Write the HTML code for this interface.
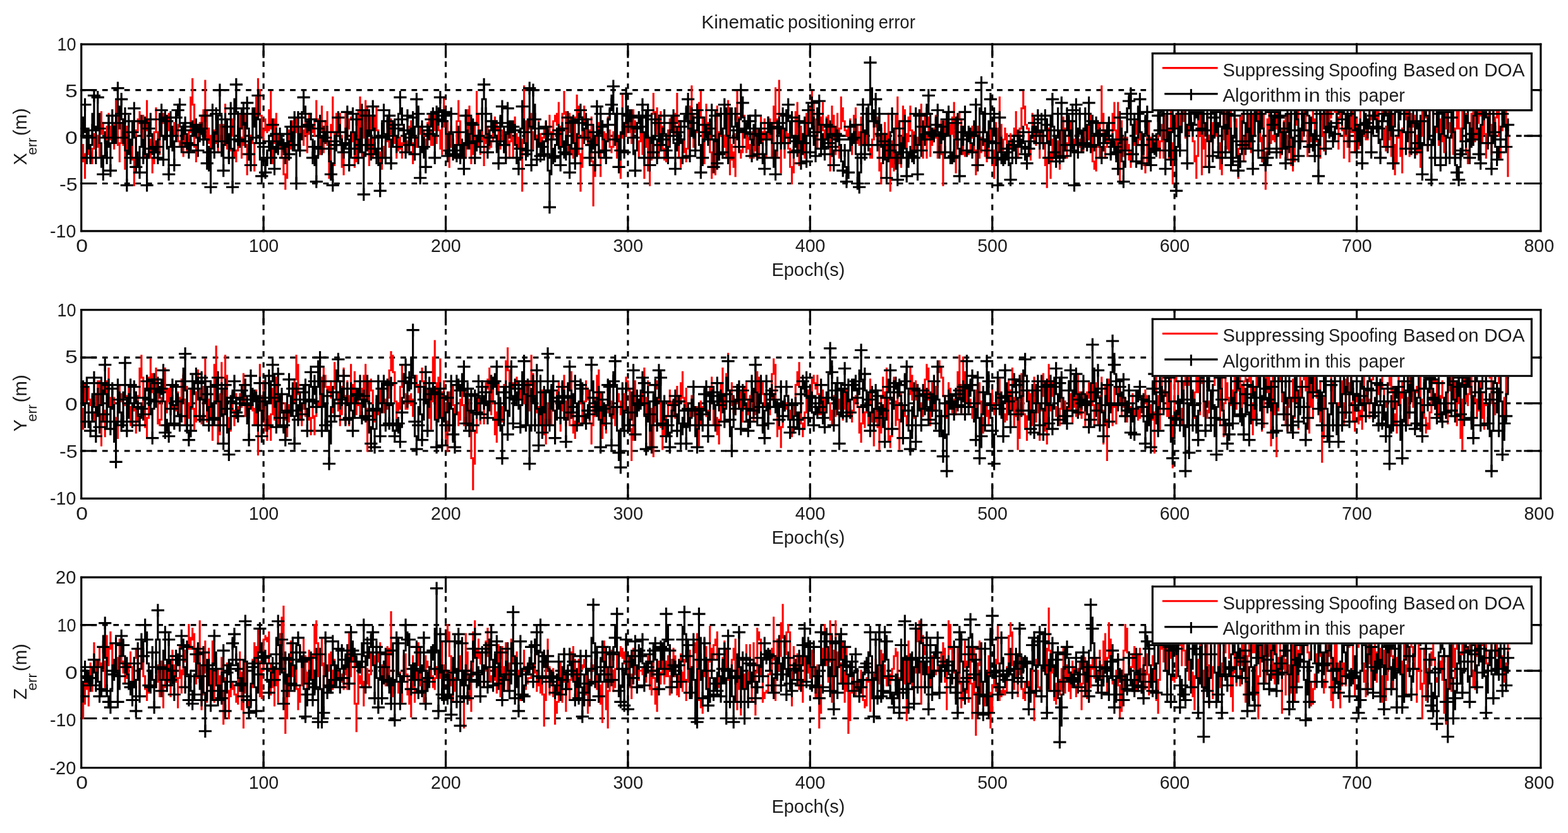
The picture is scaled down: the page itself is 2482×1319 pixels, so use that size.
<!DOCTYPE html>
<html lang="en">
<head>
<meta charset="utf-8">
<title>Kinematic positioning error</title>
<style>
html,body{margin:0;padding:0;background:#fff;}
body{width:2482px;height:1319px;overflow:hidden;}
svg{display:block;}
text{font-family:"Liberation Sans", Arial, Helvetica, sans-serif;font-size:29.2px;fill:#1c1c1c;}
.v{fill:none;stroke:#000;stroke-width:3.15;}
.h{fill:none;stroke:#000;stroke-width:3.15;}
.vg{fill:none;stroke:#000;stroke-width:3.15;stroke-dasharray:8.72 8.72;}
.hg{fill:none;stroke:#000;stroke-width:3.15;stroke-dasharray:8.742 8.742;}
.red{fill:none;stroke:#f00;stroke-width:3.15;}
.rh{fill:none;stroke:#f00;stroke-width:3.15;}
.lg{fill:#fff;stroke:none;}
</style>
</head>
<body>
<svg xmlns="http://www.w3.org/2000/svg" width="2482" height="1319" viewBox="0 0 2482 1319">
<rect x="0" y="0" width="2482" height="1319" fill="#fff"/>
<text x="1110.3" y="45.3" textLength="131.1" lengthAdjust="spacingAndGlyphs">Kinematic</text>
<text x="1247" y="45.3" textLength="137.4" lengthAdjust="spacingAndGlyphs">positioning</text>
<text x="1390.8" y="45.3" textLength="58" lengthAdjust="spacingAndGlyphs">error</text>
<g id="plot1">
<clipPath id="clip0"><rect x="127.3" y="68.6" width="2312.97" height="298.7"/></clipPath>
<path class="vg" d="M417.14 367.58V68.6M705.54 367.58V68.6M993.94 367.58V68.6M1282.34 367.58V68.6M1570.74 367.58V68.6M1859.14 367.58V68.6M2147.54 367.58V68.6"/>
<path class="hg" d="M126.93 290.45H2440.27M126.93 215.05H2440.27M126.93 142.55H2440.27"/>
<path class="v" d="M417.14 68.6V91.8M417.14 367.3V344.1M705.54 68.6V91.8M705.54 367.3V344.1M993.94 68.6V91.8M993.94 367.3V344.1M1282.34 68.6V91.8M1282.34 367.3V344.1M1570.74 68.6V91.8M1570.74 367.3V344.1M1859.14 68.6V91.8M1859.14 367.3V344.1M2147.54 68.6V91.8M2147.54 367.3V344.1"/>
<path class="h" d="M127.3 290.45H153.26M2440.27 290.45H2412.29M127.3 215.05H153.26M2440.27 215.05H2412.29M127.3 142.55H153.26M2440.27 142.55H2412.29"/>
<g clip-path="url(#clip0)">
<path class="red" d="M131.63 228.1V257.1M134.51 242.6V283.2M137.39 202V245.5M140.28 219.4V245.5M143.16 242.6V257.1M146.05 233.9V260M148.93 210.7V236.8M151.81 210.7V216.5M154.7 213.6V233.9M157.58 210.7V248.4M160.47 175.9V213.6M163.35 193.3V213.6M166.23 210.7V219.4M169.12 199.1V222.3M172 178.8V202M174.89 199.1V222.3M177.77 216.5V228.1M180.65 196.2V236.8M183.54 158.5V199.1M186.42 181.7V231M189.31 225.2V257.1M192.19 193.3V228.1M195.07 187.5V231M197.96 228.1V268.7M200.84 199.1V236.8M203.73 207.8V228.1M206.61 222.3V239.7M209.49 207.8V254.2M212.38 251.3V294.8M215.26 204.9V257.1M218.15 187.5V207.8M221.03 175.9V196.2M223.91 193.3V210.7M226.8 181.7V219.4M229.68 204.9V251.3M232.57 158.5V207.8M235.45 187.5V222.3M238.33 219.4V251.3M241.22 248.4V274.5M244.1 207.8V260M246.99 170.1V210.7M249.87 207.8V245.5M252.75 210.7V245.5M255.64 178.8V213.6M258.52 178.8V196.2M261.41 193.3V222.3M264.29 204.9V233.9M267.17 178.8V207.8M270.06 196.2V213.6M272.94 210.7V213.6M275.83 193.3V213.6M278.71 178.8V199.1M281.59 196.2V225.2M284.48 222.3V233.9M287.36 216.5V233.9M290.25 222.3V248.4M293.13 196.2V225.2M296.01 216.5V239.7M298.9 207.8V239.7M301.78 152.7V210.7M304.67 123.7V167.2M307.55 164.3V233.9M310.43 228.1V257.1M313.32 199.1V231M316.2 193.3V207.8M319.09 181.7V204.9M321.97 173V222.3M324.85 126.6V178.8M327.74 175.9V225.2M330.62 202V228.1M333.51 213.6V251.3M336.39 178.8V216.5M339.27 204.9V233.9M342.16 207.8V228.1M345.04 219.4V242.6M347.93 196.2V222.3M350.81 216.5V239.7M353.69 196.2V233.9M356.58 164.3V199.1M359.46 187.5V236.8M362.35 233.9V257.1M365.23 202V239.7M368.11 187.5V216.5M371 213.6V248.4M373.88 236.8V257.1M376.77 199.1V239.7M379.65 181.7V219.4M382.53 216.5V251.3M385.42 193.3V231M388.3 178.8V231M391.19 228.1V277.4M394.07 216.5V248.4M396.95 213.6V251.3M399.84 178.8V228.1M402.72 225.2V271.6M405.61 152.7V228.1M408.49 123.7V155.6M411.37 141.1V184.6M414.26 181.7V216.5M417.14 204.9V222.3M420.03 187.5V207.8M422.91 199.1V210.7M425.79 173V207.8M428.68 144V204.9M431.56 202V260M434.45 187.5V228.1M437.33 178.8V213.6M440.21 210.7V242.6M443.1 216.5V236.8M445.98 233.9V251.3M448.87 248.4V277.4M451.75 274.5V300.6M454.63 233.9V283.2M457.52 204.9V236.8M460.4 213.6V236.8M463.29 190.4V216.5M466.17 204.9V219.4M469.05 187.5V210.7M471.94 178.8V202M474.82 199.1V219.4M477.71 178.8V207.8M480.59 204.9V231M483.47 178.8V213.6M486.36 210.7V242.6M489.24 178.8V213.6M492.13 190.4V202M495.01 199.1V210.7M497.89 187.5V216.5M500.78 158.5V190.4M503.66 187.5V231M506.55 204.9V245.5M509.43 167.2V207.8M512.31 204.9V242.6M515.2 190.4V225.2M518.08 175.9V231M520.97 228.1V283.2M523.85 196.2V262.9M526.73 152.7V210.7M529.62 207.8V262.9M532.5 178.8V222.3M535.39 196.2V213.6M538.27 178.8V216.5M541.15 213.6V265.8M544.04 228.1V277.4M546.92 178.8V231M549.81 199.1V219.4M552.69 187.5V204.9M555.57 184.6V190.4M558.46 181.7V225.2M561.34 222.3V265.8M564.23 219.4V257.1M567.11 175.9V222.3M569.99 152.7V202M572.88 199.1V248.4M575.76 173V219.4M578.65 158.5V175.9M581.53 170.1V222.3M584.41 219.4V262.9M587.3 184.6V225.2M590.18 216.5V251.3M593.07 181.7V222.3M595.95 170.1V207.8M598.83 204.9V242.6M601.72 239.7V257.1M604.6 248.4V268.7M607.49 231V251.3M610.37 222.3V251.3M613.25 193.3V225.2M616.14 210.7V233.9M619.02 187.5V213.6M621.91 193.3V202M624.79 199.1V228.1M627.67 225.2V251.3M630.56 219.4V239.7M633.44 216.5V236.8M636.33 225.2V251.3M639.21 199.1V228.1M642.09 216.5V239.7M644.98 222.3V239.7M647.86 199.1V225.2M650.75 190.4V228.1M653.63 225.2V260M656.51 231V254.2M659.4 216.5V233.9M662.28 210.7V219.4M665.17 199.1V213.6M668.05 196.2V207.8M670.93 204.9V225.2M673.82 219.4V236.8M676.7 193.3V222.3M679.59 181.7V207.8M682.47 204.9V231M685.35 204.9V231M688.24 181.7V207.8M691.12 204.9V228.1M694.01 184.6V207.8M696.89 204.9V236.8M699.77 199.1V245.5M702.66 152.7V202M705.54 193.3V236.8M708.43 190.4V231M711.31 228.1V265.8M714.19 199.1V233.9M717.08 219.4V248.4M719.96 233.9V251.3M722.85 190.4V236.8M725.73 158.5V193.3M728.61 190.4V233.9M731.5 231V245.5M734.38 242.6V251.3M737.27 213.6V251.3M740.15 173V216.5M743.03 167.2V216.5M745.92 213.6V260M748.8 225.2V245.5M751.69 193.3V245.5M754.57 144V196.2M757.45 178.8V231M760.34 210.7V245.5M763.22 178.8V222.3M766.11 219.4V262.9M768.99 190.4V228.1M771.87 199.1V225.2M774.76 222.3V236.8M777.64 222.3V233.9M780.53 202V225.2M783.41 184.6V204.9M786.29 190.4V204.9M789.18 202V225.2M792.06 219.4V236.8M794.95 204.9V222.3M797.83 216.5V242.6M800.71 228.1V254.2M803.6 204.9V231M806.48 222.3V251.3M809.37 196.2V225.2M812.25 216.5V251.3M815.13 184.6V219.4M818.02 210.7V236.8M820.9 216.5V236.8M823.79 202V254.2M826.67 219.4V303.5M829.55 135.3V222.3M832.44 190.4V245.5M835.32 202V231M838.21 184.6V204.9M841.09 178.8V210.7M843.97 207.8V236.8M846.86 190.4V216.5M849.74 213.6V236.8M852.63 190.4V216.5M855.51 210.7V231M858.39 216.5V225.2M861.28 204.9V219.4M864.16 193.3V213.6M867.05 204.9V228.1M869.93 181.7V210.7M872.81 207.8V236.8M875.7 190.4V219.4M878.58 181.7V193.3M881.47 178.8V199.1M884.35 161.4V202M887.23 199.1V239.7M890.12 178.8V228.1M893 144V181.7M895.89 175.9V225.2M898.77 207.8V239.7M901.65 178.8V210.7M904.54 207.8V245.5M907.42 233.9V251.3M910.31 184.6V236.8M913.19 149.8V187.5M916.07 167.2V245.5M918.96 242.6V303.5M921.84 196.2V265.8M924.73 167.2V199.1M927.61 187.5V222.3M930.49 219.4V231M933.38 204.9V231M936.26 184.6V257.1M939.15 254.2V326.7M942.03 228.1V280.3M944.91 210.7V231M947.8 193.3V239.7M950.68 236.8V280.3M953.57 202V242.6M956.45 207.8V225.2M959.33 210.7V236.8M962.22 184.6V213.6M965.1 204.9V233.9M967.99 231V242.6M970.87 207.8V233.9M973.75 196.2V225.2M976.64 222.3V251.3M979.52 213.6V251.3M982.41 216.5V283.2M985.29 149.8V219.4M988.17 193.3V236.8M991.06 187.5V216.5M993.94 181.7V190.4M996.83 187.5V210.7M999.71 199.1V228.1M1002.59 173V202M1005.48 190.4V210.7M1008.36 207.8V233.9M1011.25 222.3V251.3M1014.13 193.3V225.2M1017.01 199.1V245.5M1019.9 231V283.2M1022.78 181.7V233.9M1025.67 213.6V271.6M1028.55 251.3V294.8M1031.43 178.8V254.2M1034.32 146.9V181.7M1037.2 175.9V207.8M1040.09 170.1V213.6M1042.97 210.7V251.3M1045.85 175.9V216.5M1048.74 199.1V236.8M1051.62 233.9V254.2M1054.51 236.8V257.1M1057.39 204.9V239.7M1060.27 187.5V207.8M1063.16 184.6V199.1M1066.04 196.2V210.7M1068.93 178.8V213.6M1071.81 146.9V193.3M1074.69 190.4V251.3M1077.58 248.4V265.8M1080.46 228.1V251.3M1083.35 222.3V242.6M1086.23 233.9V257.1M1089.11 204.9V236.8M1092 167.2V207.8M1094.88 135.3V181.7M1097.77 178.8V233.9M1100.65 207.8V239.7M1103.53 178.8V210.7M1106.42 161.4V181.7M1109.3 144V187.5M1112.19 184.6V245.5M1115.07 210.7V260M1117.95 164.3V213.6M1120.84 193.3V225.2M1123.72 199.1V242.6M1126.61 239.7V283.2M1129.49 222.3V254.2M1132.37 222.3V277.4M1135.26 167.2V225.2M1138.14 207.8V251.3M1141.03 178.8V216.5M1143.91 207.8V239.7M1146.79 213.6V233.9M1149.68 204.9V251.3M1152.56 158.5V219.4M1155.45 216.5V277.4M1158.33 228.1V254.2M1161.21 239.7V265.8M1164.1 210.7V280.3M1166.98 144V213.6M1169.87 184.6V239.7M1172.75 236.8V251.3M1175.63 207.8V242.6M1178.52 181.7V213.6M1181.4 210.7V242.6M1184.29 216.5V236.8M1187.17 228.1V251.3M1190.05 207.8V231M1192.94 228.1V251.3M1195.82 213.6V239.7M1198.71 202V228.1M1201.59 216.5V251.3M1204.47 184.6V219.4M1207.36 207.8V231M1210.24 187.5V222.3M1213.13 216.5V251.3M1216.01 184.6V219.4M1218.89 187.5V222.3M1221.78 219.4V251.3M1224.66 167.2V225.2M1227.55 138.2V196.2M1230.43 187.5V248.4M1233.31 126.6V202M1236.2 199.1V274.5M1239.08 178.8V228.1M1241.97 213.6V251.3M1244.85 184.6V219.4M1247.73 210.7V236.8M1250.62 233.9V265.8M1253.5 262.9V291.9M1256.39 222.3V274.5M1259.27 175.9V225.2M1262.15 161.4V213.6M1265.04 210.7V262.9M1267.92 199.1V233.9M1270.81 210.7V239.7M1273.69 213.6V251.3M1276.57 178.8V216.5M1279.46 181.7V190.4M1282.34 170.1V196.2M1285.23 144V173M1288.11 161.4V190.4M1290.99 187.5V219.4M1293.88 207.8V236.8M1296.76 178.8V210.7M1299.65 184.6V207.8M1302.53 161.4V207.8M1305.41 204.9V248.4M1308.3 184.6V219.4M1311.18 181.7V228.1M1314.07 219.4V271.6M1316.95 167.2V222.3M1319.83 181.7V222.3M1322.72 210.7V245.5M1325.6 178.8V216.5M1328.49 202V251.3M1331.37 152.7V204.9M1334.25 170.1V193.3M1337.14 190.4V207.8M1340.02 204.9V216.5M1342.91 202V216.5M1345.79 187.5V219.4M1348.67 216.5V245.5M1351.56 181.7V219.4M1354.44 170.1V199.1M1357.33 196.2V228.1M1360.21 207.8V231M1363.09 184.6V210.7M1365.98 196.2V228.1M1368.86 225.2V245.5M1371.75 210.7V231M1374.63 216.5V236.8M1377.51 233.9V251.3M1380.4 219.4V251.3M1383.28 193.3V222.3M1386.17 193.3V202M1389.05 184.6V219.4M1391.93 216.5V271.6M1394.82 257.1V291.9M1397.7 210.7V260M1400.59 193.3V225.2M1403.47 213.6V251.3M1406.35 178.8V242.6M1409.24 239.7V303.5M1412.12 222.3V265.8M1415.01 239.7V271.6M1417.89 181.7V242.6M1420.77 152.7V204.9M1423.66 202V260M1426.54 216.5V265.8M1429.43 167.2V219.4M1432.31 173V213.6M1435.19 210.7V245.5M1438.08 184.6V225.2M1440.96 167.2V207.8M1443.85 204.9V245.5M1446.73 207.8V228.1M1449.61 222.3V239.7M1452.5 216.5V231M1455.38 190.4V219.4M1458.27 164.3V210.7M1461.15 207.8V251.3M1464.03 178.8V216.5M1466.92 213.6V251.3M1469.8 184.6V219.4M1472.69 216.5V248.4M1475.57 210.7V231M1478.45 202V225.2M1481.34 181.7V219.4M1484.22 216.5V251.3M1487.11 210.7V242.6M1489.99 190.4V245.5M1492.87 242.6V294.8M1495.76 190.4V245.5M1498.64 184.6V193.3M1501.53 178.8V199.1M1504.41 196.2V216.5M1507.29 184.6V213.6M1510.18 161.4V219.4M1513.06 216.5V274.5M1515.95 181.7V231M1518.83 178.8V190.4M1521.71 187.5V219.4M1524.6 216.5V245.5M1527.48 239.7V248.4M1530.37 233.9V242.6M1533.25 236.8V245.5M1536.13 216.5V239.7M1539.02 199.1V219.4M1541.9 196.2V239.7M1544.79 236.8V277.4M1547.67 199.1V239.7M1550.55 225.2V251.3M1553.44 216.5V242.6M1556.32 202V222.3M1559.21 219.4V248.4M1562.09 245.5V257.1M1564.97 222.3V251.3M1567.86 204.9V225.2M1570.74 222.3V262.9M1573.63 236.8V283.2M1576.51 193.3V239.7M1579.39 202V251.3M1582.28 152.7V204.9M1585.16 196.2V239.7M1588.05 219.4V239.7M1590.93 202V222.3M1593.81 210.7V236.8M1596.7 231V251.3M1599.58 210.7V233.9M1602.47 231V251.3M1605.35 202V239.7M1608.23 175.9V216.5M1611.12 213.6V251.3M1614 202V231M1616.89 170.1V204.9M1619.77 144V173M1622.65 167.2V199.1M1625.54 196.2V204.9M1628.42 202V231M1631.31 216.5V254.2M1634.19 178.8V219.4M1637.07 199.1V228.1M1639.96 204.9V231M1642.84 178.8V216.5M1645.73 213.6V251.3M1648.61 196.2V225.2M1651.49 210.7V228.1M1654.38 225.2V262.9M1657.26 248.4V297.7M1660.15 202V251.3M1663.03 242.6V283.2M1665.91 219.4V254.2M1668.8 219.4V231M1671.68 228.1V239.7M1674.57 222.3V248.4M1677.45 245.5V268.7M1680.33 204.9V248.4M1683.22 184.6V207.8M1686.1 202V236.8M1688.99 225.2V251.3M1691.87 196.2V228.1M1694.75 190.4V204.9M1697.64 202V231M1700.52 219.4V245.5M1703.41 193.3V222.3M1706.29 216.5V242.6M1709.17 219.4V233.9M1712.06 228.1V239.7M1714.94 222.3V239.7M1717.83 204.9V225.2M1720.71 196.2V210.7M1723.59 199.1V222.3M1726.48 178.8V216.5M1729.36 213.6V257.1M1732.25 254.2V268.7M1735.13 231V271.6M1738.01 193.3V233.9M1740.9 193.3V251.3M1743.78 135.3V196.2M1746.67 178.8V239.7M1749.55 231V251.3M1752.43 204.9V233.9M1755.32 193.3V225.2M1758.2 222.3V251.3M1761.09 178.8V225.2M1763.97 161.4V207.8M1766.85 204.9V251.3M1769.74 161.4V225.2M1772.62 222.3V286.1M1775.51 190.4V239.7M1778.39 216.5V248.4M1781.27 233.9V251.3M1784.16 216.5V236.8M1787.04 228.1V254.2M1789.93 239.7V265.8M1792.81 216.5V242.6M1795.69 210.7V231M1798.58 190.4V213.6M1801.46 210.7V231M1804.35 207.8V222.3M1807.23 219.4V239.7M1810.11 236.8V262.9M1813 257.1V274.5M1815.88 216.5V260M1818.77 190.4V219.4M1821.65 216.5V242.6M1824.53 210.7V228.1M1827.42 219.4V228.1M1830.3 219.4V228.1M1833.19 213.6V233.9M1836.07 222.3V251.3M1838.95 196.2V225.2M1841.84 216.5V251.3M1844.72 181.7V219.4M1847.61 184.6V222.3M1850.49 204.9V251.3M1853.37 158.5V228.1M1856.26 225.2V291.9M1859.14 181.7V239.7M1862.03 178.8V204.9M1864.91 155.6V181.7M1867.79 178.8V204.9M1870.68 173V193.3M1873.56 164.3V193.3M1876.45 190.4V219.4M1879.33 210.7V222.3M1882.21 193.3V213.6M1885.1 184.6V202M1887.98 199.1V225.2M1890.87 222.3V257.1M1893.75 245.5V283.2M1896.63 181.7V248.4M1899.52 152.7V216.5M1902.4 213.6V277.4M1905.29 190.4V236.8M1908.17 219.4V262.9M1911.05 178.8V222.3M1913.94 213.6V251.3M1916.82 196.2V225.2M1919.71 193.3V228.1M1922.59 161.4V196.2M1925.47 187.5V216.5M1928.36 196.2V228.1M1931.24 225.2V268.7M1934.13 219.4V277.4M1937.01 164.3V222.3M1939.89 175.9V210.7M1942.78 207.8V236.8M1945.66 202V239.7M1948.55 152.7V204.9M1951.43 141.1V155.6M1954.31 152.7V190.4M1957.2 187.5V248.4M1960.08 233.9V283.2M1962.97 184.6V236.8M1965.85 178.8V219.4M1968.73 216.5V254.2M1971.62 199.1V228.1M1974.5 207.8V236.8M1977.39 178.8V213.6M1980.27 210.7V242.6M1983.15 178.8V213.6M1986.04 178.8V216.5M1988.92 144V181.7M1991.81 175.9V210.7M1994.69 190.4V225.2M1997.57 216.5V257.1M2000.46 178.8V242.6M2003.34 239.7V300.6M2006.23 187.5V248.4M2009.11 178.8V204.9M2011.99 202V228.1M2014.88 213.6V222.3M2017.76 202V225.2M2020.65 170.1V204.9M2023.53 161.4V207.8M2026.41 204.9V251.3M2029.3 202V231M2032.18 190.4V204.9M2035.07 181.7V219.4M2037.95 213.6V251.3M2040.83 178.8V216.5M2043.72 213.6V262.9M2046.6 254.2V271.6M2049.49 196.2V257.1M2052.37 155.6V199.1M2055.25 167.2V207.8M2058.14 204.9V231M2061.02 196.2V225.2M2063.91 170.1V199.1M2066.79 161.4V207.8M2069.67 204.9V248.4M2072.56 193.3V222.3M2075.44 190.4V225.2M2078.33 158.5V193.3M2081.21 187.5V219.4M2084.09 207.8V225.2M2086.98 222.3V245.5M2089.86 213.6V251.3M2092.75 178.8V216.5M2095.63 207.8V239.7M2098.51 175.9V219.4M2101.4 152.7V178.8M2104.28 173V193.3M2107.17 170.1V187.5M2110.05 161.4V173M2112.93 170.1V178.8M2115.82 161.4V202M2118.7 184.6V236.8M2121.59 132.4V187.5M2124.47 146.9V207.8M2127.35 204.9V251.3M2130.24 178.8V216.5M2133.12 193.3V233.9M2136.01 207.8V257.1M2138.89 158.5V210.7M2141.77 167.2V210.7M2144.66 207.8V242.6M2147.54 187.5V216.5M2150.43 204.9V236.8M2153.31 175.9V210.7M2156.19 207.8V239.7M2159.08 190.4V216.5M2161.96 204.9V222.3M2164.85 199.1V222.3M2167.73 175.9V202M2170.61 181.7V190.4M2173.5 167.2V193.3M2176.38 141.1V170.1M2179.27 167.2V196.2M2182.15 170.1V196.2M2185.03 149.8V173M2187.92 164.3V204.9M2190.8 202V233.9M2193.69 199.1V239.7M2196.57 161.4V202M2199.45 178.8V222.3M2202.34 213.6V248.4M2205.22 178.8V231M2208.11 228.1V277.4M2210.99 216.5V260M2213.87 193.3V219.4M2216.76 204.9V248.4M2219.64 202V274.5M2222.53 129.5V204.9M2225.41 158.5V190.4M2228.29 146.9V199.1M2231.18 196.2V248.4M2234.06 178.8V216.5M2236.95 190.4V202M2239.83 181.7V216.5M2242.71 213.6V245.5M2245.6 213.6V242.6M2248.48 213.6V265.8M2251.37 161.4V216.5M2254.25 152.7V178.8M2257.13 129.5V187.5M2260.02 184.6V239.7M2262.9 170.1V210.7M2265.79 161.4V175.9M2268.67 164.3V187.5M2271.55 141.1V167.2M2274.44 164.3V210.7M2277.32 207.8V231M2280.21 187.5V210.7M2283.09 196.2V225.2M2285.97 202V242.6M2288.86 161.4V204.9M2291.74 173V199.1M2294.63 193.3V210.7M2297.51 178.8V210.7M2300.39 207.8V245.5M2303.28 202V248.4M2306.16 158.5V204.9M2309.05 170.1V204.9M2311.93 202V225.2M2314.81 164.3V210.7M2317.7 135.3V181.7M2320.58 178.8V242.6M2323.47 239.7V260M2326.35 228.1V251.3M2329.23 178.8V231M2332.12 135.3V181.7M2335 178.8V225.2M2337.89 193.3V219.4M2340.77 158.5V196.2M2343.65 138.2V184.6M2346.54 181.7V228.1M2349.42 170.1V213.6M2352.31 210.7V251.3M2355.19 178.8V231M2358.07 146.9V199.1M2360.96 196.2V245.5M2363.84 164.3V207.8M2366.73 184.6V216.5M2369.61 152.7V187.5M2372.49 167.2V216.5M2375.38 204.9V251.3M2378.26 161.4V207.8M2381.15 155.6V181.7M2384.03 132.4V207.8M2386.91 204.9V280.3"/>
<path class="v" d="M131.63 184.6V204.9M134.51 164.3V210.7M137.39 207.8V251.3M140.28 216.5V236.8M143.16 228.1V251.3M146.05 178.8V231M148.93 149.8V202M151.81 199.1V251.3M154.7 152.7V204.9M157.58 178.8V228.1M160.47 225.2V265.8M163.35 245.5V277.4M166.23 216.5V248.4M169.12 222.3V251.3M172 193.3V233.9M174.89 225.2V271.6M177.77 181.7V228.1M180.65 199.1V219.4M183.54 178.8V219.4M186.42 138.2V181.7M189.31 167.2V196.2M192.19 155.6V190.4M195.07 187.5V219.4M197.96 178.8V239.7M200.84 236.8V294.8M203.73 190.4V245.5M206.61 219.4V251.3M209.49 190.4V231M212.38 170.1V219.4M215.26 216.5V265.8M218.15 248.4V262.9M221.03 231V274.5M223.91 190.4V233.9M226.8 219.4V251.3M229.68 193.3V245.5M232.57 242.6V294.8M235.45 196.2V251.3M238.33 187.5V213.6M241.22 210.7V239.7M244.1 236.8V242.6M246.99 231V242.6M249.87 219.4V251.3M252.75 181.7V222.3M255.64 173V216.5M258.52 213.6V254.2M261.41 184.6V222.3M264.29 187.5V236.8M267.17 231V277.4M270.06 184.6V233.9M272.94 199.1V239.7M275.83 222.3V262.9M278.71 178.8V225.2M281.59 170.1V181.7M284.48 164.3V202M287.36 199.1V233.9M290.25 199.1V222.3M293.13 193.3V213.6M296.01 210.7V236.8M298.9 233.9V242.6M301.78 213.6V236.8M304.67 199.1V216.5M307.55 202V207.8M310.43 196.2V219.4M313.32 216.5V239.7M316.2 204.9V225.2M319.09 202V213.6M321.97 202V222.3M324.85 181.7V222.3M327.74 219.4V260M330.62 239.7V271.6M333.51 233.9V297.7M336.39 173V236.8M339.27 207.8V242.6M342.16 178.8V213.6M345.04 181.7V225.2M347.93 141.1V184.6M350.81 181.7V248.4M353.69 228.1V271.6M356.58 187.5V231M359.46 193.3V228.1M362.35 210.7V251.3M365.23 170.1V236.8M368.11 233.9V297.7M371 155.6V239.7M373.88 132.4V178.8M376.77 175.9V225.2M379.65 202V225.2M382.53 175.9V204.9M385.42 170.1V199.1M388.3 193.3V225.2M391.19 161.4V204.9M394.07 202V254.2M396.95 219.4V262.9M399.84 178.8V222.3M402.72 178.8V202M405.61 184.6V219.4M408.49 149.8V190.4M411.37 187.5V254.2M414.26 251.3V280.3M417.14 231V257.1M420.03 251.3V274.5M422.91 236.8V262.9M425.79 222.3V239.7M428.68 222.3V251.3M431.56 196.2V233.9M434.45 231V268.7M437.33 210.7V242.6M440.21 222.3V236.8M443.1 210.7V225.2M445.98 219.4V231M448.87 228.1V242.6M451.75 231V251.3M454.63 210.7V233.9M457.52 222.3V245.5M460.4 199.1V225.2M463.29 207.8V231M466.17 184.6V239.7M469.05 236.8V291.9M471.94 184.6V239.7M474.82 210.7V239.7M477.71 175.9V222.3M480.59 152.7V178.8M483.47 167.2V193.3M486.36 190.4V202M489.24 193.3V202M492.13 187.5V222.3M495.01 219.4V251.3M497.89 231V262.9M500.78 245.5V289M503.66 196.2V248.4M506.55 190.4V216.5M509.43 213.6V236.8M512.31 207.8V225.2M515.2 213.6V219.4M518.08 207.8V225.2M520.97 222.3V257.1M523.85 254.2V286.1M526.73 257.1V294.8M529.62 222.3V260M532.5 207.8V231M535.39 184.6V210.7M538.27 196.2V222.3M541.15 219.4V236.8M544.04 233.9V242.6M546.92 202V236.8M549.81 175.9V222.3M552.69 219.4V262.9M555.57 207.8V251.3M558.46 178.8V210.7M561.34 207.8V236.8M564.23 187.5V222.3M567.11 219.4V251.3M569.99 202V242.6M572.88 173V242.6M575.76 239.7V309.3M578.65 181.7V248.4M581.53 204.9V231M584.41 181.7V216.5M587.3 204.9V245.5M590.18 167.2V207.8M593.07 202V245.5M595.95 233.9V251.3M598.83 216.5V262.9M601.72 257.1V303.5M604.6 193.3V260M607.49 173V213.6M610.37 210.7V251.3M613.25 187.5V222.3M616.14 181.7V222.3M619.02 219.4V260M621.91 199.1V233.9M624.79 196.2V216.5M627.67 213.6V233.9M630.56 178.8V219.4M633.44 152.7V181.7M636.33 170.1V199.1M639.21 196.2V225.2M642.09 210.7V242.6M644.98 181.7V213.6M647.86 204.9V231M650.75 202V225.2M653.63 184.6V216.5M656.51 199.1V245.5M659.4 155.6V202M662.28 167.2V233.9M665.17 231V283.2M668.05 199.1V242.6M670.93 216.5V251.3M673.82 233.9V265.8M676.7 204.9V236.8M679.59 199.1V213.6M682.47 184.6V202M685.35 178.8V216.5M688.24 213.6V251.3M691.12 175.9V216.5M694.01 170.1V190.4M696.89 152.7V175.9M699.77 173V193.3M702.66 178.8V190.4M705.54 175.9V213.6M708.43 210.7V248.4M711.31 207.8V245.5M714.19 178.8V213.6M717.08 210.7V245.5M719.96 236.8V245.5M722.85 228.1V248.4M725.73 207.8V231M728.61 228.1V251.3M731.5 228.1V251.3M734.38 225.2V268.7M737.27 181.7V228.1M740.15 204.9V228.1M743.03 210.7V228.1M745.92 193.3V213.6M748.8 196.2V225.2M751.69 222.3V251.3M754.57 219.4V239.7M757.45 213.6V225.2M760.34 204.9V233.9M763.22 155.6V207.8M766.11 132.4V158.5M768.99 155.6V213.6M771.87 210.7V242.6M774.76 204.9V231M777.64 190.4V207.8M780.53 196.2V204.9M783.41 202V216.5M786.29 213.6V242.6M789.18 225.2V260M792.06 181.7V228.1M794.95 167.2V202M797.83 199.1V242.6M800.71 210.7V251.3M803.6 170.1V213.6M806.48 190.4V210.7M809.37 199.1V207.8M812.25 199.1V204.9M815.13 202V231M818.02 228.1V260M820.9 251.3V268.7M823.79 202V254.2M826.67 167.2V204.9M829.55 187.5V228.1M832.44 225.2V245.5M835.32 187.5V242.6M838.21 138.2V202M841.09 199.1V262.9M843.97 141.1V204.9M846.86 164.3V222.3M849.74 219.4V254.2M852.63 202V231M855.51 225.2V248.4M858.39 231V242.6M861.28 222.3V245.5M864.16 199.1V225.2M867.05 204.9V271.6M869.93 268.7V329.6M872.81 219.4V277.4M875.7 233.9V251.3M878.58 228.1V251.3M881.47 207.8V231M884.35 204.9V236.8M887.23 231V262.9M890.12 202V233.9M893 222.3V245.5M895.89 213.6V245.5M898.77 184.6V231M901.65 228.1V274.5M904.54 193.3V236.8M907.42 190.4V228.1M910.31 225.2V260M913.19 210.7V248.4M916.07 181.7V213.6M918.96 173V187.5M921.84 184.6V207.8M924.73 202V219.4M927.61 187.5V204.9M930.49 193.3V225.2M933.38 222.3V251.3M936.26 219.4V242.6M939.15 207.8V236.8M942.03 213.6V262.9M944.91 167.2V216.5M947.8 204.9V242.6M950.68 178.8V213.6M953.57 190.4V222.3M956.45 219.4V245.5M959.33 222.3V251.3M962.22 187.5V225.2M965.1 173V190.4M967.99 149.8V175.9M970.87 135.3V181.7M973.75 178.8V222.3M976.64 178.8V225.2M979.52 222.3V265.8M982.41 207.8V254.2M985.29 178.8V213.6M988.17 193.3V242.6M991.06 146.9V196.2M993.94 173V202M996.83 181.7V193.3M999.71 181.7V202M1002.59 199.1V245.5M1005.48 236.8V271.6M1008.36 193.3V239.7M1011.25 184.6V196.2M1014.13 181.7V202M1017.01 164.3V210.7M1019.9 207.8V251.3M1022.78 178.8V219.4M1025.67 173V219.4M1028.55 216.5V262.9M1031.43 187.5V228.1M1034.32 213.6V242.6M1037.2 187.5V222.3M1040.09 219.4V251.3M1042.97 193.3V225.2M1045.85 210.7V231M1048.74 202V228.1M1051.62 181.7V213.6M1054.51 210.7V245.5M1057.39 231V251.3M1060.27 204.9V233.9M1063.16 187.5V207.8M1066.04 181.7V228.1M1068.93 225.2V268.7M1071.81 207.8V239.7M1074.69 210.7V222.3M1077.58 199.1V228.1M1080.46 219.4V251.3M1083.35 184.6V222.3M1086.23 167.2V187.5M1089.11 155.6V204.9M1092 202V248.4M1094.88 178.8V216.5M1097.77 187.5V219.4M1100.65 204.9V239.7M1103.53 173V207.8M1106.42 178.8V231M1109.3 228.1V274.5M1112.19 222.3V262.9M1115.07 196.2V225.2M1117.95 202V216.5M1120.84 210.7V222.3M1123.72 187.5V213.6M1126.61 173V222.3M1129.49 219.4V265.8M1132.37 181.7V225.2M1135.26 219.4V260M1138.14 210.7V254.2M1141.03 178.8V213.6M1143.91 202V242.6M1146.79 164.3V204.9M1149.68 173V216.5M1152.56 213.6V251.3M1155.45 178.8V216.5M1158.33 178.8V202M1161.21 199.1V219.4M1164.1 178.8V202M1166.98 193.3V222.3M1169.87 187.5V233.9M1172.75 141.1V190.4M1175.63 152.7V187.5M1178.52 184.6V210.7M1181.4 196.2V207.8M1184.29 190.4V199.1M1187.17 190.4V222.3M1190.05 219.4V248.4M1192.94 196.2V231M1195.82 181.7V216.5M1198.71 213.6V245.5M1201.59 207.8V231M1204.47 202V228.1M1207.36 225.2V260M1210.24 242.6V268.7M1213.13 207.8V245.5M1216.01 193.3V210.7M1218.89 199.1V204.9M1221.78 202V228.1M1224.66 225.2V265.8M1227.55 236.8V277.4M1230.43 196.2V239.7M1233.31 193.3V213.6M1236.2 202V228.1M1239.08 178.8V204.9M1241.97 202V228.1M1244.85 173V207.8M1247.73 164.3V193.3M1250.62 190.4V219.4M1253.5 184.6V216.5M1256.39 213.6V242.6M1259.27 222.3V233.9M1262.15 213.6V239.7M1265.04 190.4V228.1M1267.92 225.2V260M1270.81 210.7V245.5M1273.69 193.3V228.1M1276.57 213.6V257.1M1279.46 173V216.5M1282.34 202V242.6M1285.23 161.4V204.9M1288.11 184.6V231M1290.99 213.6V248.4M1293.88 170.1V216.5M1296.76 158.5V199.1M1299.65 196.2V236.8M1302.53 219.4V233.9M1305.41 219.4V245.5M1308.3 196.2V222.3M1311.18 210.7V228.1M1314.07 199.1V219.4M1316.95 216.5V248.4M1319.83 236.8V262.9M1322.72 210.7V239.7M1325.6 213.6V219.4M1328.49 216.5V231M1331.37 228.1V257.1M1334.25 254.2V271.6M1337.14 236.8V265.8M1340.02 262.9V289M1342.91 236.8V283.2M1345.79 199.1V239.7M1348.67 210.7V222.3M1351.56 207.8V222.3M1354.44 196.2V245.5M1357.33 242.6V294.8M1360.21 271.6V297.7M1363.09 207.8V274.5M1365.98 164.3V210.7M1368.86 204.9V245.5M1371.75 178.8V213.6M1374.63 164.3V231M1377.51 97.6V167.2M1380.4 138.2V187.5M1383.28 173V193.3M1386.17 155.6V196.2M1389.05 193.3V231M1391.93 178.8V207.8M1394.82 196.2V233.9M1397.7 231V251.3M1400.59 222.3V254.2M1403.47 251.3V283.2M1406.35 228.1V257.1M1409.24 207.8V239.7M1412.12 178.8V210.7M1415.01 204.9V242.6M1417.89 239.7V268.7M1420.77 242.6V286.1M1423.66 202V245.5M1426.54 225.2V251.3M1429.43 216.5V248.4M1432.31 190.4V236.8M1435.19 233.9V280.3M1438.08 245.5V265.8M1440.96 239.7V248.4M1443.85 242.6V251.3M1446.73 213.6V251.3M1449.61 178.8V231M1452.5 228.1V277.4M1455.38 181.7V231M1458.27 210.7V239.7M1461.15 199.1V222.3M1464.03 199.1V222.3M1466.92 164.3V202M1469.8 149.8V181.7M1472.69 178.8V213.6M1475.57 210.7V216.5M1478.45 204.9V216.5M1481.34 184.6V207.8M1484.22 173V210.7M1487.11 207.8V242.6M1489.99 204.9V228.1M1492.87 199.1V222.3M1495.76 213.6V242.6M1498.64 181.7V216.5M1501.53 175.9V216.5M1504.41 213.6V251.3M1507.29 248.4V251.3M1510.18 219.4V251.3M1513.06 190.4V222.3M1515.95 187.5V236.8M1518.83 233.9V280.3M1521.71 207.8V245.5M1524.6 199.1V222.3M1527.48 175.9V210.7M1530.37 207.8V239.7M1533.25 207.8V225.2M1536.13 210.7V228.1M1539.02 225.2V242.6M1541.9 190.4V231M1544.79 164.3V216.5M1547.67 213.6V262.9M1550.55 170.1V236.8M1553.44 129.5V178.8M1556.32 175.9V222.3M1559.21 178.8V210.7M1562.09 207.8V239.7M1564.97 190.4V233.9M1567.86 155.6V204.9M1570.74 202V251.3M1573.63 178.8V216.5M1576.51 202V262.9M1579.39 239.7V294.8M1582.28 184.6V242.6M1585.16 216.5V254.2M1588.05 251.3V254.2M1590.93 245.5V254.2M1593.81 236.8V248.4M1596.7 233.9V262.9M1599.58 257.1V286.1M1602.47 225.2V260M1605.35 222.3V239.7M1608.23 231V251.3M1611.12 213.6V233.9M1614 219.4V231M1616.89 219.4V233.9M1619.77 207.8V228.1M1622.65 225.2V254.2M1625.54 245.5V260M1628.42 228.1V248.4M1631.31 216.5V231M1634.19 202V219.4M1637.07 193.3V207.8M1639.96 199.1V216.5M1642.84 181.7V207.8M1645.73 204.9V228.1M1648.61 187.5V210.7M1651.49 204.9V228.1M1654.38 181.7V207.8M1657.26 190.4V225.2M1660.15 222.3V251.3M1663.03 181.7V231M1665.91 155.6V202M1668.8 199.1V251.3M1671.68 216.5V257.1M1674.57 178.8V219.4M1677.45 204.9V251.3M1680.33 161.4V207.8M1683.22 204.9V248.4M1686.1 204.9V239.7M1688.99 178.8V207.8M1691.87 184.6V216.5M1694.75 204.9V239.7M1697.64 173V236.8M1700.52 228.1V294.8M1703.41 164.3V231M1706.29 202V242.6M1709.17 178.8V213.6M1712.06 204.9V231M1714.94 202V231M1717.83 178.8V207.8M1720.71 196.2V231M1723.59 161.4V199.1M1726.48 196.2V233.9M1729.36 190.4V213.6M1732.25 210.7V231M1735.13 193.3V213.6M1738.01 204.9V216.5M1740.9 210.7V233.9M1743.78 231V251.3M1746.67 219.4V239.7M1749.55 210.7V222.3M1752.43 199.1V213.6M1755.32 193.3V222.3M1758.2 219.4V245.5M1761.09 219.4V233.9M1763.97 225.2V239.7M1766.85 236.8V257.1M1769.74 225.2V268.7M1772.62 184.6V228.1M1775.51 202V257.1M1778.39 254.2V289M1781.27 207.8V265.8M1784.16 170.1V210.7M1787.04 152.7V173M1789.93 146.9V199.1M1792.81 196.2V245.5M1795.69 187.5V225.2M1798.58 216.5V257.1M1801.46 167.2V219.4M1804.35 155.6V210.7M1807.23 207.8V260M1810.11 210.7V245.5M1813 184.6V213.6M1815.88 175.9V216.5M1818.77 213.6V257.1M1821.65 239.7V262.9M1824.53 219.4V242.6M1827.42 228.1V239.7M1830.3 210.7V239.7M1833.19 181.7V213.6M1836.07 175.9V207.8M1838.95 146.9V178.8M1841.84 161.4V222.3M1844.72 219.4V268.7M1847.61 178.8V225.2M1850.49 207.8V248.4M1853.37 207.8V254.2M1856.26 161.4V210.7M1859.14 181.7V254.2M1862.03 231V303.5M1864.91 161.4V233.9M1867.79 199.1V239.7M1870.68 173V210.7M1873.56 164.3V175.9M1876.45 167.2V216.5M1879.33 196.2V260M1882.21 132.4V199.1M1885.1 164.3V204.9M1887.98 193.3V207.8M1890.87 178.8V196.2M1893.75 175.9V181.7M1896.63 164.3V181.7M1899.52 149.8V178.8M1902.4 175.9V204.9M1905.29 178.8V196.2M1908.17 193.3V207.8M1911.05 178.8V225.2M1913.94 222.3V265.8M1916.82 178.8V225.2M1919.71 213.6V248.4M1922.59 181.7V219.4M1925.47 175.9V210.7M1928.36 193.3V242.6M1931.24 146.9V202M1934.13 199.1V251.3M1937.01 152.7V204.9M1939.89 196.2V242.6M1942.78 161.4V213.6M1945.66 144V204.9M1948.55 202V262.9M1951.43 216.5V257.1M1954.31 181.7V219.4M1957.2 202V248.4M1960.08 245.5V271.6M1962.97 242.6V265.8M1965.85 190.4V245.5M1968.73 149.8V196.2M1971.62 193.3V236.8M1974.5 178.8V210.7M1977.39 202V225.2M1980.27 178.8V225.2M1983.15 213.6V268.7M1986.04 152.7V216.5M1988.92 141.1V193.3M1991.81 190.4V239.7M1994.69 167.2V210.7M1997.57 155.6V204.9M2000.46 202V257.1M2003.34 254.2V262.9M2006.23 242.6V257.1M2009.11 204.9V245.5M2011.99 175.9V207.8M2014.88 187.5V199.1M2017.76 181.7V213.6M2020.65 210.7V242.6M2023.53 184.6V216.5M2026.41 181.7V210.7M2029.3 207.8V236.8M2032.18 202V233.9M2035.07 207.8V260M2037.95 155.6V210.7M2040.83 193.3V233.9M2043.72 178.8V219.4M2046.6 216.5V254.2M2049.49 167.2V231M2052.37 129.5V190.4M2055.25 187.5V248.4M2058.14 202V236.8M2061.02 178.8V204.9M2063.91 178.8V207.8M2066.79 144V181.7M2069.67 132.4V184.6M2072.56 181.7V233.9M2075.44 193.3V216.5M2078.33 210.7V239.7M2081.21 204.9V248.4M2084.09 161.4V222.3M2086.98 219.4V280.3M2089.86 155.6V231M2092.75 129.5V158.5M2095.63 149.8V204.9M2098.51 202V236.8M2101.4 178.8V210.7M2104.28 193.3V210.7M2107.17 199.1V213.6M2110.05 210.7V225.2M2112.93 202V219.4M2115.82 178.8V204.9M2118.7 164.3V181.7M2121.59 161.4V178.8M2124.47 173V190.4M2127.35 155.6V181.7M2130.24 178.8V204.9M2133.12 178.8V204.9M2136.01 181.7V225.2M2138.89 138.2V184.6M2141.77 149.8V164.3M2144.66 161.4V204.9M2147.54 202V242.6M2150.43 202V225.2M2153.31 196.2V231M2156.19 210.7V260M2159.08 164.3V213.6M2161.96 178.8V204.9M2164.85 187.5V210.7M2167.73 164.3V204.9M2170.61 202V242.6M2173.5 178.8V213.6M2176.38 173V190.4M2179.27 187.5V204.9M2182.15 202V228.1M2185.03 219.4V251.3M2187.92 184.6V222.3M2190.8 155.6V187.5M2193.69 132.4V184.6M2196.57 181.7V233.9M2199.45 175.9V207.8M2202.34 170.1V216.5M2205.22 199.1V260M2208.11 141.1V202M2210.99 144V178.8M2213.87 175.9V207.8M2216.76 155.6V190.4M2219.64 138.2V161.4M2222.53 158.5V210.7M2225.41 207.8V236.8M2228.29 184.6V225.2M2231.18 161.4V202M2234.06 190.4V236.8M2236.95 144V196.2M2239.83 193.3V242.6M2242.71 161.4V204.9M2245.6 193.3V228.1M2248.48 190.4V236.8M2251.37 225.2V277.4M2254.25 152.7V228.1M2257.13 132.4V184.6M2260.02 181.7V231M2262.9 152.7V222.3M2265.79 219.4V286.1M2268.67 167.2V228.1M2271.55 199.1V251.3M2274.44 146.9V202M2277.32 164.3V222.3M2280.21 210.7V262.9M2283.09 161.4V213.6M2285.97 170.1V216.5M2288.86 213.6V251.3M2291.74 184.6V219.4M2294.63 216.5V251.3M2297.51 175.9V219.4M2300.39 167.2V210.7M2303.28 207.8V262.9M2306.16 260V280.3M2309.05 262.9V286.1M2311.93 239.7V265.8M2314.81 202V242.6M2317.7 164.3V204.9M2320.58 181.7V225.2M2323.47 138.2V196.2M2326.35 193.3V251.3M2329.23 210.7V233.9M2332.12 181.7V222.3M2335 141.1V184.6M2337.89 152.7V204.9M2340.77 202V254.2M2343.65 196.2V260M2346.54 132.4V199.1M2349.42 155.6V181.7M2352.31 144V187.5M2355.19 184.6V228.1M2358.07 161.4V216.5M2360.96 213.6V268.7M2363.84 178.8V225.2M2366.73 193.3V233.9M2369.61 231V254.2M2372.49 231V248.4M2375.38 199.1V233.9M2378.26 173V202M2381.15 164.3V202M2384.03 199.1V233.9M2386.91 196.2V216.5"/>
<path class="v" d="M131.63 193.3v20.3M134.51 155.6v20.3M137.39 239.7v20.3M140.28 207.8v20.3M143.16 239.7v20.3M146.05 196.2v20.3M148.93 141.1v20.3M151.81 239.7v20.3M154.7 144v20.3M157.58 193.3v20.3M160.47 239.7v20.3M163.35 265.8v20.3M166.23 207.8v20.3M169.12 239.7v20.3M172 184.6v20.3M174.89 260v20.3M177.77 173v20.3M180.65 207.8v20.3M183.54 207.8v20.3M186.42 129.5v20.3M189.31 184.6v20.3M192.19 146.9v20.3M195.07 207.8v20.3M197.96 170.1v20.3M200.84 283.2v20.3M203.73 181.7v20.3M206.61 239.7v20.3M209.49 199.1v20.3M212.38 161.4v20.3M215.26 254.2v20.3M218.15 239.7v20.3M221.03 262.9v20.3M223.91 181.7v20.3M226.8 239.7v20.3M229.68 184.6v20.3M232.57 283.2v20.3M235.45 193.3v20.3M238.33 178.8v20.3M241.22 225.2v20.3M244.1 231v20.3M246.99 222.3v20.3M249.87 239.7v20.3M252.75 178.8v20.3M255.64 164.3v20.3M258.52 242.6v20.3M261.41 175.9v20.3M264.29 181.7v20.3M267.17 265.8v20.3M270.06 175.9v20.3M272.94 204.9v20.3M275.83 251.3v20.3M278.71 175.9v20.3M281.59 164.3v20.3M284.48 155.6v20.3M287.36 222.3v20.3M290.25 196.2v20.3M293.13 184.6v20.3M296.01 216.5v20.3M298.9 231v20.3M301.78 219.4v20.3M304.67 190.4v20.3M307.55 196.2v20.3M310.43 187.5v20.3M313.32 228.1v20.3M316.2 199.1v20.3M319.09 193.3v20.3M321.97 210.7v20.3M324.85 173v20.3M327.74 248.4v20.3M330.62 231v20.3M333.51 286.1v20.3M336.39 164.3v20.3M339.27 231v20.3M342.16 170.1v20.3M345.04 213.6v20.3M347.93 132.4v20.3M350.81 213.6v20.3M353.69 260v20.3M356.58 178.8v20.3M359.46 190.4v20.3M362.35 239.7v20.3M365.23 161.4v20.3M368.11 286.1v20.3M371 170.1v20.3M373.88 123.7v20.3M376.77 210.7v20.3M379.65 213.6v20.3M382.53 170.1v20.3M385.42 161.4v20.3M388.3 213.6v20.3M391.19 152.7v20.3M394.07 233.9v20.3M396.95 251.3v20.3M399.84 170.1v20.3M402.72 170.1v20.3M405.61 207.8v20.3M408.49 141.1v20.3M411.37 216.5v20.3M414.26 268.7v20.3M417.14 222.3v20.3M420.03 262.9v20.3M422.91 239.7v20.3M425.79 213.6v20.3M428.68 239.7v20.3M431.56 187.5v20.3M434.45 257.1v20.3M437.33 202v20.3M440.21 225.2v20.3M443.1 202v20.3M445.98 216.5v20.3M448.87 219.4v20.3M451.75 239.7v20.3M454.63 202v20.3M457.52 233.9v20.3M460.4 190.4v20.3M463.29 219.4v20.3M466.17 175.9v20.3M469.05 280.3v20.3M471.94 175.9v20.3M474.82 228.1v20.3M477.71 190.4v20.3M480.59 144v20.3M483.47 170.1v20.3M486.36 190.4v20.3M489.24 187.5v20.3M492.13 178.8v20.3M495.01 239.7v20.3M497.89 222.3v20.3M500.78 277.4v20.3M503.66 193.3v20.3M506.55 181.7v20.3M509.43 225.2v20.3M512.31 199.1v20.3M515.2 207.8v20.3M518.08 199.1v20.3M520.97 225.2v20.3M523.85 265.8v20.3M526.73 283.2v20.3M529.62 213.6v20.3M532.5 219.4v20.3M535.39 175.9v20.3M538.27 199.1v20.3M541.15 219.4v20.3M544.04 231v20.3M546.92 216.5v20.3M549.81 167.2v20.3M552.69 251.3v20.3M555.57 225.2v20.3M558.46 170.1v20.3M561.34 225.2v20.3M564.23 178.8v20.3M567.11 239.7v20.3M569.99 219.4v20.3M572.88 164.3v20.3M575.76 297.7v20.3M578.65 173v20.3M581.53 219.4v20.3M584.41 173v20.3M587.3 233.9v20.3M590.18 158.5v20.3M593.07 225.2v20.3M595.95 239.7v20.3M598.83 207.8v20.3M601.72 291.9v20.3M604.6 204.9v20.3M607.49 164.3v20.3M610.37 239.7v20.3M613.25 181.7v20.3M616.14 173v20.3M619.02 248.4v20.3M621.91 193.3v20.3M624.79 187.5v20.3M627.67 222.3v20.3M630.56 193.3v20.3M633.44 144v20.3M636.33 178.8v20.3M639.21 196.2v20.3M642.09 231v20.3M644.98 173v20.3M647.86 219.4v20.3M650.75 207.8v20.3M653.63 175.9v20.3M656.51 233.9v20.3M659.4 146.9v20.3M662.28 170.1v20.3M665.17 271.6v20.3M668.05 190.4v20.3M670.93 222.3v20.3M673.82 254.2v20.3M676.7 196.2v20.3M679.59 202v20.3M682.47 178.8v20.3M685.35 170.1v20.3M688.24 239.7v20.3M691.12 167.2v20.3M694.01 178.8v20.3M696.89 144v20.3M699.77 181.7v20.3M702.66 173v20.3M705.54 167.2v20.3M708.43 236.8v20.3M711.31 228.1v20.3M714.19 170.1v20.3M717.08 233.9v20.3M719.96 228.1v20.3M722.85 236.8v20.3M725.73 199.1v20.3M728.61 239.7v20.3M731.5 219.4v20.3M734.38 257.1v20.3M737.27 173v20.3M740.15 216.5v20.3M743.03 216.5v20.3M745.92 184.6v20.3M748.8 187.5v20.3M751.69 239.7v20.3M754.57 213.6v20.3M757.45 204.9v20.3M760.34 222.3v20.3M763.22 170.1v20.3M766.11 123.7v20.3M768.99 170.1v20.3M771.87 231v20.3M774.76 207.8v20.3M777.64 181.7v20.3M780.53 190.4v20.3M783.41 196.2v20.3M786.29 213.6v20.3M789.18 248.4v20.3M792.06 184.6v20.3M794.95 158.5v20.3M797.83 219.4v20.3M800.71 239.7v20.3M803.6 161.4v20.3M806.48 199.1v20.3M809.37 190.4v20.3M812.25 190.4v20.3M815.13 196.2v20.3M818.02 239.7v20.3M820.9 257.1v20.3M823.79 225.2v20.3M826.67 158.5v20.3M829.55 199.1v20.3M832.44 233.9v20.3M835.32 228.1v20.3M838.21 129.5v20.3M841.09 251.3v20.3M843.97 132.4v20.3M846.86 178.8v20.3M849.74 242.6v20.3M852.63 193.3v20.3M855.51 236.8v20.3M858.39 222.3v20.3M861.28 233.9v20.3M864.16 190.4v20.3M867.05 202v20.3M869.93 318v20.3M872.81 210.7v20.3M875.7 239.7v20.3M878.58 236.8v20.3M881.47 202v20.3M884.35 196.2v20.3M887.23 251.3v20.3M890.12 193.3v20.3M893 231v20.3M895.89 233.9v20.3M898.77 175.9v20.3M901.65 262.9v20.3M904.54 184.6v20.3M907.42 181.7v20.3M910.31 248.4v20.3M913.19 225.2v20.3M916.07 178.8v20.3M918.96 164.3v20.3M921.84 184.6v20.3M924.73 207.8v20.3M927.61 178.8v20.3M930.49 187.5v20.3M933.38 239.7v20.3M936.26 219.4v20.3M939.15 199.1v20.3M942.03 251.3v20.3M944.91 158.5v20.3M947.8 231v20.3M950.68 170.1v20.3M953.57 190.4v20.3M956.45 228.1v20.3M959.33 239.7v20.3M962.22 187.5v20.3M965.1 170.1v20.3M967.99 155.6v20.3M970.87 126.6v20.3M973.75 210.7v20.3M976.64 170.1v20.3M979.52 254.2v20.3M982.41 228.1v20.3M985.29 170.1v20.3M988.17 231v20.3M991.06 138.2v20.3M993.94 190.4v20.3M996.83 173v20.3M999.71 173v20.3M1002.59 207.8v20.3M1005.48 260v20.3M1008.36 193.3v20.3M1011.25 175.9v20.3M1014.13 190.4v20.3M1017.01 155.6v20.3M1019.9 239.7v20.3M1022.78 173v20.3M1025.67 164.3v20.3M1028.55 251.3v20.3M1031.43 178.8v20.3M1034.32 231v20.3M1037.2 178.8v20.3M1040.09 239.7v20.3M1042.97 184.6v20.3M1045.85 219.4v20.3M1048.74 210.7v20.3M1051.62 173v20.3M1054.51 228.1v20.3M1057.39 239.7v20.3M1060.27 204.9v20.3M1063.16 184.6v20.3M1066.04 173v20.3M1068.93 257.1v20.3M1071.81 199.1v20.3M1074.69 210.7v20.3M1077.58 190.4v20.3M1080.46 239.7v20.3M1083.35 181.7v20.3M1086.23 170.1v20.3M1089.11 146.9v20.3M1092 236.8v20.3M1094.88 170.1v20.3M1097.77 184.6v20.3M1100.65 228.1v20.3M1103.53 164.3v20.3M1106.42 175.9v20.3M1109.3 262.9v20.3M1112.19 239.7v20.3M1115.07 187.5v20.3M1117.95 199.1v20.3M1120.84 210.7v20.3M1123.72 193.3v20.3M1126.61 164.3v20.3M1129.49 254.2v20.3M1132.37 173v20.3M1135.26 248.4v20.3M1138.14 233.9v20.3M1141.03 170.1v20.3M1143.91 231v20.3M1146.79 155.6v20.3M1149.68 170.1v20.3M1152.56 239.7v20.3M1155.45 170.1v20.3M1158.33 170.1v20.3M1161.21 207.8v20.3M1164.1 170.1v20.3M1166.98 196.2v20.3M1169.87 222.3v20.3M1172.75 132.4v20.3M1175.63 152.7v20.3M1178.52 199.1v20.3M1181.4 193.3v20.3M1184.29 181.7v20.3M1187.17 181.7v20.3M1190.05 236.8v20.3M1192.94 202v20.3M1195.82 173v20.3M1198.71 233.9v20.3M1201.59 202v20.3M1204.47 193.3v20.3M1207.36 239.7v20.3M1210.24 257.1v20.3M1213.13 210.7v20.3M1216.01 184.6v20.3M1218.89 193.3v20.3M1221.78 193.3v20.3M1224.66 239.7v20.3M1227.55 265.8v20.3M1230.43 190.4v20.3M1233.31 184.6v20.3M1236.2 216.5v20.3M1239.08 170.1v20.3M1241.97 216.5v20.3M1244.85 173v20.3M1247.73 155.6v20.3M1250.62 207.8v20.3M1253.5 175.9v20.3M1256.39 231v20.3M1259.27 213.6v20.3M1262.15 228.1v20.3M1265.04 181.7v20.3M1267.92 248.4v20.3M1270.81 216.5v20.3M1273.69 184.6v20.3M1276.57 245.5v20.3M1279.46 164.3v20.3M1282.34 231v20.3M1285.23 152.7v20.3M1288.11 199.1v20.3M1290.99 236.8v20.3M1293.88 170.1v20.3M1296.76 149.8v20.3M1299.65 225.2v20.3M1302.53 210.7v20.3M1305.41 233.9v20.3M1308.3 187.5v20.3M1311.18 216.5v20.3M1314.07 190.4v20.3M1316.95 222.3v20.3M1319.83 251.3v20.3M1322.72 202v20.3M1325.6 204.9v20.3M1328.49 210.7v20.3M1331.37 228.1v20.3M1334.25 260v20.3M1337.14 228.1v20.3M1340.02 277.4v20.3M1342.91 262.9v20.3M1345.79 190.4v20.3M1348.67 210.7v20.3M1351.56 207.8v20.3M1354.44 187.5v20.3M1357.33 280.3v20.3M1360.21 286.1v20.3M1363.09 239.7v20.3M1365.98 155.6v20.3M1368.86 233.9v20.3M1371.75 170.1v20.3M1374.63 219.4v20.3M1377.51 88.9v20.3M1380.4 170.1v20.3M1383.28 181.7v20.3M1386.17 146.9v20.3M1389.05 219.4v20.3M1391.93 170.1v20.3M1394.82 202v20.3M1397.7 239.7v20.3M1400.59 213.6v20.3M1403.47 271.6v20.3M1406.35 219.4v20.3M1409.24 228.1v20.3M1412.12 170.1v20.3M1415.01 219.4v20.3M1417.89 239.7v20.3M1420.77 274.5v20.3M1423.66 193.3v20.3M1426.54 239.7v20.3M1429.43 231v20.3M1432.31 181.7v20.3M1435.19 268.7v20.3M1438.08 239.7v20.3M1440.96 231v20.3M1443.85 236.8v20.3M1446.73 239.7v20.3M1449.61 170.1v20.3M1452.5 265.8v20.3M1455.38 173v20.3M1458.27 228.1v20.3M1461.15 190.4v20.3M1464.03 210.7v20.3M1466.92 170.1v20.3M1469.8 141.1v20.3M1472.69 199.1v20.3M1475.57 202v20.3M1478.45 204.9v20.3M1481.34 187.5v20.3M1484.22 164.3v20.3M1487.11 231v20.3M1489.99 202v20.3M1492.87 190.4v20.3M1495.76 231v20.3M1498.64 178.8v20.3M1501.53 167.2v20.3M1504.41 239.7v20.3M1507.29 239.7v20.3M1510.18 236.8v20.3M1513.06 184.6v20.3M1515.95 178.8v20.3M1518.83 268.7v20.3M1521.71 199.1v20.3M1524.6 210.7v20.3M1527.48 167.2v20.3M1530.37 228.1v20.3M1533.25 199.1v20.3M1536.13 202v20.3M1539.02 231v20.3M1541.9 204.9v20.3M1544.79 155.6v20.3M1547.67 251.3v20.3M1550.55 199.1v20.3M1553.44 120.8v20.3M1556.32 210.7v20.3M1559.21 170.1v20.3M1562.09 228.1v20.3M1564.97 213.6v20.3M1567.86 146.9v20.3M1570.74 239.7v20.3M1573.63 170.1v20.3M1576.51 216.5v20.3M1579.39 283.2v20.3M1582.28 175.9v20.3M1585.16 239.7v20.3M1588.05 242.6v20.3M1590.93 239.7v20.3M1593.81 231v20.3M1596.7 225.2v20.3M1599.58 274.5v20.3M1602.47 219.4v20.3M1605.35 213.6v20.3M1608.23 239.7v20.3M1611.12 204.9v20.3M1614 213.6v20.3M1616.89 222.3v20.3M1619.77 199.1v20.3M1622.65 233.9v20.3M1625.54 248.4v20.3M1628.42 225.2v20.3M1631.31 213.6v20.3M1634.19 199.1v20.3M1637.07 184.6v20.3M1639.96 204.9v20.3M1642.84 173v20.3M1645.73 216.5v20.3M1648.61 178.8v20.3M1651.49 216.5v20.3M1654.38 173v20.3M1657.26 187.5v20.3M1660.15 239.7v20.3M1663.03 196.2v20.3M1665.91 146.9v20.3M1668.8 231v20.3M1671.68 245.5v20.3M1674.57 170.1v20.3M1677.45 239.7v20.3M1680.33 152.7v20.3M1683.22 236.8v20.3M1686.1 219.4v20.3M1688.99 170.1v20.3M1691.87 181.7v20.3M1694.75 228.1v20.3M1697.64 164.3v20.3M1700.52 283.2v20.3M1703.41 155.6v20.3M1706.29 231v20.3M1709.17 170.1v20.3M1712.06 219.4v20.3M1714.94 216.5v20.3M1717.83 170.1v20.3M1720.71 219.4v20.3M1723.59 152.7v20.3M1726.48 222.3v20.3M1729.36 181.7v20.3M1732.25 219.4v20.3M1735.13 184.6v20.3M1738.01 204.9v20.3M1740.9 202v20.3M1743.78 239.7v20.3M1746.67 216.5v20.3M1749.55 204.9v20.3M1752.43 196.2v20.3M1755.32 184.6v20.3M1758.2 233.9v20.3M1761.09 210.7v20.3M1763.97 222.3v20.3M1766.85 231v20.3M1769.74 257.1v20.3M1772.62 175.9v20.3M1775.51 210.7v20.3M1778.39 277.4v20.3M1781.27 228.1v20.3M1784.16 170.1v20.3M1787.04 149.8v20.3M1789.93 138.2v20.3M1792.81 233.9v20.3M1795.69 178.8v20.3M1798.58 245.5v20.3M1801.46 170.1v20.3M1804.35 146.9v20.3M1807.23 248.4v20.3M1810.11 219.4v20.3M1813 181.7v20.3M1815.88 167.2v20.3M1818.77 239.7v20.3M1821.65 251.3v20.3M1824.53 210.7v20.3M1827.42 225.2v20.3M1830.3 228.1v20.3M1833.19 173v20.3M1836.07 196.2v20.3M1838.95 138.2v20.3M1841.84 164.3v20.3M1844.72 257.1v20.3M1847.61 170.1v20.3M1850.49 228.1v20.3M1853.37 242.6v20.3M1856.26 152.7v20.3M1859.14 193.3v20.3M1862.03 291.9v20.3M1864.91 152.7v20.3M1867.79 228.1v20.3M1870.68 170.1v20.3M1873.56 155.6v20.3M1876.45 158.5v20.3M1879.33 248.4v20.3M1882.21 123.7v20.3M1885.1 187.5v20.3M1887.98 196.2v20.3M1890.87 170.1v20.3M1893.75 167.2v20.3M1896.63 170.1v20.3M1899.52 141.1v20.3M1902.4 193.3v20.3M1905.29 170.1v20.3M1908.17 196.2v20.3M1911.05 170.1v20.3M1913.94 254.2v20.3M1916.82 170.1v20.3M1919.71 236.8v20.3M1922.59 175.9v20.3M1925.47 167.2v20.3M1928.36 231v20.3M1931.24 138.2v20.3M1934.13 239.7v20.3M1937.01 144v20.3M1939.89 231v20.3M1942.78 170.1v20.3M1945.66 135.3v20.3M1948.55 251.3v20.3M1951.43 239.7v20.3M1954.31 173v20.3M1957.2 213.6v20.3M1960.08 260v20.3M1962.97 245.5v20.3M1965.85 219.4v20.3M1968.73 141.1v20.3M1971.62 225.2v20.3M1974.5 170.1v20.3M1977.39 213.6v20.3M1980.27 170.1v20.3M1983.15 257.1v20.3M1986.04 152.7v20.3M1988.92 132.4v20.3M1991.81 228.1v20.3M1994.69 170.1v20.3M1997.57 146.9v20.3M2000.46 239.7v20.3M2003.34 251.3v20.3M2006.23 239.7v20.3M2009.11 225.2v20.3M2011.99 167.2v20.3M2014.88 187.5v20.3M2017.76 173v20.3M2020.65 231v20.3M2023.53 175.9v20.3M2026.41 173v20.3M2029.3 225.2v20.3M2032.18 193.3v20.3M2035.07 248.4v20.3M2037.95 146.9v20.3M2040.83 222.3v20.3M2043.72 170.1v20.3M2046.6 242.6v20.3M2049.49 196.2v20.3M2052.37 120.8v20.3M2055.25 236.8v20.3M2058.14 213.6v20.3M2061.02 170.1v20.3M2063.91 196.2v20.3M2066.79 144v20.3M2069.67 123.7v20.3M2072.56 222.3v20.3M2075.44 184.6v20.3M2078.33 219.4v20.3M2081.21 236.8v20.3M2084.09 152.7v20.3M2086.98 268.7v20.3M2089.86 170.1v20.3M2092.75 120.8v20.3M2095.63 158.5v20.3M2098.51 225.2v20.3M2101.4 170.1v20.3M2104.28 199.1v20.3M2107.17 190.4v20.3M2110.05 213.6v20.3M2112.93 202v20.3M2115.82 184.6v20.3M2118.7 155.6v20.3M2121.59 152.7v20.3M2124.47 178.8v20.3M2127.35 146.9v20.3M2130.24 193.3v20.3M2133.12 170.1v20.3M2136.01 213.6v20.3M2138.89 129.5v20.3M2141.77 149.8v20.3M2144.66 155.6v20.3M2147.54 231v20.3M2150.43 196.2v20.3M2153.31 187.5v20.3M2156.19 248.4v20.3M2159.08 155.6v20.3M2161.96 184.6v20.3M2164.85 199.1v20.3M2167.73 155.6v20.3M2170.61 231v20.3M2173.5 173v20.3M2176.38 164.3v20.3M2179.27 190.4v20.3M2182.15 193.3v20.3M2185.03 239.7v20.3M2187.92 181.7v20.3M2190.8 170.1v20.3M2193.69 123.7v20.3M2196.57 222.3v20.3M2199.45 170.1v20.3M2202.34 161.4v20.3M2205.22 248.4v20.3M2208.11 132.4v20.3M2210.99 135.3v20.3M2213.87 196.2v20.3M2216.76 161.4v20.3M2219.64 129.5v20.3M2222.53 170.1v20.3M2225.41 225.2v20.3M2228.29 199.1v20.3M2231.18 152.7v20.3M2234.06 225.2v20.3M2236.95 135.3v20.3M2239.83 231v20.3M2242.71 152.7v20.3M2245.6 216.5v20.3M2248.48 181.7v20.3M2251.37 265.8v20.3M2254.25 164.3v20.3M2257.13 123.7v20.3M2260.02 219.4v20.3M2262.9 144v20.3M2265.79 274.5v20.3M2268.67 158.5v20.3M2271.55 239.7v20.3M2274.44 138.2v20.3M2277.32 170.1v20.3M2280.21 251.3v20.3M2283.09 152.7v20.3M2285.97 167.2v20.3M2288.86 239.7v20.3M2291.74 175.9v20.3M2294.63 239.7v20.3M2297.51 175.9v20.3M2300.39 158.5v20.3M2303.28 239.7v20.3M2306.16 262.9v20.3M2309.05 274.5v20.3M2311.93 233.9v20.3M2314.81 228.1v20.3M2317.7 155.6v20.3M2320.58 213.6v20.3M2323.47 129.5v20.3M2326.35 239.7v20.3M2329.23 202v20.3M2332.12 210.7v20.3M2335 132.4v20.3M2337.89 152.7v20.3M2340.77 233.9v20.3M2343.65 248.4v20.3M2346.54 123.7v20.3M2349.42 170.1v20.3M2352.31 135.3v20.3M2355.19 216.5v20.3M2358.07 152.7v20.3M2360.96 257.1v20.3M2363.84 170.1v20.3M2366.73 199.1v20.3M2369.61 242.6v20.3M2372.49 231v20.3M2375.38 210.7v20.3M2378.26 170.1v20.3M2381.15 155.6v20.3M2384.03 222.3v20.3M2386.91 187.5v20.3"/>
<path class="h" d="M121.53 203.45h20.19M124.42 165.75h20.19M127.3 249.85h20.19M130.18 217.95h20.19M133.07 249.85h20.19M135.95 206.35h20.19M138.84 151.25h20.19M141.72 249.85h20.19M144.6 154.15h20.19M147.49 203.45h20.19M150.37 249.85h20.19M153.26 275.95h20.19M156.14 217.95h20.19M159.02 249.85h20.19M161.91 194.75h20.19M164.79 270.15h20.19M167.68 183.15h20.19M170.56 217.95h20.19M173.44 217.95h20.19M176.33 139.65h20.19M179.21 194.75h20.19M182.1 157.05h20.19M184.98 217.95h20.19M187.86 180.25h20.19M190.75 293.35h20.19M193.63 191.85h20.19M196.52 249.85h20.19M199.4 209.25h20.19M202.28 171.55h20.19M205.17 264.35h20.19M208.05 249.85h20.19M210.94 273.05h20.19M213.82 191.85h20.19M216.7 249.85h20.19M219.59 194.75h20.19M222.47 293.35h20.19M225.36 203.45h20.19M228.24 188.95h20.19M231.12 235.35h20.19M234.01 241.15h20.19M236.89 232.45h20.19M239.78 249.85h20.19M242.66 188.95h20.19M245.54 174.45h20.19M248.43 252.75h20.19M251.31 186.05h20.19M254.2 191.85h20.19M257.08 275.95h20.19M259.96 186.05h20.19M262.85 215.05h20.19M265.73 261.45h20.19M268.62 186.05h20.19M271.5 174.45h20.19M274.38 165.75h20.19M277.27 232.45h20.19M280.15 206.35h20.19M283.04 194.75h20.19M285.92 226.65h20.19M288.8 241.15h20.19M291.69 229.55h20.19M294.57 200.55h20.19M297.46 206.35h20.19M300.34 197.65h20.19M303.22 238.25h20.19M306.11 209.25h20.19M308.99 203.45h20.19M311.88 220.85h20.19M314.76 183.15h20.19M317.64 258.55h20.19M320.53 241.15h20.19M323.41 296.25h20.19M326.3 174.45h20.19M329.18 241.15h20.19M332.06 180.25h20.19M334.95 223.75h20.19M337.83 142.55h20.19M340.72 223.75h20.19M343.6 270.15h20.19M346.48 188.95h20.19M349.37 200.55h20.19M352.25 249.85h20.19M355.14 171.55h20.19M358.02 296.25h20.19M360.9 180.25h20.19M363.79 133.85h20.19M366.67 220.85h20.19M369.56 223.75h20.19M372.44 180.25h20.19M375.32 171.55h20.19M378.21 223.75h20.19M381.09 162.85h20.19M383.98 244.05h20.19M386.86 261.45h20.19M389.74 180.25h20.19M392.63 180.25h20.19M395.51 217.95h20.19M398.4 151.25h20.19M401.28 226.65h20.19M404.16 278.85h20.19M407.05 232.45h20.19M409.93 273.05h20.19M412.82 249.85h20.19M415.7 223.75h20.19M418.58 249.85h20.19M421.47 197.65h20.19M424.35 267.25h20.19M427.24 212.15h20.19M430.12 235.35h20.19M433 212.15h20.19M435.89 226.65h20.19M438.77 229.55h20.19M441.66 249.85h20.19M444.54 212.15h20.19M447.42 244.05h20.19M450.31 200.55h20.19M453.19 229.55h20.19M456.08 186.05h20.19M458.96 290.45h20.19M461.84 186.05h20.19M464.73 238.25h20.19M467.61 200.55h20.19M470.5 154.15h20.19M473.38 180.25h20.19M476.26 200.55h20.19M479.15 197.65h20.19M482.03 188.95h20.19M484.92 249.85h20.19M487.8 232.45h20.19M490.68 287.55h20.19M493.57 203.45h20.19M496.45 191.85h20.19M499.34 235.35h20.19M502.22 209.25h20.19M505.1 217.95h20.19M507.99 209.25h20.19M510.87 235.35h20.19M513.76 275.95h20.19M516.64 293.35h20.19M519.52 223.75h20.19M522.41 229.55h20.19M525.29 186.05h20.19M528.18 209.25h20.19M531.06 229.55h20.19M533.94 241.15h20.19M536.83 226.65h20.19M539.71 177.35h20.19M542.6 261.45h20.19M545.48 235.35h20.19M548.36 180.25h20.19M551.25 235.35h20.19M554.13 188.95h20.19M557.02 249.85h20.19M559.9 229.55h20.19M562.78 174.45h20.19M565.67 307.85h20.19M568.55 183.15h20.19M571.44 229.55h20.19M574.32 183.15h20.19M577.2 244.05h20.19M580.09 168.65h20.19M582.97 235.35h20.19M585.86 249.85h20.19M588.74 217.95h20.19M591.62 302.05h20.19M594.51 215.05h20.19M597.39 174.45h20.19M600.28 249.85h20.19M603.16 191.85h20.19M606.04 183.15h20.19M608.93 258.55h20.19M611.81 203.45h20.19M614.7 197.65h20.19M617.58 232.45h20.19M620.46 203.45h20.19M623.35 154.15h20.19M626.23 188.95h20.19M629.12 206.35h20.19M632 241.15h20.19M634.88 183.15h20.19M637.77 229.55h20.19M640.65 217.95h20.19M643.54 186.05h20.19M646.42 244.05h20.19M649.3 157.05h20.19M652.19 180.25h20.19M655.07 281.75h20.19M657.96 200.55h20.19M660.84 232.45h20.19M663.72 264.35h20.19M666.61 206.35h20.19M669.49 212.15h20.19M672.38 188.95h20.19M675.26 180.25h20.19M678.14 249.85h20.19M681.03 177.35h20.19M683.91 188.95h20.19M686.8 154.15h20.19M689.68 191.85h20.19M692.56 183.15h20.19M695.45 177.35h20.19M698.33 246.95h20.19M701.22 238.25h20.19M704.1 180.25h20.19M706.98 244.05h20.19M709.87 238.25h20.19M712.75 246.95h20.19M715.64 209.25h20.19M718.52 249.85h20.19M721.4 229.55h20.19M724.29 267.25h20.19M727.17 183.15h20.19M730.06 226.65h20.19M732.94 226.65h20.19M735.82 194.75h20.19M738.71 197.65h20.19M741.59 249.85h20.19M744.48 223.75h20.19M747.36 215.05h20.19M750.24 232.45h20.19M753.13 180.25h20.19M756.01 133.85h20.19M758.9 180.25h20.19M761.78 241.15h20.19M764.66 217.95h20.19M767.55 191.85h20.19M770.43 200.55h20.19M773.32 206.35h20.19M776.2 223.75h20.19M779.08 258.55h20.19M781.97 194.75h20.19M784.85 168.65h20.19M787.74 229.55h20.19M790.62 249.85h20.19M793.5 171.55h20.19M796.39 209.25h20.19M799.27 200.55h20.19M802.16 200.55h20.19M805.04 206.35h20.19M807.92 249.85h20.19M810.81 267.25h20.19M813.69 235.35h20.19M816.58 168.65h20.19M819.46 209.25h20.19M822.34 244.05h20.19M825.23 238.25h20.19M828.11 139.65h20.19M831 261.45h20.19M833.88 142.55h20.19M836.76 188.95h20.19M839.65 252.75h20.19M842.53 203.45h20.19M845.42 246.95h20.19M848.3 232.45h20.19M851.18 244.05h20.19M854.07 200.55h20.19M856.95 212.15h20.19M859.84 328.15h20.19M862.72 220.85h20.19M865.6 249.85h20.19M868.49 246.95h20.19M871.37 212.15h20.19M874.26 206.35h20.19M877.14 261.45h20.19M880.02 203.45h20.19M882.91 241.15h20.19M885.79 244.05h20.19M888.68 186.05h20.19M891.56 273.05h20.19M894.44 194.75h20.19M897.33 191.85h20.19M900.21 258.55h20.19M903.1 235.35h20.19M905.98 188.95h20.19M908.86 174.45h20.19M911.75 194.75h20.19M914.63 217.95h20.19M917.52 188.95h20.19M920.4 197.65h20.19M923.28 249.85h20.19M926.17 229.55h20.19M929.05 209.25h20.19M931.94 261.45h20.19M934.82 168.65h20.19M937.7 241.15h20.19M940.59 180.25h20.19M943.47 200.55h20.19M946.36 238.25h20.19M949.24 249.85h20.19M952.12 197.65h20.19M955.01 180.25h20.19M957.89 165.75h20.19M960.78 136.75h20.19M963.66 220.85h20.19M966.54 180.25h20.19M969.43 264.35h20.19M972.31 238.25h20.19M975.2 180.25h20.19M978.08 241.15h20.19M980.96 148.35h20.19M983.85 200.55h20.19M986.73 183.15h20.19M989.62 183.15h20.19M992.5 217.95h20.19M995.38 270.15h20.19M998.27 203.45h20.19M1001.15 186.05h20.19M1004.04 200.55h20.19M1006.92 165.75h20.19M1009.8 249.85h20.19M1012.69 183.15h20.19M1015.57 174.45h20.19M1018.46 261.45h20.19M1021.34 188.95h20.19M1024.22 241.15h20.19M1027.11 188.95h20.19M1029.99 249.85h20.19M1032.88 194.75h20.19M1035.76 229.55h20.19M1038.64 220.85h20.19M1041.53 183.15h20.19M1044.41 238.25h20.19M1047.3 249.85h20.19M1050.18 215.05h20.19M1053.06 194.75h20.19M1055.95 183.15h20.19M1058.83 267.25h20.19M1061.72 209.25h20.19M1064.6 220.85h20.19M1067.48 200.55h20.19M1070.37 249.85h20.19M1073.25 191.85h20.19M1076.14 180.25h20.19M1079.02 157.05h20.19M1081.9 246.95h20.19M1084.79 180.25h20.19M1087.67 194.75h20.19M1090.56 238.25h20.19M1093.44 174.45h20.19M1096.32 186.05h20.19M1099.21 273.05h20.19M1102.09 249.85h20.19M1104.98 197.65h20.19M1107.86 209.25h20.19M1110.74 220.85h20.19M1113.63 203.45h20.19M1116.51 174.45h20.19M1119.4 264.35h20.19M1122.28 183.15h20.19M1125.16 258.55h20.19M1128.05 244.05h20.19M1130.93 180.25h20.19M1133.82 241.15h20.19M1136.7 165.75h20.19M1139.58 180.25h20.19M1142.47 249.85h20.19M1145.35 180.25h20.19M1148.24 180.25h20.19M1151.12 217.95h20.19M1154 180.25h20.19M1156.89 206.35h20.19M1159.77 232.45h20.19M1162.66 142.55h20.19M1165.54 162.85h20.19M1168.42 209.25h20.19M1171.31 203.45h20.19M1174.19 191.85h20.19M1177.08 191.85h20.19M1179.96 246.95h20.19M1182.84 212.15h20.19M1185.73 183.15h20.19M1188.61 244.05h20.19M1191.5 212.15h20.19M1194.38 203.45h20.19M1197.26 249.85h20.19M1200.15 267.25h20.19M1203.03 220.85h20.19M1205.92 194.75h20.19M1208.8 203.45h20.19M1211.68 203.45h20.19M1214.57 249.85h20.19M1217.45 275.95h20.19M1220.34 200.55h20.19M1223.22 194.75h20.19M1226.1 226.65h20.19M1228.99 180.25h20.19M1231.87 226.65h20.19M1234.76 183.15h20.19M1237.64 165.75h20.19M1240.52 217.95h20.19M1243.41 186.05h20.19M1246.29 241.15h20.19M1249.18 223.75h20.19M1252.06 238.25h20.19M1254.94 191.85h20.19M1257.83 258.55h20.19M1260.71 226.65h20.19M1263.6 194.75h20.19M1266.48 255.65h20.19M1269.36 174.45h20.19M1272.25 241.15h20.19M1275.13 162.85h20.19M1278.02 209.25h20.19M1280.9 246.95h20.19M1283.78 180.25h20.19M1286.67 159.95h20.19M1289.55 235.35h20.19M1292.44 220.85h20.19M1295.32 244.05h20.19M1298.2 197.65h20.19M1301.09 226.65h20.19M1303.97 200.55h20.19M1306.86 232.45h20.19M1309.74 261.45h20.19M1312.62 212.15h20.19M1315.51 215.05h20.19M1318.39 220.85h20.19M1321.28 238.25h20.19M1324.16 270.15h20.19M1327.04 238.25h20.19M1329.93 287.55h20.19M1332.81 273.05h20.19M1335.7 200.55h20.19M1338.58 220.85h20.19M1341.46 217.95h20.19M1344.35 197.65h20.19M1347.23 290.45h20.19M1350.12 296.25h20.19M1353 249.85h20.19M1355.88 165.75h20.19M1358.77 244.05h20.19M1361.65 180.25h20.19M1364.54 229.55h20.19M1367.42 99.05h20.19M1370.3 180.25h20.19M1373.19 191.85h20.19M1376.07 157.05h20.19M1378.96 229.55h20.19M1381.84 180.25h20.19M1384.72 212.15h20.19M1387.61 249.85h20.19M1390.49 223.75h20.19M1393.38 281.75h20.19M1396.26 229.55h20.19M1399.14 238.25h20.19M1402.03 180.25h20.19M1404.91 229.55h20.19M1407.8 249.85h20.19M1410.68 284.65h20.19M1413.56 203.45h20.19M1416.45 249.85h20.19M1419.33 241.15h20.19M1422.22 191.85h20.19M1425.1 278.85h20.19M1427.98 249.85h20.19M1430.87 241.15h20.19M1433.75 246.95h20.19M1436.64 249.85h20.19M1439.52 180.25h20.19M1442.4 275.95h20.19M1445.29 183.15h20.19M1448.17 238.25h20.19M1451.06 200.55h20.19M1453.94 220.85h20.19M1456.82 180.25h20.19M1459.71 151.25h20.19M1462.59 209.25h20.19M1465.48 212.15h20.19M1468.36 215.05h20.19M1471.24 197.65h20.19M1474.13 174.45h20.19M1477.01 241.15h20.19M1479.9 212.15h20.19M1482.78 200.55h20.19M1485.66 241.15h20.19M1488.55 188.95h20.19M1491.43 177.35h20.19M1494.32 249.85h20.19M1497.2 249.85h20.19M1500.08 246.95h20.19M1502.97 194.75h20.19M1505.85 188.95h20.19M1508.74 278.85h20.19M1511.62 209.25h20.19M1514.5 220.85h20.19M1517.39 177.35h20.19M1520.27 238.25h20.19M1523.16 209.25h20.19M1526.04 212.15h20.19M1528.92 241.15h20.19M1531.81 215.05h20.19M1534.69 165.75h20.19M1537.58 261.45h20.19M1540.46 209.25h20.19M1543.34 130.95h20.19M1546.23 220.85h20.19M1549.11 180.25h20.19M1552 238.25h20.19M1554.88 223.75h20.19M1557.76 157.05h20.19M1560.65 249.85h20.19M1563.53 180.25h20.19M1566.42 226.65h20.19M1569.3 293.35h20.19M1572.18 186.05h20.19M1575.07 249.85h20.19M1577.95 252.75h20.19M1580.84 249.85h20.19M1583.72 241.15h20.19M1586.6 235.35h20.19M1589.49 284.65h20.19M1592.37 229.55h20.19M1595.26 223.75h20.19M1598.14 249.85h20.19M1601.02 215.05h20.19M1603.91 223.75h20.19M1606.79 232.45h20.19M1609.68 209.25h20.19M1612.56 244.05h20.19M1615.44 258.55h20.19M1618.33 235.35h20.19M1621.21 223.75h20.19M1624.1 209.25h20.19M1626.98 194.75h20.19M1629.86 215.05h20.19M1632.75 183.15h20.19M1635.63 226.65h20.19M1638.52 188.95h20.19M1641.4 226.65h20.19M1644.28 183.15h20.19M1647.17 197.65h20.19M1650.05 249.85h20.19M1652.94 206.35h20.19M1655.82 157.05h20.19M1658.7 241.15h20.19M1661.59 255.65h20.19M1664.47 180.25h20.19M1667.36 249.85h20.19M1670.24 162.85h20.19M1673.12 246.95h20.19M1676.01 229.55h20.19M1678.89 180.25h20.19M1681.78 191.85h20.19M1684.66 238.25h20.19M1687.54 174.45h20.19M1690.43 293.35h20.19M1693.31 165.75h20.19M1696.2 241.15h20.19M1699.08 180.25h20.19M1701.96 229.55h20.19M1704.85 226.65h20.19M1707.73 180.25h20.19M1710.62 229.55h20.19M1713.5 162.85h20.19M1716.38 232.45h20.19M1719.27 191.85h20.19M1722.15 229.55h20.19M1725.04 194.75h20.19M1727.92 215.05h20.19M1730.8 212.15h20.19M1733.69 249.85h20.19M1736.57 226.65h20.19M1739.46 215.05h20.19M1742.34 206.35h20.19M1745.22 194.75h20.19M1748.11 244.05h20.19M1750.99 220.85h20.19M1753.88 232.45h20.19M1756.76 241.15h20.19M1759.64 267.25h20.19M1762.53 186.05h20.19M1765.41 220.85h20.19M1768.3 287.55h20.19M1771.18 238.25h20.19M1774.06 180.25h20.19M1776.95 159.95h20.19M1779.83 148.35h20.19M1782.72 244.05h20.19M1785.6 188.95h20.19M1788.48 255.65h20.19M1791.37 180.25h20.19M1794.25 157.05h20.19M1797.14 258.55h20.19M1800.02 229.55h20.19M1802.9 191.85h20.19M1805.79 177.35h20.19M1808.67 249.85h20.19M1811.56 261.45h20.19M1814.44 220.85h20.19M1817.32 235.35h20.19M1820.21 238.25h20.19M1823.09 183.15h20.19M1825.98 206.35h20.19M1828.86 148.35h20.19M1831.74 174.45h20.19M1834.63 267.25h20.19M1837.51 180.25h20.19M1840.4 238.25h20.19M1843.28 252.75h20.19M1846.16 162.85h20.19M1849.05 203.45h20.19M1851.93 302.05h20.19M1854.82 162.85h20.19M1857.7 238.25h20.19M1860.58 180.25h20.19M1863.47 165.75h20.19M1866.35 168.65h20.19M1869.24 258.55h20.19M1872.12 133.85h20.19M1875 197.65h20.19M1877.89 206.35h20.19M1880.77 180.25h20.19M1883.66 177.35h20.19M1886.54 180.25h20.19M1889.42 151.25h20.19M1892.31 203.45h20.19M1895.19 180.25h20.19M1898.08 206.35h20.19M1900.96 180.25h20.19M1903.84 264.35h20.19M1906.73 180.25h20.19M1909.61 246.95h20.19M1912.5 186.05h20.19M1915.38 177.35h20.19M1918.26 241.15h20.19M1921.15 148.35h20.19M1924.03 249.85h20.19M1926.92 154.15h20.19M1929.8 241.15h20.19M1932.68 180.25h20.19M1935.57 145.45h20.19M1938.45 261.45h20.19M1941.34 249.85h20.19M1944.22 183.15h20.19M1947.1 223.75h20.19M1949.99 270.15h20.19M1952.87 255.65h20.19M1955.76 229.55h20.19M1958.64 151.25h20.19M1961.52 235.35h20.19M1964.41 180.25h20.19M1967.29 223.75h20.19M1970.18 180.25h20.19M1973.06 267.25h20.19M1975.94 162.85h20.19M1978.83 142.55h20.19M1981.71 238.25h20.19M1984.6 180.25h20.19M1987.48 157.05h20.19M1990.36 249.85h20.19M1993.25 261.45h20.19M1996.13 249.85h20.19M1999.02 235.35h20.19M2001.9 177.35h20.19M2004.78 197.65h20.19M2007.67 183.15h20.19M2010.55 241.15h20.19M2013.44 186.05h20.19M2016.32 183.15h20.19M2019.2 235.35h20.19M2022.09 203.45h20.19M2024.97 258.55h20.19M2027.86 157.05h20.19M2030.74 232.45h20.19M2033.62 180.25h20.19M2036.51 252.75h20.19M2039.39 206.35h20.19M2042.28 130.95h20.19M2045.16 246.95h20.19M2048.04 223.75h20.19M2050.93 180.25h20.19M2053.81 206.35h20.19M2056.7 154.15h20.19M2059.58 133.85h20.19M2062.46 232.45h20.19M2065.35 194.75h20.19M2068.23 229.55h20.19M2071.12 246.95h20.19M2074 162.85h20.19M2076.88 278.85h20.19M2079.77 180.25h20.19M2082.65 130.95h20.19M2085.54 168.65h20.19M2088.42 235.35h20.19M2091.3 180.25h20.19M2094.19 209.25h20.19M2097.07 200.55h20.19M2099.96 223.75h20.19M2102.84 212.15h20.19M2105.72 194.75h20.19M2108.61 165.75h20.19M2111.49 162.85h20.19M2114.38 188.95h20.19M2117.26 157.05h20.19M2120.14 203.45h20.19M2123.03 180.25h20.19M2125.91 223.75h20.19M2128.8 139.65h20.19M2131.68 159.95h20.19M2134.56 165.75h20.19M2137.45 241.15h20.19M2140.33 206.35h20.19M2143.22 197.65h20.19M2146.1 258.55h20.19M2148.98 165.75h20.19M2151.87 194.75h20.19M2154.75 209.25h20.19M2157.64 165.75h20.19M2160.52 241.15h20.19M2163.4 183.15h20.19M2166.29 174.45h20.19M2169.17 200.55h20.19M2172.06 203.45h20.19M2174.94 249.85h20.19M2177.82 191.85h20.19M2180.71 180.25h20.19M2183.59 133.85h20.19M2186.48 232.45h20.19M2189.36 180.25h20.19M2192.24 171.55h20.19M2195.13 258.55h20.19M2198.01 142.55h20.19M2200.9 145.45h20.19M2203.78 206.35h20.19M2206.66 171.55h20.19M2209.55 139.65h20.19M2212.43 180.25h20.19M2215.32 235.35h20.19M2218.2 209.25h20.19M2221.08 162.85h20.19M2223.97 235.35h20.19M2226.85 145.45h20.19M2229.74 241.15h20.19M2232.62 162.85h20.19M2235.5 226.65h20.19M2238.39 191.85h20.19M2241.27 275.95h20.19M2244.16 174.45h20.19M2247.04 133.85h20.19M2249.92 229.55h20.19M2252.81 154.15h20.19M2255.69 284.65h20.19M2258.58 168.65h20.19M2261.46 249.85h20.19M2264.34 148.35h20.19M2267.23 180.25h20.19M2270.11 261.45h20.19M2273 162.85h20.19M2275.88 177.35h20.19M2278.76 249.85h20.19M2281.65 186.05h20.19M2284.53 249.85h20.19M2287.42 186.05h20.19M2290.3 168.65h20.19M2293.18 249.85h20.19M2296.07 273.05h20.19M2298.95 284.65h20.19M2301.84 244.05h20.19M2304.72 238.25h20.19M2307.6 165.75h20.19M2310.49 223.75h20.19M2313.37 139.65h20.19M2316.26 249.85h20.19M2319.14 212.15h20.19M2322.02 220.85h20.19M2324.91 142.55h20.19M2327.79 162.85h20.19M2330.68 244.05h20.19M2333.56 258.55h20.19M2336.44 133.85h20.19M2339.33 180.25h20.19M2342.21 145.45h20.19M2345.1 226.65h20.19M2347.98 162.85h20.19M2350.86 267.25h20.19M2353.75 180.25h20.19M2356.63 209.25h20.19M2359.52 252.75h20.19M2362.4 241.15h20.19M2365.28 220.85h20.19M2368.17 180.25h20.19M2371.05 165.75h20.19M2373.94 232.45h20.19M2376.82 197.65h20.19"/>
</g>
<path class="h" d="M127.3 70.05H2440.27M127.3 365.85H2440.27"/>
<path class="v" d="M128.74 68.6V367.3M2438.83 68.6V367.3"/>
<text x="79" y="375.85" textLength="41.4" lengthAdjust="spacingAndGlyphs">-10</text>
<text x="94" y="301.9" textLength="28.6" lengthAdjust="spacingAndGlyphs">-5</text>
<text x="103" y="227.95" textLength="19.8" lengthAdjust="spacingAndGlyphs">0</text>
<text x="103" y="154" textLength="19.8" lengthAdjust="spacingAndGlyphs">5</text>
<text x="90.5" y="80.05" textLength="30.1" lengthAdjust="spacingAndGlyphs">10</text>
<text x="120.24" y="399.25" textLength="18.8" lengthAdjust="spacingAndGlyphs">0</text>
<text x="393.64" y="399.25" textLength="47.6" lengthAdjust="spacingAndGlyphs">100</text>
<text x="682.04" y="399.25" textLength="47.6" lengthAdjust="spacingAndGlyphs">200</text>
<text x="970.44" y="399.25" textLength="47.6" lengthAdjust="spacingAndGlyphs">300</text>
<text x="1258.84" y="399.25" textLength="47.6" lengthAdjust="spacingAndGlyphs">400</text>
<text x="1547.24" y="399.25" textLength="47.6" lengthAdjust="spacingAndGlyphs">500</text>
<text x="1835.64" y="399.25" textLength="47.6" lengthAdjust="spacingAndGlyphs">600</text>
<text x="2124.04" y="399.25" textLength="47.6" lengthAdjust="spacingAndGlyphs">700</text>
<text x="2412.44" y="399.25" textLength="47.6" lengthAdjust="spacingAndGlyphs">800</text>
<text x="1221.4" y="437.05" textLength="116" lengthAdjust="spacingAndGlyphs">Epoch(s)</text>
<text transform="translate(42.4 216.45) rotate(-90)" text-anchor="middle">X<tspan font-size="22.5" dx="-3.5" dy="15.5">err</tspan><tspan dx="3" dy="-15.5">(m)</tspan></text>
<rect class="lg" x="1822.9" y="83.2" width="602.9" height="92.9"/>
<path class="h" d="M1822.9 84.65H2425.8M1822.9 174.65H2425.8"/>
<path class="v" d="M1824.34 83.2V176.1M2424.36 83.2V176.1"/>
<path class="rh" d="M1839.9 107.65H1927.6"/>
<path class="h" d="M1843.3 148.55H1927.6"/>
<path class="v" d="M1885.4 140.95v17.8"/>
<text x="1935.4" y="120.55" textLength="161.6" lengthAdjust="spacingAndGlyphs">Suppressing</text>
<text x="2103" y="120.55" textLength="108.7" lengthAdjust="spacingAndGlyphs">Spoofing</text>
<text x="2220.9" y="120.55" textLength="82.9" lengthAdjust="spacingAndGlyphs">Based</text>
<text x="2307.9" y="120.55" textLength="32.7" lengthAdjust="spacingAndGlyphs">on</text>
<text x="2349.2" y="120.55" textLength="64.2" lengthAdjust="spacingAndGlyphs">DOA</text>
<text x="1935.4" y="160.95" textLength="124.2" lengthAdjust="spacingAndGlyphs">Algorithm</text>
<text x="2064.3" y="160.95" textLength="25.6" lengthAdjust="spacingAndGlyphs">in</text>
<text x="2097.9" y="160.95" textLength="40.3" lengthAdjust="spacingAndGlyphs">this</text>
<text x="2150.6" y="160.95" textLength="73.3" lengthAdjust="spacingAndGlyphs">paper</text>
</g>
<g id="plot2">
<clipPath id="clip1"><rect x="127.3" y="489.2" width="2312.97" height="301.6"/></clipPath>
<path class="vg" d="M417.14 791.4V489.2M705.54 791.4V489.2M993.94 791.4V489.2M1282.34 791.4V489.2M1570.74 791.4V489.2M1859.14 791.4V489.2M2147.54 791.4V489.2"/>
<path class="hg" d="M126.93 713.95H2440.27M126.93 638.55H2440.27M126.93 566.05H2440.27"/>
<path class="v" d="M417.14 489.2V515.3M417.14 790.8V767.6M705.54 489.2V515.3M705.54 790.8V767.6M993.94 489.2V515.3M993.94 790.8V767.6M1282.34 489.2V515.3M1282.34 790.8V767.6M1570.74 489.2V515.3M1570.74 790.8V767.6M1859.14 489.2V515.3M1859.14 790.8V767.6M2147.54 489.2V515.3M2147.54 790.8V767.6"/>
<path class="h" d="M127.3 713.95H153.26M2440.27 713.95H2412.29M127.3 638.55H153.26M2440.27 638.55H2412.29M127.3 566.05H153.26M2440.27 566.05H2412.29"/>
<g clip-path="url(#clip1)">
<path class="red" d="M131.63 645.8V680.6M134.51 608.1V648.7M137.39 602.3V616.8M140.28 613.9V634.2M143.16 631.3V642.9M146.05 637.1V654.5M148.93 651.6V666.1M151.81 622.6V657.4M154.7 602.3V625.5M157.58 602.3V657.4M160.47 654.5V706.7M163.35 605.2V657.4M166.23 648.7V692.2M169.12 602.3V657.4M172 582V631.3M174.89 628.4V674.8M177.77 608.1V642.9M180.65 628.4V663.2M183.54 660.3V686.4M186.42 651.6V695.1M189.31 608.1V654.5M192.19 622.6V637.1M195.07 634.2V640M197.96 637.1V642.9M200.84 625.5V642.9M203.73 611V645.8M206.61 642.9V674.8M209.49 642.9V674.8M212.38 613.9V651.6M215.26 648.7V686.4M218.15 625.5V669M221.03 582V628.4M223.91 561.7V599.4M226.8 596.5V648.7M229.68 645.8V677.7M232.57 660.3V695.1M235.45 596.5V663.2M238.33 567.5V599.4M241.22 590.7V622.6M244.1 602.3V625.5M246.99 582V625.5M249.87 622.6V671.9M252.75 663.2V674.8M255.64 628.4V666.1M258.52 593.6V631.3M261.41 582V619.7M264.29 616.8V654.5M267.17 613.9V637.1M270.06 613.9V628.4M272.94 625.5V648.7M275.83 645.8V660.3M278.71 631.3V651.6M281.59 619.7V640M284.48 628.4V654.5M287.36 599.4V631.3M290.25 590.7V634.2M293.13 631.3V671.9M296.01 611V642.9M298.9 637.1V663.2M301.78 613.9V642.9M304.67 611V648.7M307.55 645.8V680.6M310.43 619.7V669M313.32 584.9V622.6M316.2 616.8V663.2M319.09 660.3V671.9M321.97 611V663.2M324.85 567.5V619.7M327.74 616.8V669M330.62 631.3V654.5M333.51 628.4V666.1M336.39 648.7V698M339.27 576.2V651.6M342.16 547.2V628.4M345.04 625.5V703.8M347.93 622.6V689.3M350.81 573.3V625.5M353.69 616.8V671.9M356.58 561.7V619.7M359.46 593.6V663.2M362.35 660.3V700.9M365.23 642.9V683.5M368.11 622.6V651.6M371 648.7V674.8M373.88 622.6V651.6M376.77 642.9V666.1M379.65 622.6V645.8M382.53 616.8V645.8M385.42 590.7V628.4M388.3 625.5V660.3M391.19 642.9V654.5M394.07 642.9V663.2M396.95 622.6V645.8M399.84 622.6V651.6M402.72 645.8V674.8M405.61 616.8V671.9M408.49 648.7V721.2M411.37 576.2V651.6M414.26 625.5V674.8M417.14 602.3V640M420.03 634.2V683.5M422.91 677.7V698M425.79 657.4V680.6M428.68 654.5V698M431.56 613.9V657.4M434.45 631.3V666.1M437.33 596.5V637.1M440.21 634.2V674.8M443.1 642.9V669M445.98 625.5V651.6M448.87 648.7V674.8M451.75 637.1V666.1M454.63 663.2V692.2M457.52 640V669M460.4 634.2V642.9M463.29 634.2V637.1M466.17 599.4V637.1M469.05 561.7V602.3M471.94 576.2V625.5M474.82 622.6V666.1M477.71 645.8V674.8M480.59 619.7V648.7M483.47 637.1V660.3M486.36 651.6V666.1M489.24 640V666.1M492.13 660.3V689.3M495.01 631.3V663.2M497.89 657.4V689.3M500.78 628.4V660.3M503.66 637.1V645.8M506.55 622.6V642.9M509.43 596.5V625.5M512.31 582V599.4M515.2 593.6V613.9M518.08 611V619.7M520.97 611V619.7M523.85 602.3V631.3M526.73 613.9V654.5M529.62 573.3V616.8M532.5 593.6V622.6M535.39 619.7V651.6M538.27 648.7V674.8M541.15 611V657.4M544.04 582V628.4M546.92 625.5V671.9M549.81 602.3V640M552.69 625.5V674.8M555.57 576.2V628.4M558.46 608.1V640M561.34 587.8V625.5M564.23 622.6V657.4M567.11 622.6V642.9M569.99 637.1V660.3M572.88 613.9V640M575.76 593.6V616.8M578.65 576.2V648.7M581.53 645.8V715.4M584.41 602.3V660.3M587.3 599.4V619.7M590.18 616.8V654.5M593.07 648.7V669M595.95 631.3V651.6M598.83 634.2V657.4M601.72 613.9V637.1M604.6 619.7V642.9M607.49 640V654.5M610.37 631.3V645.8M613.25 628.4V648.7M616.14 584.9V631.3M619.02 555.9V587.8M621.91 561.7V590.7M624.79 587.8V637.1M627.67 634.2V663.2M630.56 637.1V651.6M633.44 611V648.7M636.33 576.2V613.9M639.21 590.7V625.5M642.09 622.6V648.7M644.98 637.1V648.7M647.86 625.5V640M650.75 622.6V642.9M653.63 631.3V660.3M656.51 599.4V634.2M659.4 593.6V611M662.28 608.1V622.6M665.17 602.3V622.6M668.05 582V605.2M670.93 602.3V622.6M673.82 602.3V619.7M676.7 616.8V637.1M679.59 634.2V663.2M682.47 634.2V680.6M685.35 564.6V637.1M688.24 538.5V608.1M691.12 605.2V674.8M694.01 596.5V651.6M696.89 567.5V622.6M699.77 619.7V674.8M702.66 602.3V640M705.54 637.1V695.1M708.43 666.1V715.4M711.31 619.7V669M714.19 616.8V625.5M717.08 611V642.9M719.96 640V671.9M722.85 628.4V654.5M725.73 651.6V674.8M728.61 631.3V666.1M731.5 608.1V642.9M734.38 640V674.8M737.27 619.7V648.7M740.15 645.8V674.8M743.03 631.3V654.5M745.92 651.6V727M748.8 724.1V776.3M751.69 683.5V735.7M754.57 648.7V686.4M757.45 625.5V651.6M760.34 637.1V671.9M763.22 605.2V640M766.11 637.1V671.9M768.99 605.2V640M771.87 599.4V616.8M774.76 582V622.6M777.64 619.7V657.4M780.53 602.3V640M783.41 637.1V689.3M786.29 651.6V700.9M789.18 602.3V654.5M792.06 637.1V674.8M794.95 642.9V669M797.83 608.1V645.8M800.71 570.4V611M803.6 550.1V587.8M806.48 584.9V619.7M809.37 611V619.7M812.25 605.2V613.9M815.13 608.1V619.7M818.02 596.5V611M820.9 602.3V622.6M823.79 616.8V634.2M826.67 602.3V622.6M829.55 619.7V640M832.44 602.3V622.6M835.32 616.8V642.9M838.21 605.2V651.6M841.09 561.7V608.1M843.97 590.7V622.6M846.86 602.3V631.3M849.74 628.4V654.5M852.63 642.9V660.3M855.51 642.9V671.9M858.39 616.8V648.7M861.28 645.8V689.3M864.16 669V703.8M867.05 637.1V671.9M869.93 645.8V663.2M872.81 642.9V671.9M875.7 616.8V651.6M878.58 648.7V683.5M881.47 619.7V660.3M884.35 605.2V645.8M887.23 642.9V683.5M890.12 605.2V651.6M893 593.6V637.1M895.89 634.2V674.8M898.77 619.7V648.7M901.65 631.3V674.8M904.54 587.8V634.2M907.42 631.3V686.4M910.31 666.1V695.1M913.19 640V669M916.07 637.1V674.8M918.96 602.3V640M921.84 637.1V674.8M924.73 634.2V671.9M927.61 602.3V637.1M930.49 613.9V634.2M933.38 631.3V671.9M936.26 669V703.8M939.15 640V674.8M942.03 631.3V660.3M944.91 593.6V634.2M947.8 584.9V622.6M950.68 619.7V674.8M953.57 671.9V695.1M956.45 651.6V674.8M959.33 651.6V686.4M962.22 611V654.5M965.1 605.2V637.1M967.99 634.2V663.2M970.87 648.7V663.2M973.75 642.9V674.8M976.64 613.9V645.8M979.52 622.6V637.1M982.41 634.2V657.4M985.29 654.5V674.8M988.17 622.6V663.2M991.06 596.5V625.5M993.94 602.3V619.7M996.83 616.8V680.6M999.71 677.7V729.9M1002.59 634.2V698M1005.48 602.3V637.1M1008.36 631.3V660.3M1011.25 631.3V648.7M1014.13 631.3V637.1M1017.01 608.1V637.1M1019.9 582V631.3M1022.78 628.4V674.8M1025.67 602.3V657.4M1028.55 654.5V706.7M1031.43 645.8V686.4M1034.32 666.1V724.1M1037.2 608.1V669M1040.09 602.3V616.8M1042.97 613.9V637.1M1045.85 634.2V677.7M1048.74 674.8V712.5M1051.62 660.3V689.3M1054.51 657.4V663.2M1057.39 637.1V660.3M1060.27 616.8V640M1063.16 634.2V654.5M1066.04 651.6V660.3M1068.93 637.1V663.2M1071.81 611V640M1074.69 628.4V648.7M1077.58 605.2V637.1M1080.46 587.8V631.3M1083.35 628.4V669M1086.23 613.9V645.8M1089.11 642.9V674.8M1092 648.7V674.8M1094.88 625.5V651.6M1097.77 642.9V660.3M1100.65 645.8V657.4M1103.53 642.9V677.7M1106.42 669V706.7M1109.3 634.2V671.9M1112.19 642.9V651.6M1115.07 640V648.7M1117.95 640V660.3M1120.84 648.7V674.8M1123.72 611V651.6M1126.61 596.5V637.1M1129.49 634.2V674.8M1132.37 645.8V663.2M1135.26 660.3V689.3M1138.14 663.2V703.8M1141.03 605.2V666.1M1143.91 582V625.5M1146.79 622.6V666.1M1149.68 590.7V645.8M1152.56 558.8V619.7M1155.45 616.8V674.8M1158.33 605.2V642.9M1161.21 628.4V654.5M1164.1 637.1V657.4M1166.98 616.8V640M1169.87 631.3V645.8M1172.75 619.7V645.8M1175.63 642.9V669M1178.52 611V645.8M1181.4 605.2V634.2M1184.29 631.3V657.4M1187.17 625.5V645.8M1190.05 619.7V645.8M1192.94 642.9V666.1M1195.82 616.8V657.4M1198.71 587.8V619.7M1201.59 596.5V622.6M1204.47 619.7V637.1M1207.36 605.2V625.5M1210.24 622.6V642.9M1213.13 625.5V645.8M1216.01 642.9V663.2M1218.89 631.3V657.4M1221.78 590.7V634.2M1224.66 567.5V593.6M1227.55 576.2V640M1230.43 637.1V692.2M1233.31 645.8V680.6M1236.2 674.8V709.6M1239.08 637.1V677.7M1241.97 631.3V642.9M1244.85 637.1V648.7M1247.73 625.5V651.6M1250.62 648.7V683.5M1253.5 677.7V692.2M1256.39 640V680.6M1259.27 608.1V642.9M1262.15 587.8V611M1265.04 573.3V613.9M1267.92 611V671.9M1270.81 669V692.2M1273.69 651.6V677.7M1276.57 631.3V654.5M1279.46 616.8V634.2M1282.34 622.6V645.8M1285.23 599.4V625.5M1288.11 593.6V608.1M1290.99 605.2V616.8M1293.88 593.6V625.5M1296.76 622.6V657.4M1299.65 637.1V657.4M1302.53 616.8V640M1305.41 631.3V651.6M1308.3 637.1V654.5M1311.18 622.6V640M1314.07 637.1V666.1M1316.95 648.7V674.8M1319.83 625.5V651.6M1322.72 637.1V660.3M1325.6 616.8V640M1328.49 631.3V648.7M1331.37 645.8V657.4M1334.25 645.8V666.1M1337.14 622.6V648.7M1340.02 613.9V640M1342.91 637.1V660.3M1345.79 634.2V654.5M1348.67 648.7V669M1351.56 628.4V651.6M1354.44 625.5V637.1M1357.33 616.8V645.8M1360.21 642.9V686.4M1363.09 669V700.9M1365.98 640V671.9M1368.86 651.6V677.7M1371.75 628.4V654.5M1374.63 637.1V674.8M1377.51 599.4V640M1380.4 613.9V669M1383.28 666.1V706.7M1386.17 628.4V669M1389.05 634.2V677.7M1391.93 674.8V712.5M1394.82 625.5V686.4M1397.7 596.5V631.3M1400.59 619.7V660.3M1403.47 582V634.2M1406.35 631.3V698M1409.24 689.3V709.6M1412.12 634.2V692.2M1415.01 596.5V637.1M1417.89 634.2V674.8M1420.77 616.8V666.1M1423.66 663.2V712.5M1426.54 622.6V669M1429.43 640V660.3M1432.31 645.8V660.3M1435.19 657.4V671.9M1438.08 622.6V669M1440.96 582V625.5M1443.85 593.6V634.2M1446.73 631.3V663.2M1449.61 602.3V634.2M1452.5 616.8V634.2M1455.38 613.9V640M1458.27 637.1V663.2M1461.15 637.1V660.3M1464.03 599.4V640M1466.92 576.2V602.3M1469.8 582V634.2M1472.69 631.3V674.8M1475.57 605.2V642.9M1478.45 628.4V651.6M1481.34 611V637.1M1484.22 587.8V613.9M1487.11 570.4V590.7M1489.99 579.1V599.4M1492.87 596.5V628.4M1495.76 625.5V657.4M1498.64 634.2V663.2M1501.53 605.2V637.1M1504.41 613.9V640M1507.29 637.1V654.5M1510.18 631.3V645.8M1513.06 634.2V657.4M1515.95 587.8V637.1M1518.83 561.7V611M1521.71 608.1V654.5M1524.6 564.6V611M1527.48 587.8V616.8M1530.37 613.9V637.1M1533.25 634.2V654.5M1536.13 631.3V645.8M1539.02 642.9V663.2M1541.9 642.9V669M1544.79 616.8V645.8M1547.67 611V619.7M1550.55 605.2V637.1M1553.44 634.2V674.8M1556.32 660.3V686.4M1559.21 634.2V663.2M1562.09 640V660.3M1564.97 648.7V671.9M1567.86 622.6V651.6M1570.74 616.8V640M1573.63 637.1V657.4M1576.51 637.1V654.5M1579.39 613.9V640M1582.28 599.4V631.3M1585.16 628.4V657.4M1588.05 642.9V657.4M1590.93 654.5V669M1593.81 631.3V666.1M1596.7 602.3V634.2M1599.58 616.8V651.6M1602.47 582V631.3M1605.35 628.4V674.8M1608.23 602.3V660.3M1611.12 657.4V712.5M1614 631.3V695.1M1616.89 590.7V634.2M1619.77 622.6V657.4M1622.65 654.5V677.7M1625.54 657.4V698M1628.42 616.8V660.3M1631.31 622.6V651.6M1634.19 634.2V674.8M1637.07 596.5V637.1M1639.96 631.3V669M1642.84 605.2V654.5M1645.73 648.7V698M1648.61 596.5V651.6M1651.49 590.7V628.4M1654.38 625.5V683.5M1657.26 640V703.8M1660.15 576.2V642.9M1663.03 613.9V651.6M1665.91 602.3V628.4M1668.8 619.7V645.8M1671.68 642.9V660.3M1674.57 657.4V671.9M1677.45 645.8V674.8M1680.33 616.8V648.7M1683.22 640V663.2M1686.1 634.2V651.6M1688.99 645.8V660.3M1691.87 628.4V648.7M1694.75 622.6V648.7M1697.64 642.9V669M1700.52 619.7V645.8M1703.41 625.5V660.3M1706.29 593.6V628.4M1709.17 619.7V657.4M1712.06 634.2V663.2M1714.94 605.2V642.9M1717.83 640V674.8M1720.71 619.7V654.5M1723.59 605.2V631.3M1726.48 628.4V651.6M1729.36 605.2V642.9M1732.25 640V674.8M1735.13 605.2V642.9M1738.01 640V674.8M1740.9 625.5V666.1M1743.78 596.5V651.6M1746.67 648.7V703.8M1749.55 608.1V671.9M1752.43 663.2V729.9M1755.32 599.4V666.1M1758.2 605.2V645.8M1761.09 642.9V674.8M1763.97 613.9V645.8M1766.85 642.9V671.9M1769.74 613.9V645.8M1772.62 616.8V640M1775.51 637.1V660.3M1778.39 625.5V645.8M1781.27 628.4V651.6M1784.16 648.7V669M1787.04 637.1V654.5M1789.93 642.9V663.2M1792.81 622.6V648.7M1795.69 645.8V671.9M1798.58 622.6V648.7M1801.46 642.9V666.1M1804.35 642.9V663.2M1807.23 628.4V645.8M1810.11 637.1V657.4M1813 616.8V640M1815.88 625.5V657.4M1818.77 654.5V674.8M1821.65 640V674.8M1824.53 608.1V666.1M1827.42 651.6V718.3M1830.3 584.9V654.5M1833.19 625.5V674.8M1836.07 634.2V680.6M1838.95 587.8V637.1M1841.84 616.8V651.6M1844.72 584.9V622.6M1847.61 619.7V660.3M1850.49 619.7V663.2M1853.37 576.2V660.3M1856.26 657.4V741.5M1859.14 576.2V666.1M1862.03 561.7V605.2M1864.91 602.3V660.3M1867.79 657.4V674.8M1870.68 645.8V674.8M1873.56 602.3V648.7M1876.45 584.9V611M1879.33 608.1V631.3M1882.21 587.8V611M1885.1 605.2V634.2M1887.98 631.3V654.5M1890.87 619.7V663.2M1893.75 579.1V622.6M1896.63 582V622.6M1899.52 605.2V657.4M1902.4 553V608.1M1905.29 605.2V660.3M1908.17 637.1V651.6M1911.05 648.7V663.2M1913.94 634.2V654.5M1916.82 619.7V637.1M1919.71 608.1V622.6M1922.59 593.6V611M1925.47 567.5V596.5M1928.36 550.1V613.9M1931.24 611V674.8M1934.13 584.9V640M1937.01 637.1V692.2M1939.89 584.9V640M1942.78 605.2V631.3M1945.66 628.4V637.1M1948.55 634.2V642.9M1951.43 616.8V648.7M1954.31 584.9V619.7M1957.2 616.8V648.7M1960.08 570.4V619.7M1962.97 553V613.9M1965.85 611V669M1968.73 602.3V637.1M1971.62 593.6V605.2M1974.5 584.9V596.5M1977.39 593.6V605.2M1980.27 587.8V640M1983.15 637.1V689.3M1986.04 613.9V666.1M1988.92 579.1V616.8M1991.81 567.5V582M1994.69 576.2V637.1M1997.57 634.2V683.5M2000.46 616.8V677.7M2003.34 564.6V619.7M2006.23 587.8V622.6M2009.11 553V631.3M2011.99 628.4V706.7M2014.88 593.6V654.5M2017.76 584.9V657.4M2020.65 648.7V724.1M2023.53 570.4V651.6M2026.41 564.6V602.3M2029.3 599.4V637.1M2032.18 628.4V645.8M2035.07 642.9V671.9M2037.95 642.9V683.5M2040.83 602.3V645.8M2043.72 634.2V669M2046.6 599.4V637.1M2049.49 625.5V663.2M2052.37 587.8V637.1M2055.25 634.2V680.6M2058.14 587.8V637.1M2061.02 584.9V590.7M2063.91 582V602.3M2066.79 584.9V619.7M2069.67 550.1V619.7M2072.56 616.8V686.4M2075.44 602.3V645.8M2078.33 619.7V663.2M2081.21 576.2V622.6M2084.09 599.4V631.3M2086.98 619.7V637.1M2089.86 602.3V669M2092.75 666.1V732.8M2095.63 628.4V695.1M2098.51 593.6V631.3M2101.4 576.2V596.5M2104.28 564.6V579.1M2107.17 561.7V605.2M2110.05 602.3V645.8M2112.93 593.6V640M2115.82 637.1V680.6M2118.7 637.1V666.1M2121.59 613.9V640M2124.47 602.3V640M2127.35 637.1V671.9M2130.24 599.4V657.4M2133.12 558.8V608.1M2136.01 605.2V651.6M2138.89 584.9V622.6M2141.77 619.7V669M2144.66 634.2V683.5M2147.54 584.9V637.1M2150.43 628.4V671.9M2153.31 648.7V666.1M2156.19 631.3V680.6M2159.08 582V634.2M2161.96 619.7V660.3M2164.85 602.3V634.2M2167.73 631.3V663.2M2170.61 599.4V634.2M2173.5 579.1V602.3M2176.38 555.9V582M2179.27 573.3V608.1M2182.15 605.2V625.5M2185.03 602.3V628.4M2187.92 579.1V616.8M2190.8 613.9V651.6M2193.69 634.2V645.8M2196.57 608.1V637.1M2199.45 573.3V611M2202.34 561.7V619.7M2205.22 616.8V671.9M2208.11 654.5V671.9M2210.99 637.1V686.4M2213.87 587.8V640M2216.76 619.7V651.6M2219.64 602.3V631.3M2222.53 628.4V657.4M2225.41 628.4V654.5M2228.29 628.4V674.8M2231.18 582V631.3M2234.06 584.9V616.8M2236.95 613.9V645.8M2239.83 619.7V634.2M2242.71 611V622.6M2245.6 596.5V613.9M2248.48 587.8V634.2M2251.37 631.3V674.8M2254.25 634.2V663.2M2257.13 660.3V686.4M2260.02 669V680.6M2262.9 651.6V680.6M2265.79 605.2V654.5M2268.67 584.9V608.1M2271.55 590.7V605.2M2274.44 602.3V640M2277.32 637.1V663.2M2280.21 625.5V657.4M2283.09 602.3V631.3M2285.97 628.4V654.5M2288.86 651.6V663.2M2291.74 616.8V671.9M2294.63 564.6V619.7M2297.51 593.6V625.5M2300.39 602.3V616.8M2303.28 602.3V640M2306.16 637.1V674.8M2309.05 602.3V640M2311.93 637.1V695.1M2314.81 631.3V712.5M2317.7 550.1V634.2M2320.58 590.7V637.1M2323.47 622.6V642.9M2326.35 596.5V625.5M2329.23 587.8V631.3M2332.12 628.4V669M2335 602.3V637.1M2337.89 631.3V663.2M2340.77 619.7V651.6M2343.65 602.3V625.5M2346.54 622.6V663.2M2349.42 640V680.6M2352.31 593.6V642.9M2355.19 570.4V596.5M2358.07 555.9V599.4M2360.96 596.5V640M2363.84 622.6V642.9M2366.73 640V657.4M2369.61 605.2V642.9M2372.49 584.9V608.1M2375.38 602.3V637.1M2378.26 634.2V657.4M2381.15 628.4V663.2M2384.03 579.1V631.3M2386.91 558.8V582"/>
<path class="v" d="M131.63 611V642.9M134.51 637.1V669M137.39 605.2V640M140.28 637.1V677.7M143.16 666.1V683.5M146.05 625.5V669M148.93 596.5V645.8M151.81 642.9V692.2M154.7 622.6V660.3M157.58 640V677.7M160.47 605.2V642.9M163.35 616.8V657.4M166.23 576.2V625.5M169.12 622.6V669M172 608.1V645.8M174.89 642.9V680.6M177.77 613.9V648.7M180.65 640V700.9M183.54 669V732.8M186.42 608.1V671.9M189.31 619.7V654.5M192.19 651.6V674.8M195.07 619.7V671.9M197.96 573.3V631.3M200.84 628.4V683.5M203.73 622.6V663.2M206.61 608.1V640M209.49 637.1V669M212.38 611V642.9M215.26 619.7V640M218.15 637.1V660.3M221.03 657.4V674.8M223.91 645.8V663.2M226.8 642.9V657.4M229.68 616.8V645.8M232.57 602.3V619.7M235.45 616.8V634.2M238.33 613.9V657.4M241.22 645.8V695.1M244.1 599.4V648.7M246.99 616.8V637.1M249.87 605.2V622.6M252.75 613.9V622.6M255.64 599.4V619.7M258.52 584.9V637.1M261.41 634.2V686.4M264.29 671.9V683.5M267.17 669V692.2M270.06 628.4V671.9M272.94 608.1V642.9M275.83 640V671.9M278.71 611V642.9M281.59 622.6V657.4M284.48 654.5V674.8M287.36 631.3V669M290.25 582V634.2M293.13 558.8V619.7M296.01 616.8V686.4M298.9 683.5V698M301.78 642.9V692.2M304.67 602.3V645.8M307.55 602.3V616.8M310.43 590.7V605.2M313.32 599.4V634.2M316.2 628.4V660.3M319.09 596.5V634.2M321.97 631.3V666.1M324.85 602.3V637.1M327.74 613.9V651.6M330.62 642.9V674.8M333.51 611V645.8M336.39 637.1V666.1M339.27 634.2V666.1M342.16 602.3V637.1M345.04 596.5V637.1M347.93 634.2V674.8M350.81 613.9V660.3M353.69 654.5V703.8M356.58 608.1V657.4M359.46 628.4V686.4M362.35 677.7V721.2M365.23 631.3V680.6M368.11 616.8V634.2M371 602.3V631.3M373.88 628.4V657.4M376.77 648.7V660.3M379.65 628.4V651.6M382.53 616.8V631.3M385.42 619.7V634.2M388.3 608.1V628.4M391.19 625.5V671.9M394.07 645.8V698M396.95 593.6V648.7M399.84 613.9V634.2M402.72 625.5V631.3M405.61 628.4V654.5M408.49 640V674.8M411.37 605.2V651.6M414.26 648.7V692.2M417.14 619.7V666.1M420.03 605.2V642.9M422.91 634.2V674.8M425.79 593.6V637.1M428.68 602.3V631.3M431.56 576.2V605.2M434.45 593.6V645.8M437.33 634.2V677.7M440.21 590.7V637.1M443.1 625.5V663.2M445.98 622.6V651.6M448.87 648.7V686.4M451.75 674.8V698M454.63 625.5V677.7M457.52 599.4V628.4M460.4 625.5V651.6M463.29 613.9V660.3M466.17 657.4V703.8M469.05 613.9V660.3M471.94 640V666.1M474.82 631.3V651.6M477.71 637.1V657.4M480.59 613.9V640M483.47 608.1V648.7M486.36 645.8V683.5M489.24 611V660.3M492.13 587.8V613.9M495.01 611V637.1M497.89 602.3V625.5M500.78 611V645.8M503.66 573.3V613.9M506.55 564.6V625.5M509.43 622.6V683.5M512.31 602.3V645.8M515.2 637.1V674.8M518.08 625.5V683.5M520.97 680.6V735.7M523.85 642.9V703.8M526.73 619.7V645.8M529.62 631.3V660.3M532.5 584.9V634.2M535.39 567.5V605.2M538.27 602.3V640M541.15 613.9V637.1M544.04 593.6V631.3M546.92 628.4V666.1M549.81 613.9V642.9M552.69 637.1V663.2M555.57 613.9V651.6M558.46 648.7V683.5M561.34 631.3V663.2M564.23 625.5V634.2M567.11 613.9V628.4M569.99 602.3V634.2M572.88 631.3V663.2M575.76 625.5V645.8M578.65 631.3V660.3M581.53 602.3V637.1M584.41 634.2V686.4M587.3 674.8V703.8M590.18 648.7V680.6M593.07 677.7V709.6M595.95 625.5V680.6M598.83 602.3V648.7M601.72 645.8V692.2M604.6 608.1V654.5M607.49 602.3V640M610.37 637.1V674.8M613.25 608.1V642.9M616.14 637.1V671.9M619.02 605.2V642.9M621.91 640V683.5M624.79 680.6V692.2M627.67 671.9V683.5M630.56 669V686.4M633.44 674.8V700.9M636.33 628.4V677.7M639.21 590.7V631.3M642.09 576.2V608.1M644.98 605.2V637.1M647.86 596.5V619.7M650.75 564.6V608.1M653.63 521.1V596.5M656.51 593.6V692.2M659.4 689.3V712.5M662.28 642.9V695.1M665.17 611V657.4M668.05 654.5V698M670.93 611V666.1M673.82 587.8V637.1M676.7 634.2V683.5M679.59 605.2V645.8M682.47 613.9V625.5M685.35 613.9V622.6M688.24 616.8V666.1M691.12 663.2V709.6M694.01 619.7V669M696.89 613.9V663.2M699.77 660.3V706.7M702.66 628.4V669M705.54 651.6V674.8M708.43 628.4V654.5M711.31 637.1V674.8M714.19 602.3V648.7M717.08 645.8V700.9M719.96 654.5V709.6M722.85 602.3V657.4M725.73 605.2V616.8M728.61 611V619.7M731.5 590.7V613.9M734.38 579.1V628.4M737.27 625.5V671.9M740.15 613.9V651.6M743.03 648.7V683.5M745.92 622.6V654.5M748.8 648.7V674.8M751.69 625.5V651.6M754.57 628.4V654.5M757.45 602.3V631.3M760.34 628.4V657.4M763.22 611V637.1M766.11 625.5V640M768.99 619.7V642.9M771.87 640V663.2M774.76 619.7V651.6M777.64 602.3V622.6M780.53 605.2V608.1M783.41 590.7V608.1M786.29 579.1V625.5M789.18 622.6V666.1M792.06 637.1V683.5M794.95 671.9V727M797.83 616.8V674.8M800.71 611V651.6M803.6 648.7V689.3M806.48 605.2V660.3M809.37 579.1V628.4M812.25 625.5V671.9M815.13 608.1V642.9M818.02 619.7V634.2M820.9 613.9V648.7M823.79 640V677.7M826.67 587.8V642.9M829.55 570.4V625.5M832.44 622.6V674.8M835.32 608.1V674.8M838.21 671.9V735.7M841.09 613.9V683.5M843.97 602.3V640M846.86 628.4V674.8M849.74 584.9V648.7M852.63 645.8V706.7M855.51 602.3V657.4M858.39 642.9V686.4M861.28 619.7V654.5M864.16 616.8V674.8M867.05 558.8V619.7M869.93 616.8V674.8M872.81 611V648.7M875.7 602.3V651.6M878.58 648.7V695.1M881.47 631.3V666.1M884.35 628.4V648.7M887.23 637.1V663.2M890.12 611V640M893 619.7V666.1M895.89 663.2V700.9M898.77 605.2V666.1M901.65 579.1V619.7M904.54 616.8V654.5M907.42 622.6V651.6M910.31 602.3V640M913.19 637.1V674.8M916.07 634.2V669M918.96 608.1V637.1M921.84 611V640M924.73 637.1V666.1M927.61 660.3V671.9M930.49 648.7V663.2M933.38 616.8V657.4M936.26 576.2V619.7M939.15 602.3V640M942.03 637.1V648.7M944.91 634.2V651.6M947.8 619.7V666.1M950.68 663.2V709.6M953.57 631.3V671.9M956.45 640V660.3M959.33 640V671.9M962.22 608.1V642.9M965.1 611V660.3M967.99 654.5V706.7M970.87 587.8V657.4M973.75 570.4V611M976.64 608.1V683.5M979.52 680.6V729.9M982.41 677.7V741.5M985.29 613.9V680.6M988.17 648.7V683.5M991.06 613.9V651.6M993.94 642.9V674.8M996.83 663.2V674.8M999.71 619.7V666.1M1002.59 584.9V640M1005.48 637.1V689.3M1008.36 625.5V660.3M1011.25 634.2V642.9M1014.13 616.8V642.9M1017.01 596.5V619.7M1019.9 602.3V660.3M1022.78 657.4V712.5M1025.67 619.7V669M1028.55 637.1V683.5M1031.43 671.9V709.6M1034.32 622.6V674.8M1037.2 608.1V642.9M1040.09 628.4V674.8M1042.97 584.9V631.3M1045.85 590.7V637.1M1048.74 634.2V671.9M1051.62 634.2V666.1M1054.51 663.2V692.2M1057.39 671.9V692.2M1060.27 683.5V709.6M1063.16 648.7V686.4M1066.04 634.2V651.6M1068.93 625.5V657.4M1071.81 654.5V683.5M1074.69 634.2V671.9M1077.58 669V703.8M1080.46 660.3V689.3M1083.35 648.7V677.7M1086.23 674.8V703.8M1089.11 645.8V677.7M1092 660.3V674.8M1094.88 631.3V663.2M1097.77 611V645.8M1100.65 642.9V692.2M1103.53 677.7V709.6M1106.42 645.8V680.6M1109.3 651.6V666.1M1112.19 648.7V674.8M1115.07 616.8V651.6M1117.95 611V654.5M1120.84 651.6V692.2M1123.72 631.3V666.1M1126.61 622.6V634.2M1129.49 619.7V648.7M1132.37 640V674.8M1135.26 605.2V642.9M1138.14 622.6V642.9M1141.03 625.5V637.1M1143.91 631.3V654.5M1146.79 645.8V669M1149.68 596.5V648.7M1152.56 570.4V619.7M1155.45 616.8V692.2M1158.33 674.8V715.4M1161.21 634.2V677.7M1164.1 631.3V648.7M1166.98 613.9V634.2M1169.87 611V648.7M1172.75 645.8V680.6M1175.63 616.8V651.6M1178.52 625.5V642.9M1181.4 640V666.1M1184.29 663.2V683.5M1187.17 634.2V677.7M1190.05 602.3V637.1M1192.94 613.9V651.6M1195.82 576.2V622.6M1198.71 619.7V663.2M1201.59 622.6V654.5M1204.47 602.3V640M1207.36 637.1V686.4M1210.24 648.7V695.1M1213.13 602.3V651.6M1216.01 637.1V671.9M1218.89 619.7V648.7M1221.78 616.8V628.4M1224.66 625.5V640M1227.55 637.1V645.8M1230.43 642.9V657.4M1233.31 637.1V666.1M1236.2 611V640M1239.08 634.2V660.3M1241.97 625.5V651.6M1244.85 611V628.4M1247.73 625.5V666.1M1250.62 663.2V686.4M1253.5 640V666.1M1256.39 657.4V677.7M1259.27 637.1V660.3M1262.15 651.6V674.8M1265.04 651.6V680.6M1267.92 613.9V654.5M1270.81 602.3V616.8M1273.69 605.2V613.9M1276.57 596.5V631.3M1279.46 628.4V663.2M1282.34 625.5V645.8M1285.23 628.4V654.5M1288.11 651.6V674.8M1290.99 637.1V657.4M1293.88 645.8V654.5M1296.76 625.5V651.6M1299.65 608.1V637.1M1302.53 634.2V671.9M1305.41 651.6V677.7M1308.3 628.4V654.5M1311.18 590.7V631.3M1314.07 550.1V593.6M1316.95 570.4V634.2M1319.83 631.3V674.8M1322.72 611V648.7M1325.6 605.2V657.4M1328.49 654.5V703.8M1331.37 613.9V660.3M1334.25 616.8V654.5M1337.14 582V622.6M1340.02 619.7V660.3M1342.91 608.1V637.1M1345.79 631.3V654.5M1348.67 608.1V634.2M1351.56 605.2V611M1354.44 602.3V619.7M1357.33 616.8V631.3M1360.21 584.9V625.5M1363.09 553V602.3M1365.98 599.4V645.8M1368.86 590.7V619.7M1371.75 616.8V642.9M1374.63 631.3V660.3M1377.51 651.6V683.5M1380.4 619.7V654.5M1383.28 645.8V674.8M1386.17 616.8V648.7M1389.05 622.6V645.8M1391.93 642.9V663.2M1394.82 645.8V657.4M1397.7 648.7V677.7M1400.59 663.2V700.9M1403.47 619.7V666.1M1406.35 599.4V622.6M1409.24 584.9V634.2M1412.12 631.3V680.6M1415.01 608.1V648.7M1417.89 605.2V616.8M1420.77 613.9V622.6M1423.66 608.1V628.4M1426.54 625.5V669M1429.43 648.7V695.1M1432.31 590.7V651.6M1435.19 579.1V616.8M1438.08 613.9V683.5M1440.96 680.6V712.5M1443.85 642.9V695.1M1446.73 613.9V660.3M1449.61 657.4V700.9M1452.5 616.8V660.3M1455.38 622.6V651.6M1458.27 645.8V674.8M1461.15 616.8V648.7M1464.03 631.3V648.7M1466.92 622.6V645.8M1469.8 642.9V666.1M1472.69 628.4V648.7M1475.57 625.5V651.6M1478.45 602.3V640M1481.34 625.5V671.9M1484.22 579.1V634.2M1487.11 631.3V683.5M1489.99 657.4V692.2M1492.87 680.6V724.1M1495.76 637.1V695.1M1498.64 686.4V747.3M1501.53 625.5V689.3M1504.41 631.3V640M1507.29 634.2V648.7M1510.18 640V657.4M1513.06 622.6V642.9M1515.95 628.4V642.9M1518.83 616.8V634.2M1521.71 628.4V645.8M1524.6 611V637.1M1527.48 613.9V657.4M1530.37 570.4V616.8M1533.25 608.1V645.8M1536.13 602.3V628.4M1539.02 593.6V619.7M1541.9 616.8V669M1544.79 645.8V698M1547.67 596.5V663.2M1550.55 660.3V727M1553.44 654.5V709.6M1556.32 619.7V657.4M1559.21 622.6V674.8M1562.09 570.4V625.5M1564.97 587.8V625.5M1567.86 622.6V663.2M1570.74 660.3V709.6M1573.63 686.4V735.7M1576.51 619.7V689.3M1579.39 596.5V625.5M1582.28 622.6V648.7M1585.16 628.4V663.2M1588.05 637.1V692.2M1590.93 584.9V640M1593.81 605.2V634.2M1596.7 631.3V657.4M1599.58 648.7V677.7M1602.47 611V651.6M1605.35 599.4V613.9M1608.23 605.2V634.2M1611.12 628.4V657.4M1614 602.3V631.3M1616.89 625.5V651.6M1619.77 584.9V628.4M1622.65 567.5V596.5M1625.54 593.6V637.1M1628.42 634.2V666.1M1631.31 648.7V680.6M1634.19 616.8V654.5M1637.07 651.6V686.4M1639.96 611V654.5M1642.84 602.3V640M1645.73 637.1V674.8M1648.61 602.3V648.7M1651.49 645.8V689.3M1654.38 611V651.6M1657.26 608.1V642.9M1660.15 637.1V671.9M1663.03 602.3V642.9M1665.91 640V680.6M1668.8 596.5V648.7M1671.68 582V625.5M1674.57 622.6V666.1M1677.45 602.3V637.1M1680.33 596.5V631.3M1683.22 628.4V660.3M1686.1 657.4V666.1M1688.99 642.9V671.9M1691.87 602.3V645.8M1694.75 584.9V619.7M1697.64 616.8V651.6M1700.52 596.5V628.4M1703.41 590.7V625.5M1706.29 622.6V654.5M1709.17 631.3V645.8M1712.06 619.7V640M1714.94 602.3V625.5M1717.83 622.6V642.9M1720.71 634.2V657.4M1723.59 654.5V677.7M1726.48 605.2V671.9M1729.36 544.3V608.1M1732.25 582V637.1M1735.13 616.8V651.6M1738.01 584.9V631.3M1740.9 628.4V674.8M1743.78 613.9V654.5M1746.67 651.6V692.2M1749.55 625.5V669M1752.43 608.1V640M1755.32 637.1V669M1758.2 587.8V654.5M1761.09 538.5V590.7M1763.97 558.8V593.6M1766.85 590.7V625.5M1769.74 622.6V642.9M1772.62 611V628.4M1775.51 619.7V640M1778.39 599.4V631.3M1781.27 628.4V660.3M1784.16 634.2V657.4M1787.04 616.8V654.5M1789.93 651.6V686.4M1792.81 645.8V669M1795.69 657.4V689.3M1798.58 625.5V660.3M1801.46 619.7V628.4M1804.35 611V631.3M1807.23 628.4V645.8M1810.11 631.3V669M1813 666.1V703.8M1815.88 645.8V683.5M1818.77 634.2V674.8M1821.65 660.3V709.6M1824.53 602.3V663.2M1827.42 590.7V625.5M1830.3 622.6V671.9M1833.19 642.9V683.5M1836.07 602.3V645.8M1838.95 611V637.1M1841.84 625.5V648.7M1844.72 596.5V628.4M1847.61 587.8V599.4M1850.49 593.6V637.1M1853.37 634.2V700.9M1856.26 692.2V727M1859.14 660.3V695.1M1862.03 648.7V666.1M1864.91 634.2V657.4M1867.79 637.1V674.8M1870.68 602.3V640M1873.56 616.8V692.2M1876.45 674.8V747.3M1879.33 602.3V677.7M1882.21 640V718.3M1885.1 561.7V642.9M1887.98 616.8V674.8M1890.87 640V660.3M1893.75 657.4V686.4M1896.63 648.7V698M1899.52 596.5V651.6M1902.4 587.8V599.4M1905.29 587.8V637.1M1908.17 634.2V683.5M1911.05 582V645.8M1913.94 558.8V619.7M1916.82 616.8V674.8M1919.71 616.8V648.7M1922.59 640V692.2M1925.47 642.9V721.2M1928.36 567.5V645.8M1931.24 582V616.8M1934.13 613.9V651.6M1937.01 648.7V671.9M1939.89 669V689.3M1942.78 686.4V703.8M1945.66 637.1V698M1948.55 584.9V640M1951.43 628.4V671.9M1954.31 619.7V657.4M1957.2 587.8V622.6M1960.08 570.4V616.8M1962.97 613.9V660.3M1965.85 654.5V674.8M1968.73 654.5V689.3M1971.62 616.8V657.4M1974.5 608.1V654.5M1977.39 651.6V698M1980.27 625.5V671.9M1983.15 611V628.4M1986.04 619.7V648.7M1988.92 611V666.1M1991.81 558.8V613.9M1994.69 593.6V651.6M1997.57 625.5V671.9M2000.46 582V628.4M2003.34 599.4V631.3M2006.23 628.4V645.8M2009.11 622.6V640M2011.99 611V651.6M2014.88 637.1V686.4M2017.76 590.7V640M2020.65 637.1V683.5M2023.53 593.6V645.8M2026.41 582V596.5M2029.3 584.9V622.6M2032.18 619.7V657.4M2035.07 602.3V640M2037.95 628.4V674.8M2040.83 582V631.3M2043.72 628.4V680.6M2046.6 657.4V686.4M2049.49 596.5V660.3M2052.37 564.6V619.7M2055.25 616.8V669M2058.14 628.4V657.4M2061.02 611V631.3M2063.91 628.4V671.9M2066.79 669V698M2069.67 619.7V680.6M2072.56 579.1V622.6M2075.44 584.9V608.1M2078.33 587.8V622.6M2081.21 555.9V590.7M2084.09 570.4V619.7M2086.98 616.8V648.7M2089.86 625.5V651.6M2092.75 619.7V674.8M2095.63 567.5V622.6M2098.51 584.9V648.7M2101.4 645.8V698M2104.28 654.5V700.9M2107.17 608.1V657.4M2110.05 637.1V674.8M2112.93 602.3V640M2115.82 637.1V689.3M2118.7 642.9V700.9M2121.59 584.9V645.8M2124.47 622.6V674.8M2127.35 570.4V625.5M2130.24 611V654.5M2133.12 570.4V622.6M2136.01 619.7V669M2138.89 579.1V625.5M2141.77 602.3V634.2M2144.66 622.6V642.9M2147.54 602.3V625.5M2150.43 622.6V642.9M2153.31 605.2V637.1M2156.19 582V613.9M2159.08 611V651.6M2161.96 637.1V660.3M2164.85 602.3V640M2167.73 587.8V605.2M2170.61 602.3V640M2173.5 637.1V660.3M2176.38 628.4V657.4M2179.27 605.2V642.9M2182.15 640V674.8M2185.03 608.1V642.9M2187.92 640V671.9M2190.8 634.2V666.1M2193.69 651.6V692.2M2196.57 613.9V677.7M2199.45 674.8V735.7M2202.34 634.2V686.4M2205.22 645.8V674.8M2208.11 619.7V648.7M2210.99 616.8V622.6M2213.87 611V642.9M2216.76 640V698M2219.64 663.2V727M2222.53 602.3V666.1M2225.41 619.7V674.8M2228.29 564.6V622.6M2231.18 608.1V654.5M2234.06 584.9V637.1M2236.95 553V619.7M2239.83 616.8V680.6M2242.71 628.4V677.7M2245.6 584.9V631.3M2248.48 628.4V683.5M2251.37 651.6V692.2M2254.25 599.4V654.5M2257.13 584.9V616.8M2260.02 613.9V642.9M2262.9 596.5V622.6M2265.79 599.4V616.8M2268.67 613.9V634.2M2271.55 631.3V648.7M2274.44 634.2V663.2M2277.32 605.2V637.1M2280.21 631.3V663.2M2283.09 651.6V669M2285.97 637.1V654.5M2288.86 619.7V654.5M2291.74 579.1V622.6M2294.63 567.5V611M2297.51 608.1V651.6M2300.39 602.3V634.2M2303.28 631.3V660.3M2306.16 605.2V637.1M2309.05 596.5V628.4M2311.93 605.2V657.4M2314.81 553V611M2317.7 608.1V666.1M2320.58 579.1V625.5M2323.47 582V605.2M2326.35 561.7V613.9M2329.23 611V680.6M2332.12 625.5V695.1M2335 555.9V628.4M2337.89 570.4V605.2M2340.77 602.3V648.7M2343.65 613.9V674.8M2346.54 555.9V616.8M2349.42 564.6V590.7M2352.31 587.8V640M2355.19 637.1V671.9M2358.07 631.3V692.2M2360.96 680.6V747.3M2363.84 602.3V683.5M2366.73 587.8V608.1M2369.61 605.2V654.5M2372.49 616.8V683.5M2375.38 550.1V637.1M2378.26 634.2V721.2M2381.15 663.2V698M2384.03 622.6V666.1M2386.91 587.8V625.5"/>
<path class="v" d="M131.63 602.3v20.3M134.51 657.4v20.3M137.39 596.5v20.3M140.28 657.4v20.3M143.16 671.9v20.3M146.05 642.9v20.3M148.93 587.8v20.3M151.81 680.6v20.3M154.7 613.9v20.3M157.58 666.1v20.3M160.47 596.5v20.3M163.35 645.8v20.3M166.23 567.5v20.3M169.12 657.4v20.3M172 599.4v20.3M174.89 669v20.3M177.77 605.2v20.3M180.65 657.4v20.3M183.54 721.2v20.3M186.42 599.4v20.3M189.31 622.6v20.3M192.19 663.2v20.3M195.07 657.4v20.3M197.96 564.6v20.3M200.84 671.9v20.3M203.73 628.4v20.3M206.61 599.4v20.3M209.49 657.4v20.3M212.38 602.3v20.3M215.26 619.7v20.3M218.15 634.2v20.3M221.03 663.2v20.3M223.91 637.1v20.3M226.8 645.8v20.3M229.68 619.7v20.3M232.57 593.6v20.3M235.45 622.6v20.3M238.33 605.2v20.3M241.22 683.5v20.3M244.1 590.7v20.3M246.99 625.5v20.3M249.87 596.5v20.3M252.75 611v20.3M255.64 605.2v20.3M258.52 576.2v20.3M261.41 674.8v20.3M264.29 663.2v20.3M267.17 680.6v20.3M270.06 637.1v20.3M272.94 599.4v20.3M275.83 660.3v20.3M278.71 602.3v20.3M281.59 625.5v20.3M284.48 663.2v20.3M287.36 648.7v20.3M290.25 593.6v20.3M293.13 550.1v20.3M296.01 663.2v20.3M298.9 686.4v20.3M301.78 671.9v20.3M304.67 593.6v20.3M307.55 605.2v20.3M310.43 582v20.3M313.32 596.5v20.3M316.2 648.7v20.3M319.09 587.8v20.3M321.97 654.5v20.3M324.85 593.6v20.3M327.74 613.9v20.3M330.62 663.2v20.3M333.51 602.3v20.3M336.39 654.5v20.3M339.27 651.6v20.3M342.16 599.4v20.3M345.04 587.8v20.3M347.93 663.2v20.3M350.81 605.2v20.3M353.69 692.2v20.3M356.58 599.4v20.3M359.46 637.1v20.3M362.35 709.6v20.3M365.23 625.5v20.3M368.11 619.7v20.3M371 593.6v20.3M373.88 642.9v20.3M376.77 648.7v20.3M379.65 628.4v20.3M382.53 608.1v20.3M385.42 622.6v20.3M388.3 599.4v20.3M391.19 631.3v20.3M394.07 686.4v20.3M396.95 584.9v20.3M399.84 622.6v20.3M402.72 616.8v20.3M405.61 619.7v20.3M408.49 663.2v20.3M411.37 596.5v20.3M414.26 680.6v20.3M417.14 625.5v20.3M420.03 596.5v20.3M422.91 663.2v20.3M425.79 584.9v20.3M428.68 619.7v20.3M431.56 567.5v20.3M434.45 599.4v20.3M437.33 666.1v20.3M440.21 582v20.3M443.1 651.6v20.3M445.98 613.9v20.3M448.87 663.2v20.3M451.75 686.4v20.3M454.63 642.9v20.3M457.52 590.7v20.3M460.4 640v20.3M463.29 605.2v20.3M466.17 692.2v20.3M469.05 605.2v20.3M471.94 654.5v20.3M474.82 622.6v20.3M477.71 645.8v20.3M480.59 611v20.3M483.47 599.4v20.3M486.36 671.9v20.3M489.24 622.6v20.3M492.13 579.1v20.3M495.01 625.5v20.3M497.89 593.6v20.3M500.78 634.2v20.3M503.66 570.4v20.3M506.55 555.9v20.3M509.43 671.9v20.3M512.31 593.6v20.3M515.2 663.2v20.3M518.08 616.8v20.3M520.97 724.1v20.3M523.85 657.4v20.3M526.73 611v20.3M529.62 648.7v20.3M532.5 593.6v20.3M535.39 558.8v20.3M538.27 628.4v20.3M541.15 622.6v20.3M544.04 584.9v20.3M546.92 654.5v20.3M549.81 605.2v20.3M552.69 651.6v20.3M555.57 605.2v20.3M558.46 671.9v20.3M561.34 628.4v20.3M564.23 616.8v20.3M567.11 613.9v20.3M569.99 593.6v20.3M572.88 651.6v20.3M575.76 616.8v20.3M578.65 648.7v20.3M581.53 593.6v20.3M584.41 654.5v20.3M587.3 692.2v20.3M590.18 640v20.3M593.07 698v20.3M595.95 637.1v20.3M598.83 593.6v20.3M601.72 680.6v20.3M604.6 605.2v20.3M607.49 593.6v20.3M610.37 663.2v20.3M613.25 599.4v20.3M616.14 660.3v20.3M619.02 596.5v20.3M621.91 663.2v20.3M624.79 680.6v20.3M627.67 663.2v20.3M630.56 660.3v20.3M633.44 689.3v20.3M636.33 642.9v20.3M639.21 593.6v20.3M642.09 567.5v20.3M644.98 625.5v20.3M647.86 587.8v20.3M650.75 596.5v20.3M653.63 512.4v20.3M656.51 657.4v20.3M659.4 700.9v20.3M662.28 663.2v20.3M665.17 602.3v20.3M668.05 686.4v20.3M670.93 622.6v20.3M673.82 579.1v20.3M676.7 671.9v20.3M679.59 596.5v20.3M682.47 613.9v20.3M685.35 605.2v20.3M688.24 611v20.3M691.12 698v20.3M694.01 613.9v20.3M696.89 605.2v20.3M699.77 695.1v20.3M702.66 619.7v20.3M705.54 663.2v20.3M708.43 619.7v20.3M711.31 663.2v20.3M714.19 593.6v20.3M717.08 677.7v20.3M719.96 698v20.3M722.85 593.6v20.3M725.73 599.4v20.3M728.61 608.1v20.3M731.5 593.6v20.3M734.38 570.4v20.3M737.27 660.3v20.3M740.15 605.2v20.3M743.03 671.9v20.3M745.92 613.9v20.3M748.8 663.2v20.3M751.69 616.8v20.3M754.57 642.9v20.3M757.45 593.6v20.3M760.34 645.8v20.3M763.22 602.3v20.3M766.11 628.4v20.3M768.99 611v20.3M771.87 651.6v20.3M774.76 625.5v20.3M777.64 593.6v20.3M780.53 596.5v20.3M783.41 593.6v20.3M786.29 570.4v20.3M789.18 654.5v20.3M792.06 628.4v20.3M794.95 715.4v20.3M797.83 611v20.3M800.71 602.3v20.3M803.6 677.7v20.3M806.48 619.7v20.3M809.37 570.4v20.3M812.25 660.3v20.3M815.13 599.4v20.3M818.02 622.6v20.3M820.9 605.2v20.3M823.79 666.1v20.3M826.67 593.6v20.3M829.55 561.7v20.3M832.44 663.2v20.3M835.32 599.4v20.3M838.21 724.1v20.3M841.09 616.8v20.3M843.97 593.6v20.3M846.86 663.2v20.3M849.74 576.2v20.3M852.63 695.1v20.3M855.51 593.6v20.3M858.39 674.8v20.3M861.28 611v20.3M864.16 663.2v20.3M867.05 550.1v20.3M869.93 663.2v20.3M872.81 608.1v20.3M875.7 593.6v20.3M878.58 683.5v20.3M881.47 625.5v20.3M884.35 619.7v20.3M887.23 651.6v20.3M890.12 602.3v20.3M893 616.8v20.3M895.89 689.3v20.3M898.77 619.7v20.3M901.65 570.4v20.3M904.54 642.9v20.3M907.42 634.2v20.3M910.31 593.6v20.3M913.19 663.2v20.3M916.07 648.7v20.3M918.96 599.4v20.3M921.84 605.2v20.3M924.73 648.7v20.3M927.61 660.3v20.3M930.49 640v20.3M933.38 645.8v20.3M936.26 567.5v20.3M939.15 619.7v20.3M942.03 634.2v20.3M944.91 640v20.3M947.8 611v20.3M950.68 698v20.3M953.57 622.6v20.3M956.45 637.1v20.3M959.33 660.3v20.3M962.22 599.4v20.3M965.1 602.3v20.3M967.99 695.1v20.3M970.87 593.6v20.3M973.75 561.7v20.3M976.64 634.2v20.3M979.52 706.7v20.3M982.41 729.9v20.3M985.29 605.2v20.3M988.17 671.9v20.3M991.06 605.2v20.3M993.94 663.2v20.3M996.83 663.2v20.3M999.71 642.9v20.3M1002.59 576.2v20.3M1005.48 677.7v20.3M1008.36 616.8v20.3M1011.25 631.3v20.3M1014.13 628.4v20.3M1017.01 587.8v20.3M1019.9 596.5v20.3M1022.78 700.9v20.3M1025.67 611v20.3M1028.55 645.8v20.3M1031.43 698v20.3M1034.32 625.5v20.3M1037.2 599.4v20.3M1040.09 663.2v20.3M1042.97 576.2v20.3M1045.85 587.8v20.3M1048.74 660.3v20.3M1051.62 625.5v20.3M1054.51 680.6v20.3M1057.39 663.2v20.3M1060.27 698v20.3M1063.16 648.7v20.3M1066.04 631.3v20.3M1068.93 616.8v20.3M1071.81 671.9v20.3M1074.69 625.5v20.3M1077.58 692.2v20.3M1080.46 660.3v20.3M1083.35 640v20.3M1086.23 692.2v20.3M1089.11 637.1v20.3M1092 663.2v20.3M1094.88 640v20.3M1097.77 602.3v20.3M1100.65 663.2v20.3M1103.53 698v20.3M1106.42 637.1v20.3M1109.3 645.8v20.3M1112.19 663.2v20.3M1115.07 613.9v20.3M1117.95 602.3v20.3M1120.84 680.6v20.3M1123.72 625.5v20.3M1126.61 616.8v20.3M1129.49 611v20.3M1132.37 663.2v20.3M1135.26 596.5v20.3M1138.14 631.3v20.3M1141.03 616.8v20.3M1143.91 625.5v20.3M1146.79 657.4v20.3M1149.68 613.9v20.3M1152.56 561.7v20.3M1155.45 654.5v20.3M1158.33 703.8v20.3M1161.21 625.5v20.3M1164.1 637.1v20.3M1166.98 608.1v20.3M1169.87 602.3v20.3M1172.75 669v20.3M1175.63 608.1v20.3M1178.52 622.6v20.3M1181.4 637.1v20.3M1184.29 671.9v20.3M1187.17 657.4v20.3M1190.05 593.6v20.3M1192.94 640v20.3M1195.82 567.5v20.3M1198.71 651.6v20.3M1201.59 634.2v20.3M1204.47 593.6v20.3M1207.36 663.2v20.3M1210.24 683.5v20.3M1213.13 593.6v20.3M1216.01 660.3v20.3M1218.89 613.9v20.3M1221.78 608.1v20.3M1224.66 622.6v20.3M1227.55 634.2v20.3M1230.43 634.2v20.3M1233.31 654.5v20.3M1236.2 602.3v20.3M1239.08 648.7v20.3M1241.97 631.3v20.3M1244.85 602.3v20.3M1247.73 631.3v20.3M1250.62 674.8v20.3M1253.5 631.3v20.3M1256.39 666.1v20.3M1259.27 628.4v20.3M1262.15 654.5v20.3M1265.04 669v20.3M1267.92 613.9v20.3M1270.81 593.6v20.3M1273.69 602.3v20.3M1276.57 587.8v20.3M1279.46 651.6v20.3M1282.34 616.8v20.3M1285.23 619.7v20.3M1288.11 663.2v20.3M1290.99 628.4v20.3M1293.88 642.9v20.3M1296.76 634.2v20.3M1299.65 599.4v20.3M1302.53 651.6v20.3M1305.41 666.1v20.3M1308.3 619.7v20.3M1311.18 619.7v20.3M1314.07 541.4v20.3M1316.95 579.1v20.3M1319.83 663.2v20.3M1322.72 608.1v20.3M1325.6 596.5v20.3M1328.49 692.2v20.3M1331.37 605.2v20.3M1334.25 642.9v20.3M1337.14 573.3v20.3M1340.02 648.7v20.3M1342.91 599.4v20.3M1345.79 642.9v20.3M1348.67 599.4v20.3M1351.56 599.4v20.3M1354.44 593.6v20.3M1357.33 619.7v20.3M1360.21 605.2v20.3M1363.09 544.3v20.3M1365.98 634.2v20.3M1368.86 582v20.3M1371.75 631.3v20.3M1374.63 622.6v20.3M1377.51 671.9v20.3M1380.4 611v20.3M1383.28 663.2v20.3M1386.17 608.1v20.3M1389.05 616.8v20.3M1391.93 651.6v20.3M1394.82 637.1v20.3M1397.7 640v20.3M1400.59 689.3v20.3M1403.47 619.7v20.3M1406.35 602.3v20.3M1409.24 576.2v20.3M1412.12 669v20.3M1415.01 602.3v20.3M1417.89 596.5v20.3M1420.77 611v20.3M1423.66 599.4v20.3M1426.54 631.3v20.3M1429.43 683.5v20.3M1432.31 593.6v20.3M1435.19 570.4v20.3M1438.08 640v20.3M1440.96 700.9v20.3M1443.85 663.2v20.3M1446.73 605.2v20.3M1449.61 689.3v20.3M1452.5 608.1v20.3M1455.38 616.8v20.3M1458.27 663.2v20.3M1461.15 608.1v20.3M1464.03 637.1v20.3M1466.92 613.9v20.3M1469.8 654.5v20.3M1472.69 619.7v20.3M1475.57 640v20.3M1478.45 593.6v20.3M1481.34 660.3v20.3M1484.22 570.4v20.3M1487.11 671.9v20.3M1489.99 648.7v20.3M1492.87 712.5v20.3M1495.76 628.4v20.3M1498.64 735.7v20.3M1501.53 616.8v20.3M1504.41 628.4v20.3M1507.29 625.5v20.3M1510.18 645.8v20.3M1513.06 613.9v20.3M1515.95 631.3v20.3M1518.83 608.1v20.3M1521.71 634.2v20.3M1524.6 602.3v20.3M1527.48 645.8v20.3M1530.37 561.7v20.3M1533.25 634.2v20.3M1536.13 599.4v20.3M1539.02 584.9v20.3M1541.9 628.4v20.3M1544.79 686.4v20.3M1547.67 587.8v20.3M1550.55 715.4v20.3M1553.44 680.6v20.3M1556.32 611v20.3M1559.21 663.2v20.3M1562.09 561.7v20.3M1564.97 593.6v20.3M1567.86 631.3v20.3M1570.74 671.9v20.3M1573.63 724.1v20.3M1576.51 631.3v20.3M1579.39 587.8v20.3M1582.28 637.1v20.3M1585.16 619.7v20.3M1588.05 680.6v20.3M1590.93 576.2v20.3M1593.81 616.8v20.3M1596.7 625.5v20.3M1599.58 666.1v20.3M1602.47 611v20.3M1605.35 590.7v20.3M1608.23 599.4v20.3M1611.12 645.8v20.3M1614 593.6v20.3M1616.89 640v20.3M1619.77 593.6v20.3M1622.65 558.8v20.3M1625.54 608.1v20.3M1628.42 640v20.3M1631.31 669v20.3M1634.19 608.1v20.3M1637.07 674.8v20.3M1639.96 608.1v20.3M1642.84 593.6v20.3M1645.73 663.2v20.3M1648.61 593.6v20.3M1651.49 677.7v20.3M1654.38 602.3v20.3M1657.26 599.4v20.3M1660.15 660.3v20.3M1663.03 593.6v20.3M1665.91 669v20.3M1668.8 602.3v20.3M1671.68 573.3v20.3M1674.57 654.5v20.3M1677.45 596.5v20.3M1680.33 587.8v20.3M1683.22 648.7v20.3M1686.1 648.7v20.3M1688.99 660.3v20.3M1691.87 608.1v20.3M1694.75 576.2v20.3M1697.64 640v20.3M1700.52 593.6v20.3M1703.41 582v20.3M1706.29 642.9v20.3M1709.17 622.6v20.3M1712.06 628.4v20.3M1714.94 593.6v20.3M1717.83 631.3v20.3M1720.71 625.5v20.3M1723.59 666.1v20.3M1726.48 654.5v20.3M1729.36 535.6v20.3M1732.25 611v20.3M1735.13 640v20.3M1738.01 576.2v20.3M1740.9 663.2v20.3M1743.78 605.2v20.3M1746.67 680.6v20.3M1749.55 631.3v20.3M1752.43 599.4v20.3M1755.32 657.4v20.3M1758.2 628.4v20.3M1761.09 529.8v20.3M1763.97 567.5v20.3M1766.85 593.6v20.3M1769.74 631.3v20.3M1772.62 602.3v20.3M1775.51 628.4v20.3M1778.39 590.7v20.3M1781.27 648.7v20.3M1784.16 640v20.3M1787.04 608.1v20.3M1789.93 674.8v20.3M1792.81 637.1v20.3M1795.69 677.7v20.3M1798.58 616.8v20.3M1801.46 616.8v20.3M1804.35 602.3v20.3M1807.23 634.2v20.3M1810.11 622.6v20.3M1813 692.2v20.3M1815.88 648.7v20.3M1818.77 625.5v20.3M1821.65 698v20.3M1824.53 605.2v20.3M1827.42 582v20.3M1830.3 645.8v20.3M1833.19 671.9v20.3M1836.07 593.6v20.3M1838.95 611v20.3M1841.84 637.1v20.3M1844.72 593.6v20.3M1847.61 579.1v20.3M1850.49 587.8v20.3M1853.37 663.2v20.3M1856.26 715.4v20.3M1859.14 651.6v20.3M1862.03 654.5v20.3M1864.91 625.5v20.3M1867.79 663.2v20.3M1870.68 593.6v20.3M1873.56 622.6v20.3M1876.45 735.7v20.3M1879.33 593.6v20.3M1882.21 706.7v20.3M1885.1 553v20.3M1887.98 663.2v20.3M1890.87 631.3v20.3M1893.75 663.2v20.3M1896.63 686.4v20.3M1899.52 593.6v20.3M1902.4 579.1v20.3M1905.29 579.1v20.3M1908.17 671.9v20.3M1911.05 593.6v20.3M1913.94 550.1v20.3M1916.82 663.2v20.3M1919.71 608.1v20.3M1922.59 651.6v20.3M1925.47 709.6v20.3M1928.36 558.8v20.3M1931.24 587.8v20.3M1934.13 622.6v20.3M1937.01 654.5v20.3M1939.89 663.2v20.3M1942.78 692.2v20.3M1945.66 677.7v20.3M1948.55 576.2v20.3M1951.43 660.3v20.3M1954.31 628.4v20.3M1957.2 593.6v20.3M1960.08 561.7v20.3M1962.97 648.7v20.3M1965.85 645.8v20.3M1968.73 677.7v20.3M1971.62 613.9v20.3M1974.5 599.4v20.3M1977.39 686.4v20.3M1980.27 631.3v20.3M1983.15 602.3v20.3M1986.04 619.7v20.3M1988.92 654.5v20.3M1991.81 550.1v20.3M1994.69 619.7v20.3M1997.57 660.3v20.3M2000.46 573.3v20.3M2003.34 605.2v20.3M2006.23 634.2v20.3M2009.11 622.6v20.3M2011.99 602.3v20.3M2014.88 674.8v20.3M2017.76 582v20.3M2020.65 671.9v20.3M2023.53 593.6v20.3M2026.41 573.3v20.3M2029.3 576.2v20.3M2032.18 645.8v20.3M2035.07 593.6v20.3M2037.95 663.2v20.3M2040.83 573.3v20.3M2043.72 663.2v20.3M2046.6 674.8v20.3M2049.49 619.7v20.3M2052.37 555.9v20.3M2055.25 657.4v20.3M2058.14 634.2v20.3M2061.02 602.3v20.3M2063.91 634.2v20.3M2066.79 686.4v20.3M2069.67 651.6v20.3M2072.56 570.4v20.3M2075.44 579.1v20.3M2078.33 611v20.3M2081.21 547.2v20.3M2084.09 576.2v20.3M2086.98 637.1v20.3M2089.86 616.8v20.3M2092.75 663.2v20.3M2095.63 558.8v20.3M2098.51 593.6v20.3M2101.4 680.6v20.3M2104.28 689.3v20.3M2107.17 599.4v20.3M2110.05 663.2v20.3M2112.93 593.6v20.3M2115.82 663.2v20.3M2118.7 689.3v20.3M2121.59 576.2v20.3M2124.47 663.2v20.3M2127.35 561.7v20.3M2130.24 642.9v20.3M2133.12 561.7v20.3M2136.01 657.4v20.3M2138.89 570.4v20.3M2141.77 613.9v20.3M2144.66 631.3v20.3M2147.54 593.6v20.3M2150.43 631.3v20.3M2153.31 616.8v20.3M2156.19 573.3v20.3M2159.08 628.4v20.3M2161.96 648.7v20.3M2164.85 605.2v20.3M2167.73 579.1v20.3M2170.61 608.1v20.3M2173.5 648.7v20.3M2176.38 642.9v20.3M2179.27 596.5v20.3M2182.15 663.2v20.3M2185.03 599.4v20.3M2187.92 660.3v20.3M2190.8 625.5v20.3M2193.69 680.6v20.3M2196.57 605.2v20.3M2199.45 724.1v20.3M2202.34 625.5v20.3M2205.22 663.2v20.3M2208.11 611v20.3M2210.99 611v20.3M2213.87 602.3v20.3M2216.76 657.4v20.3M2219.64 715.4v20.3M2222.53 593.6v20.3M2225.41 663.2v20.3M2228.29 555.9v20.3M2231.18 642.9v20.3M2234.06 608.1v20.3M2236.95 544.3v20.3M2239.83 669v20.3M2242.71 660.3v20.3M2245.6 576.2v20.3M2248.48 663.2v20.3M2251.37 680.6v20.3M2254.25 605.2v20.3M2257.13 576.2v20.3M2260.02 631.3v20.3M2262.9 587.8v20.3M2265.79 590.7v20.3M2268.67 619.7v20.3M2271.55 622.6v20.3M2274.44 651.6v20.3M2277.32 596.5v20.3M2280.21 645.8v20.3M2283.09 657.4v20.3M2285.97 628.4v20.3M2288.86 642.9v20.3M2291.74 579.1v20.3M2294.63 558.8v20.3M2297.51 640v20.3M2300.39 593.6v20.3M2303.28 648.7v20.3M2306.16 602.3v20.3M2309.05 587.8v20.3M2311.93 645.8v20.3M2314.81 544.3v20.3M2317.7 654.5v20.3M2320.58 570.4v20.3M2323.47 593.6v20.3M2326.35 553v20.3M2329.23 651.6v20.3M2332.12 683.5v20.3M2335 547.2v20.3M2337.89 576.2v20.3M2340.77 611v20.3M2343.65 663.2v20.3M2346.54 547.2v20.3M2349.42 561.7v20.3M2352.31 593.6v20.3M2355.19 660.3v20.3M2358.07 622.6v20.3M2360.96 735.7v20.3M2363.84 605.2v20.3M2366.73 579.1v20.3M2369.61 611v20.3M2372.49 671.9v20.3M2375.38 541.4v20.3M2378.26 709.6v20.3M2381.15 660.3v20.3M2384.03 648.7v20.3M2386.91 579.1v20.3"/>
<path class="h" d="M121.53 612.45h20.19M124.42 667.55h20.19M127.3 606.65h20.19M130.18 667.55h20.19M133.07 682.05h20.19M135.95 653.05h20.19M138.84 597.95h20.19M141.72 690.75h20.19M144.6 624.05h20.19M147.49 676.25h20.19M150.37 606.65h20.19M153.26 655.95h20.19M156.14 577.65h20.19M159.02 667.55h20.19M161.91 609.55h20.19M164.79 679.15h20.19M167.68 615.35h20.19M170.56 667.55h20.19M173.44 731.35h20.19M176.33 609.55h20.19M179.21 632.75h20.19M182.1 673.35h20.19M184.98 667.55h20.19M187.86 574.75h20.19M190.75 682.05h20.19M193.63 638.55h20.19M196.52 609.55h20.19M199.4 667.55h20.19M202.28 612.45h20.19M205.17 629.85h20.19M208.05 644.35h20.19M210.94 673.35h20.19M213.82 647.25h20.19M216.7 655.95h20.19M219.59 629.85h20.19M222.47 603.75h20.19M225.36 632.75h20.19M228.24 615.35h20.19M231.12 693.65h20.19M234.01 600.85h20.19M236.89 635.65h20.19M239.78 606.65h20.19M242.66 621.15h20.19M245.54 615.35h20.19M248.43 586.35h20.19M251.31 684.95h20.19M254.2 673.35h20.19M257.08 690.75h20.19M259.96 647.25h20.19M262.85 609.55h20.19M265.73 670.45h20.19M268.62 612.45h20.19M271.5 635.65h20.19M274.38 673.35h20.19M277.27 658.85h20.19M280.15 603.75h20.19M283.04 560.25h20.19M285.92 673.35h20.19M288.8 696.55h20.19M291.69 682.05h20.19M294.57 603.75h20.19M297.46 615.35h20.19M300.34 592.15h20.19M303.22 606.65h20.19M306.11 658.85h20.19M308.99 597.95h20.19M311.88 664.65h20.19M314.76 603.75h20.19M317.64 624.05h20.19M320.53 673.35h20.19M323.41 612.45h20.19M326.3 664.65h20.19M329.18 661.75h20.19M332.06 609.55h20.19M334.95 597.95h20.19M337.83 673.35h20.19M340.72 615.35h20.19M343.6 702.35h20.19M346.48 609.55h20.19M349.37 647.25h20.19M352.25 719.75h20.19M355.14 635.65h20.19M358.02 629.85h20.19M360.9 603.75h20.19M363.79 653.05h20.19M366.67 658.85h20.19M369.56 638.55h20.19M372.44 618.25h20.19M375.32 632.75h20.19M378.21 609.55h20.19M381.09 641.45h20.19M383.98 696.55h20.19M386.86 595.05h20.19M389.74 632.75h20.19M392.63 626.95h20.19M395.51 629.85h20.19M398.4 673.35h20.19M401.28 606.65h20.19M404.16 690.75h20.19M407.05 635.65h20.19M409.93 606.65h20.19M412.82 673.35h20.19M415.7 595.05h20.19M418.58 629.85h20.19M421.47 577.65h20.19M424.35 609.55h20.19M427.24 676.25h20.19M430.12 592.15h20.19M433 661.75h20.19M435.89 624.05h20.19M438.77 673.35h20.19M441.66 696.55h20.19M444.54 653.05h20.19M447.42 600.85h20.19M450.31 650.15h20.19M453.19 615.35h20.19M456.08 702.35h20.19M458.96 615.35h20.19M461.84 664.65h20.19M464.73 632.75h20.19M467.61 655.95h20.19M470.5 621.15h20.19M473.38 609.55h20.19M476.26 682.05h20.19M479.15 632.75h20.19M482.03 589.25h20.19M484.92 635.65h20.19M487.8 603.75h20.19M490.68 644.35h20.19M493.57 580.55h20.19M496.45 566.05h20.19M499.34 682.05h20.19M502.22 603.75h20.19M505.1 673.35h20.19M507.99 626.95h20.19M510.87 734.25h20.19M513.76 667.55h20.19M516.64 621.15h20.19M519.52 658.85h20.19M522.41 603.75h20.19M525.29 568.95h20.19M528.18 638.55h20.19M531.06 632.75h20.19M533.94 595.05h20.19M536.83 664.65h20.19M539.71 615.35h20.19M542.6 661.75h20.19M545.48 615.35h20.19M548.36 682.05h20.19M551.25 638.55h20.19M554.13 626.95h20.19M557.02 624.05h20.19M559.9 603.75h20.19M562.78 661.75h20.19M565.67 626.95h20.19M568.55 658.85h20.19M571.44 603.75h20.19M574.32 664.65h20.19M577.2 702.35h20.19M580.09 650.15h20.19M582.97 708.15h20.19M585.86 647.25h20.19M588.74 603.75h20.19M591.62 690.75h20.19M594.51 615.35h20.19M597.39 603.75h20.19M600.28 673.35h20.19M603.16 609.55h20.19M606.04 670.45h20.19M608.93 606.65h20.19M611.81 673.35h20.19M614.7 690.75h20.19M617.58 673.35h20.19M620.46 670.45h20.19M623.35 699.45h20.19M626.23 653.05h20.19M629.12 603.75h20.19M632 577.65h20.19M634.88 635.65h20.19M637.77 597.95h20.19M640.65 606.65h20.19M643.54 522.55h20.19M646.42 667.55h20.19M649.3 711.05h20.19M652.19 673.35h20.19M655.07 612.45h20.19M657.96 696.55h20.19M660.84 632.75h20.19M663.72 589.25h20.19M666.61 682.05h20.19M669.49 606.65h20.19M672.38 624.05h20.19M675.26 615.35h20.19M678.14 621.15h20.19M681.03 708.15h20.19M683.91 624.05h20.19M686.8 615.35h20.19M689.68 705.25h20.19M692.56 629.85h20.19M695.45 673.35h20.19M698.33 629.85h20.19M701.22 673.35h20.19M704.1 603.75h20.19M706.98 687.85h20.19M709.87 708.15h20.19M712.75 603.75h20.19M715.64 609.55h20.19M718.52 618.25h20.19M721.4 603.75h20.19M724.29 580.55h20.19M727.17 670.45h20.19M730.06 615.35h20.19M732.94 682.05h20.19M735.82 624.05h20.19M738.71 673.35h20.19M741.59 626.95h20.19M744.48 653.05h20.19M747.36 603.75h20.19M750.24 655.95h20.19M753.13 612.45h20.19M756.01 638.55h20.19M758.9 621.15h20.19M761.78 661.75h20.19M764.66 635.65h20.19M767.55 603.75h20.19M770.43 606.65h20.19M773.32 603.75h20.19M776.2 580.55h20.19M779.08 664.65h20.19M781.97 638.55h20.19M784.85 725.55h20.19M787.74 621.15h20.19M790.62 612.45h20.19M793.5 687.85h20.19M796.39 629.85h20.19M799.27 580.55h20.19M802.16 670.45h20.19M805.04 609.55h20.19M807.92 632.75h20.19M810.81 615.35h20.19M813.69 676.25h20.19M816.58 603.75h20.19M819.46 571.85h20.19M822.34 673.35h20.19M825.23 609.55h20.19M828.11 734.25h20.19M831 626.95h20.19M833.88 603.75h20.19M836.76 673.35h20.19M839.65 586.35h20.19M842.53 705.25h20.19M845.42 603.75h20.19M848.3 684.95h20.19M851.18 621.15h20.19M854.07 673.35h20.19M856.95 560.25h20.19M859.84 673.35h20.19M862.72 618.25h20.19M865.6 603.75h20.19M868.49 693.65h20.19M871.37 635.65h20.19M874.26 629.85h20.19M877.14 661.75h20.19M880.02 612.45h20.19M882.91 626.95h20.19M885.79 699.45h20.19M888.68 629.85h20.19M891.56 580.55h20.19M894.44 653.05h20.19M897.33 644.35h20.19M900.21 603.75h20.19M903.1 673.35h20.19M905.98 658.85h20.19M908.86 609.55h20.19M911.75 615.35h20.19M914.63 658.85h20.19M917.52 670.45h20.19M920.4 650.15h20.19M923.28 655.95h20.19M926.17 577.65h20.19M929.05 629.85h20.19M931.94 644.35h20.19M934.82 650.15h20.19M937.7 621.15h20.19M940.59 708.15h20.19M943.47 632.75h20.19M946.36 647.25h20.19M949.24 670.45h20.19M952.12 609.55h20.19M955.01 612.45h20.19M957.89 705.25h20.19M960.78 603.75h20.19M963.66 571.85h20.19M966.54 644.35h20.19M969.43 716.85h20.19M972.31 740.05h20.19M975.2 615.35h20.19M978.08 682.05h20.19M980.96 615.35h20.19M983.85 673.35h20.19M986.73 673.35h20.19M989.62 653.05h20.19M992.5 586.35h20.19M995.38 687.85h20.19M998.27 626.95h20.19M1001.15 641.45h20.19M1004.04 638.55h20.19M1006.92 597.95h20.19M1009.8 606.65h20.19M1012.69 711.05h20.19M1015.57 621.15h20.19M1018.46 655.95h20.19M1021.34 708.15h20.19M1024.22 635.65h20.19M1027.11 609.55h20.19M1029.99 673.35h20.19M1032.88 586.35h20.19M1035.76 597.95h20.19M1038.64 670.45h20.19M1041.53 635.65h20.19M1044.41 690.75h20.19M1047.3 673.35h20.19M1050.18 708.15h20.19M1053.06 658.85h20.19M1055.95 641.45h20.19M1058.83 626.95h20.19M1061.72 682.05h20.19M1064.6 635.65h20.19M1067.48 702.35h20.19M1070.37 670.45h20.19M1073.25 650.15h20.19M1076.14 702.35h20.19M1079.02 647.25h20.19M1081.9 673.35h20.19M1084.79 650.15h20.19M1087.67 612.45h20.19M1090.56 673.35h20.19M1093.44 708.15h20.19M1096.32 647.25h20.19M1099.21 655.95h20.19M1102.09 673.35h20.19M1104.98 624.05h20.19M1107.86 612.45h20.19M1110.74 690.75h20.19M1113.63 635.65h20.19M1116.51 626.95h20.19M1119.4 621.15h20.19M1122.28 673.35h20.19M1125.16 606.65h20.19M1128.05 641.45h20.19M1130.93 626.95h20.19M1133.82 635.65h20.19M1136.7 667.55h20.19M1139.58 624.05h20.19M1142.47 571.85h20.19M1145.35 664.65h20.19M1148.24 713.95h20.19M1151.12 635.65h20.19M1154 647.25h20.19M1156.89 618.25h20.19M1159.77 612.45h20.19M1162.66 679.15h20.19M1165.54 618.25h20.19M1168.42 632.75h20.19M1171.31 647.25h20.19M1174.19 682.05h20.19M1177.08 667.55h20.19M1179.96 603.75h20.19M1182.84 650.15h20.19M1185.73 577.65h20.19M1188.61 661.75h20.19M1191.5 644.35h20.19M1194.38 603.75h20.19M1197.26 673.35h20.19M1200.15 693.65h20.19M1203.03 603.75h20.19M1205.92 670.45h20.19M1208.8 624.05h20.19M1211.68 618.25h20.19M1214.57 632.75h20.19M1217.45 644.35h20.19M1220.34 644.35h20.19M1223.22 664.65h20.19M1226.1 612.45h20.19M1228.99 658.85h20.19M1231.87 641.45h20.19M1234.76 612.45h20.19M1237.64 641.45h20.19M1240.52 684.95h20.19M1243.41 641.45h20.19M1246.29 676.25h20.19M1249.18 638.55h20.19M1252.06 664.65h20.19M1254.94 679.15h20.19M1257.83 624.05h20.19M1260.71 603.75h20.19M1263.6 612.45h20.19M1266.48 597.95h20.19M1269.36 661.75h20.19M1272.25 626.95h20.19M1275.13 629.85h20.19M1278.02 673.35h20.19M1280.9 638.55h20.19M1283.78 653.05h20.19M1286.67 644.35h20.19M1289.55 609.55h20.19M1292.44 661.75h20.19M1295.32 676.25h20.19M1298.2 629.85h20.19M1301.09 629.85h20.19M1303.97 551.55h20.19M1306.86 589.25h20.19M1309.74 673.35h20.19M1312.62 618.25h20.19M1315.51 606.65h20.19M1318.39 702.35h20.19M1321.28 615.35h20.19M1324.16 653.05h20.19M1327.04 583.45h20.19M1329.93 658.85h20.19M1332.81 609.55h20.19M1335.7 653.05h20.19M1338.58 609.55h20.19M1341.46 609.55h20.19M1344.35 603.75h20.19M1347.23 629.85h20.19M1350.12 615.35h20.19M1353 554.45h20.19M1355.88 644.35h20.19M1358.77 592.15h20.19M1361.65 641.45h20.19M1364.54 632.75h20.19M1367.42 682.05h20.19M1370.3 621.15h20.19M1373.19 673.35h20.19M1376.07 618.25h20.19M1378.96 626.95h20.19M1381.84 661.75h20.19M1384.72 647.25h20.19M1387.61 650.15h20.19M1390.49 699.45h20.19M1393.38 629.85h20.19M1396.26 612.45h20.19M1399.14 586.35h20.19M1402.03 679.15h20.19M1404.91 612.45h20.19M1407.8 606.65h20.19M1410.68 621.15h20.19M1413.56 609.55h20.19M1416.45 641.45h20.19M1419.33 693.65h20.19M1422.22 603.75h20.19M1425.1 580.55h20.19M1427.98 650.15h20.19M1430.87 711.05h20.19M1433.75 673.35h20.19M1436.64 615.35h20.19M1439.52 699.45h20.19M1442.4 618.25h20.19M1445.29 626.95h20.19M1448.17 673.35h20.19M1451.06 618.25h20.19M1453.94 647.25h20.19M1456.82 624.05h20.19M1459.71 664.65h20.19M1462.59 629.85h20.19M1465.48 650.15h20.19M1468.36 603.75h20.19M1471.24 670.45h20.19M1474.13 580.55h20.19M1477.01 682.05h20.19M1479.9 658.85h20.19M1482.78 722.65h20.19M1485.66 638.55h20.19M1488.55 745.85h20.19M1491.43 626.95h20.19M1494.32 638.55h20.19M1497.2 635.65h20.19M1500.08 655.95h20.19M1502.97 624.05h20.19M1505.85 641.45h20.19M1508.74 618.25h20.19M1511.62 644.35h20.19M1514.5 612.45h20.19M1517.39 655.95h20.19M1520.27 571.85h20.19M1523.16 644.35h20.19M1526.04 609.55h20.19M1528.92 595.05h20.19M1531.81 638.55h20.19M1534.69 696.55h20.19M1537.58 597.95h20.19M1540.46 725.55h20.19M1543.34 690.75h20.19M1546.23 621.15h20.19M1549.11 673.35h20.19M1552 571.85h20.19M1554.88 603.75h20.19M1557.76 641.45h20.19M1560.65 682.05h20.19M1563.53 734.25h20.19M1566.42 641.45h20.19M1569.3 597.95h20.19M1572.18 647.25h20.19M1575.07 629.85h20.19M1577.95 690.75h20.19M1580.84 586.35h20.19M1583.72 626.95h20.19M1586.6 635.65h20.19M1589.49 676.25h20.19M1592.37 621.15h20.19M1595.26 600.85h20.19M1598.14 609.55h20.19M1601.02 655.95h20.19M1603.91 603.75h20.19M1606.79 650.15h20.19M1609.68 603.75h20.19M1612.56 568.95h20.19M1615.44 618.25h20.19M1618.33 650.15h20.19M1621.21 679.15h20.19M1624.1 618.25h20.19M1626.98 684.95h20.19M1629.86 618.25h20.19M1632.75 603.75h20.19M1635.63 673.35h20.19M1638.52 603.75h20.19M1641.4 687.85h20.19M1644.28 612.45h20.19M1647.17 609.55h20.19M1650.05 670.45h20.19M1652.94 603.75h20.19M1655.82 679.15h20.19M1658.7 612.45h20.19M1661.59 583.45h20.19M1664.47 664.65h20.19M1667.36 606.65h20.19M1670.24 597.95h20.19M1673.12 658.85h20.19M1676.01 658.85h20.19M1678.89 670.45h20.19M1681.78 618.25h20.19M1684.66 586.35h20.19M1687.54 650.15h20.19M1690.43 603.75h20.19M1693.31 592.15h20.19M1696.2 653.05h20.19M1699.08 632.75h20.19M1701.96 638.55h20.19M1704.85 603.75h20.19M1707.73 641.45h20.19M1710.62 635.65h20.19M1713.5 676.25h20.19M1716.38 664.65h20.19M1719.27 545.75h20.19M1722.15 621.15h20.19M1725.04 650.15h20.19M1727.92 586.35h20.19M1730.8 673.35h20.19M1733.69 615.35h20.19M1736.57 690.75h20.19M1739.46 641.45h20.19M1742.34 609.55h20.19M1745.22 667.55h20.19M1748.11 638.55h20.19M1750.99 539.95h20.19M1753.88 577.65h20.19M1756.76 603.75h20.19M1759.64 641.45h20.19M1762.53 612.45h20.19M1765.41 638.55h20.19M1768.3 600.85h20.19M1771.18 658.85h20.19M1774.06 650.15h20.19M1776.95 618.25h20.19M1779.83 684.95h20.19M1782.72 647.25h20.19M1785.6 687.85h20.19M1788.48 626.95h20.19M1791.37 626.95h20.19M1794.25 612.45h20.19M1797.14 644.35h20.19M1800.02 632.75h20.19M1802.9 702.35h20.19M1805.79 658.85h20.19M1808.67 635.65h20.19M1811.56 708.15h20.19M1814.44 615.35h20.19M1817.32 592.15h20.19M1820.21 655.95h20.19M1823.09 682.05h20.19M1825.98 603.75h20.19M1828.86 621.15h20.19M1831.74 647.25h20.19M1834.63 603.75h20.19M1837.51 589.25h20.19M1840.4 597.95h20.19M1843.28 673.35h20.19M1846.16 725.55h20.19M1849.05 661.75h20.19M1851.93 664.65h20.19M1854.82 635.65h20.19M1857.7 673.35h20.19M1860.58 603.75h20.19M1863.47 632.75h20.19M1866.35 745.85h20.19M1869.24 603.75h20.19M1872.12 716.85h20.19M1875 563.15h20.19M1877.89 673.35h20.19M1880.77 641.45h20.19M1883.66 673.35h20.19M1886.54 696.55h20.19M1889.42 603.75h20.19M1892.31 589.25h20.19M1895.19 589.25h20.19M1898.08 682.05h20.19M1900.96 603.75h20.19M1903.84 560.25h20.19M1906.73 673.35h20.19M1909.61 618.25h20.19M1912.5 661.75h20.19M1915.38 719.75h20.19M1918.26 568.95h20.19M1921.15 597.95h20.19M1924.03 632.75h20.19M1926.92 664.65h20.19M1929.8 673.35h20.19M1932.68 702.35h20.19M1935.57 687.85h20.19M1938.45 586.35h20.19M1941.34 670.45h20.19M1944.22 638.55h20.19M1947.1 603.75h20.19M1949.99 571.85h20.19M1952.87 658.85h20.19M1955.76 655.95h20.19M1958.64 687.85h20.19M1961.52 624.05h20.19M1964.41 609.55h20.19M1967.29 696.55h20.19M1970.18 641.45h20.19M1973.06 612.45h20.19M1975.94 629.85h20.19M1978.83 664.65h20.19M1981.71 560.25h20.19M1984.6 629.85h20.19M1987.48 670.45h20.19M1990.36 583.45h20.19M1993.25 615.35h20.19M1996.13 644.35h20.19M1999.02 632.75h20.19M2001.9 612.45h20.19M2004.78 684.95h20.19M2007.67 592.15h20.19M2010.55 682.05h20.19M2013.44 603.75h20.19M2016.32 583.45h20.19M2019.2 586.35h20.19M2022.09 655.95h20.19M2024.97 603.75h20.19M2027.86 673.35h20.19M2030.74 583.45h20.19M2033.62 673.35h20.19M2036.51 684.95h20.19M2039.39 629.85h20.19M2042.28 566.05h20.19M2045.16 667.55h20.19M2048.04 644.35h20.19M2050.93 612.45h20.19M2053.81 644.35h20.19M2056.7 696.55h20.19M2059.58 661.75h20.19M2062.46 580.55h20.19M2065.35 589.25h20.19M2068.23 621.15h20.19M2071.12 557.35h20.19M2074 586.35h20.19M2076.88 647.25h20.19M2079.77 626.95h20.19M2082.65 673.35h20.19M2085.54 568.95h20.19M2088.42 603.75h20.19M2091.3 690.75h20.19M2094.19 699.45h20.19M2097.07 609.55h20.19M2099.96 673.35h20.19M2102.84 603.75h20.19M2105.72 673.35h20.19M2108.61 699.45h20.19M2111.49 586.35h20.19M2114.38 673.35h20.19M2117.26 571.85h20.19M2120.14 653.05h20.19M2123.03 571.85h20.19M2125.91 667.55h20.19M2128.8 580.55h20.19M2131.68 624.05h20.19M2134.56 641.45h20.19M2137.45 603.75h20.19M2140.33 641.45h20.19M2143.22 626.95h20.19M2146.1 583.45h20.19M2148.98 638.55h20.19M2151.87 658.85h20.19M2154.75 615.35h20.19M2157.64 589.25h20.19M2160.52 618.25h20.19M2163.4 658.85h20.19M2166.29 653.05h20.19M2169.17 606.65h20.19M2172.06 673.35h20.19M2174.94 609.55h20.19M2177.82 670.45h20.19M2180.71 635.65h20.19M2183.59 690.75h20.19M2186.48 615.35h20.19M2189.36 734.25h20.19M2192.24 635.65h20.19M2195.13 673.35h20.19M2198.01 621.15h20.19M2200.9 621.15h20.19M2203.78 612.45h20.19M2206.66 667.55h20.19M2209.55 725.55h20.19M2212.43 603.75h20.19M2215.32 673.35h20.19M2218.2 566.05h20.19M2221.08 653.05h20.19M2223.97 618.25h20.19M2226.85 554.45h20.19M2229.74 679.15h20.19M2232.62 670.45h20.19M2235.5 586.35h20.19M2238.39 673.35h20.19M2241.27 690.75h20.19M2244.16 615.35h20.19M2247.04 586.35h20.19M2249.92 641.45h20.19M2252.81 597.95h20.19M2255.69 600.85h20.19M2258.58 629.85h20.19M2261.46 632.75h20.19M2264.34 661.75h20.19M2267.23 606.65h20.19M2270.11 655.95h20.19M2273 667.55h20.19M2275.88 638.55h20.19M2278.76 653.05h20.19M2281.65 589.25h20.19M2284.53 568.95h20.19M2287.42 650.15h20.19M2290.3 603.75h20.19M2293.18 658.85h20.19M2296.07 612.45h20.19M2298.95 597.95h20.19M2301.84 655.95h20.19M2304.72 554.45h20.19M2307.6 664.65h20.19M2310.49 580.55h20.19M2313.37 603.75h20.19M2316.26 563.15h20.19M2319.14 661.75h20.19M2322.02 693.65h20.19M2324.91 557.35h20.19M2327.79 586.35h20.19M2330.68 621.15h20.19M2333.56 673.35h20.19M2336.44 557.35h20.19M2339.33 571.85h20.19M2342.21 603.75h20.19M2345.1 670.45h20.19M2347.98 632.75h20.19M2350.86 745.85h20.19M2353.75 615.35h20.19M2356.63 589.25h20.19M2359.52 621.15h20.19M2362.4 682.05h20.19M2365.28 551.55h20.19M2368.17 719.75h20.19M2371.05 670.45h20.19M2373.94 658.85h20.19M2376.82 589.25h20.19"/>
</g>
<path class="h" d="M127.3 490.65H2440.27M127.3 789.35H2440.27"/>
<path class="v" d="M128.74 489.2V790.8M2438.83 489.2V790.8"/>
<text x="79" y="799.35" textLength="41.4" lengthAdjust="spacingAndGlyphs">-10</text>
<text x="94" y="724.67" textLength="28.6" lengthAdjust="spacingAndGlyphs">-5</text>
<text x="103" y="650" textLength="19.8" lengthAdjust="spacingAndGlyphs">0</text>
<text x="103" y="575.32" textLength="19.8" lengthAdjust="spacingAndGlyphs">5</text>
<text x="90.5" y="500.65" textLength="30.1" lengthAdjust="spacingAndGlyphs">10</text>
<text x="120.24" y="822.75" textLength="18.8" lengthAdjust="spacingAndGlyphs">0</text>
<text x="393.64" y="822.75" textLength="47.6" lengthAdjust="spacingAndGlyphs">100</text>
<text x="682.04" y="822.75" textLength="47.6" lengthAdjust="spacingAndGlyphs">200</text>
<text x="970.44" y="822.75" textLength="47.6" lengthAdjust="spacingAndGlyphs">300</text>
<text x="1258.84" y="822.75" textLength="47.6" lengthAdjust="spacingAndGlyphs">400</text>
<text x="1547.24" y="822.75" textLength="47.6" lengthAdjust="spacingAndGlyphs">500</text>
<text x="1835.64" y="822.75" textLength="47.6" lengthAdjust="spacingAndGlyphs">600</text>
<text x="2124.04" y="822.75" textLength="47.6" lengthAdjust="spacingAndGlyphs">700</text>
<text x="2412.44" y="822.75" textLength="47.6" lengthAdjust="spacingAndGlyphs">800</text>
<text x="1221.4" y="860.55" textLength="116" lengthAdjust="spacingAndGlyphs">Epoch(s)</text>
<text transform="translate(42.4 638.5) rotate(-90)" text-anchor="middle">Y<tspan font-size="22.5" dx="-3.5" dy="15.5">err</tspan><tspan dx="3" dy="-15.5">(m)</tspan></text>
<rect class="lg" x="1822.9" y="503.8" width="602.9" height="92.9"/>
<path class="h" d="M1822.9 505.25H2425.8M1822.9 595.25H2425.8"/>
<path class="v" d="M1824.34 503.8V596.7M2424.36 503.8V596.7"/>
<path class="rh" d="M1839.9 528.25H1927.6"/>
<path class="h" d="M1843.3 569.15H1927.6"/>
<path class="v" d="M1885.4 561.55v17.8"/>
<text x="1935.4" y="541.15" textLength="161.6" lengthAdjust="spacingAndGlyphs">Suppressing</text>
<text x="2103" y="541.15" textLength="108.7" lengthAdjust="spacingAndGlyphs">Spoofing</text>
<text x="2220.9" y="541.15" textLength="82.9" lengthAdjust="spacingAndGlyphs">Based</text>
<text x="2307.9" y="541.15" textLength="32.7" lengthAdjust="spacingAndGlyphs">on</text>
<text x="2349.2" y="541.15" textLength="64.2" lengthAdjust="spacingAndGlyphs">DOA</text>
<text x="1935.4" y="581.55" textLength="124.2" lengthAdjust="spacingAndGlyphs">Algorithm</text>
<text x="2064.3" y="581.55" textLength="25.6" lengthAdjust="spacingAndGlyphs">in</text>
<text x="2097.9" y="581.55" textLength="40.3" lengthAdjust="spacingAndGlyphs">this</text>
<text x="2150.6" y="581.55" textLength="73.3" lengthAdjust="spacingAndGlyphs">paper</text>
</g>
<g id="plot3">
<clipPath id="clip2"><rect x="127.3" y="912.7" width="2312.97" height="304.5"/></clipPath>
<path class="vg" d="M417.14 1214.38V912.7M705.54 1214.38V912.7M993.94 1214.38V912.7M1282.34 1214.38V912.7M1570.74 1214.38V912.7M1859.14 1214.38V912.7M2147.54 1214.38V912.7"/>
<path class="hg" d="M126.93 1137.45H2440.27M126.93 1062.05H2440.27M126.93 989.55H2440.27"/>
<path class="v" d="M417.14 912.7V938.8M417.14 1217.2V1191.1M705.54 912.7V938.8M705.54 1217.2V1191.1M993.94 912.7V938.8M993.94 1217.2V1191.1M1282.34 912.7V938.8M1282.34 1217.2V1191.1M1570.74 912.7V938.8M1570.74 1217.2V1191.1M1859.14 912.7V938.8M1859.14 1217.2V1191.1M2147.54 912.7V938.8M2147.54 1217.2V1191.1"/>
<path class="h" d="M127.3 1137.45H153.26M2440.27 1137.45H2412.29M127.3 1062.05H153.26M2440.27 1062.05H2412.29M127.3 989.55H153.26M2440.27 989.55H2412.29"/>
<g clip-path="url(#clip2)">
<path class="red" d="M131.63 1112.8V1138.9M134.51 1078V1115.7M137.39 1063.5V1092.5M140.28 1083.8V1118.6M143.16 1049V1086.7M146.05 1054.8V1095.4M148.93 1017.1V1057.7M151.81 1043.2V1078M154.7 1051.9V1080.9M157.58 1022.9V1054.8M160.47 1049V1080.9M163.35 1020V1057.7M166.23 1046.1V1089.6M169.12 1005.5V1049M172 1025.8V1054.8M174.89 999.7V1028.7M177.77 1020V1051.9M180.65 1049V1057.7M183.54 1051.9V1063.5M186.42 1040.3V1069.3M189.31 1011.3V1043.2M192.19 1028.7V1049M195.07 1046.1V1066.4M197.96 1063.5V1083.8M200.84 1060.6V1075.1M203.73 1051.9V1072.2M206.61 1031.6V1057.7M209.49 1054.8V1078M212.38 1040.3V1066.4M215.26 1025.8V1043.2M218.15 1040.3V1075.1M221.03 1057.7V1092.5M223.91 1022.9V1060.6M226.8 1043.2V1072.2M229.68 1069.3V1092.5M232.57 1089.6V1109.9M235.45 1080.9V1098.3M238.33 1080.9V1086.7M241.22 1083.8V1086.7M244.1 1083.8V1086.7M246.99 1069.3V1086.7M249.87 1051.9V1080.9M252.75 1075.1V1104.1M255.64 1046.1V1086.7M258.52 1083.8V1121.5M261.41 1051.9V1089.6M264.29 1066.4V1080.9M267.17 1051.9V1080.9M270.06 1066.4V1104.1M272.94 1028.7V1069.3M275.83 1051.9V1078M278.71 1034.5V1080.9M281.59 1072.2V1121.5M284.48 1022.9V1075.1M287.36 1060.6V1098.3M290.25 1034.5V1069.3M293.13 1028.7V1049M296.01 1025.8V1063.5M298.9 988.1V1028.7M301.78 1008.4V1028.7M304.67 993.9V1014.2M307.55 1002.6V1049M310.43 1046.1V1083.8M313.32 1022.9V1075.1M316.2 982.3V1054.8M319.09 1051.9V1124.4M321.97 1043.2V1101.2M324.85 1014.2V1066.4M327.74 1063.5V1112.8M330.62 1025.8V1072.2M333.51 1060.6V1107M336.39 1014.2V1066.4M339.27 1063.5V1112.8M342.16 1040.3V1078M345.04 1060.6V1092.5M347.93 1069.3V1101.2M350.81 1040.3V1095.4M353.69 1092.5V1147.6M356.58 1072.2V1121.5M359.46 1049V1095.4M362.35 1092.5V1138.9M365.23 1066.4V1104.1M368.11 1078V1092.5M371 1086.7V1101.2M373.88 1098.3V1112.8M376.77 1072.2V1115.7M379.65 1031.6V1075.1M382.53 1063.5V1124.4M385.42 1095.4V1153.4M388.3 1037.4V1098.3M391.19 1063.5V1109.9M394.07 1107V1124.4M396.95 1086.7V1115.7M399.84 1043.2V1089.6M402.72 1017.1V1046.1M405.61 1022.9V1051.9M408.49 993.9V1049M411.37 1046.1V1104.1M414.26 1060.6V1107M417.14 1011.3V1063.5M420.03 1005.5V1014.2M422.91 1008.4V1017.1M425.79 999.7V1051.9M428.68 1049V1101.2M431.56 1054.8V1089.6M434.45 1083.8V1118.6M437.33 1049V1086.7M440.21 1060.6V1112.8M443.1 1002.6V1063.5M445.98 976.5V1005.5M448.87 959.1V1063.5M451.75 1060.6V1162.1M454.63 1101.2V1138.9M457.52 1054.8V1104.1M460.4 1014.2V1057.7M463.29 1031.6V1072.2M466.17 1069.3V1095.4M469.05 1054.8V1092.5M471.94 1089.6V1124.4M474.82 1083.8V1112.8M477.71 1043.2V1086.7M480.59 1011.3V1046.1M483.47 1037.4V1083.8M486.36 1063.5V1101.2M489.24 1028.7V1066.4M492.13 1040.3V1069.3M495.01 1037.4V1083.8M497.89 988.1V1040.3M500.78 982.3V1020M503.66 1017.1V1072.2M506.55 1051.9V1092.5M509.43 1011.3V1054.8M512.31 1049V1089.6M515.2 1034.5V1063.5M518.08 1060.6V1086.7M520.97 1034.5V1063.5M523.85 1031.6V1063.5M526.73 1060.6V1092.5M529.62 1043.2V1069.3M532.5 1060.6V1080.9M535.39 1063.5V1075.1M538.27 1063.5V1069.3M541.15 1066.4V1080.9M544.04 1066.4V1092.5M546.92 1043.2V1069.3M549.81 1046.1V1092.5M552.69 1002.6V1049M555.57 1037.4V1072.2M558.46 1022.9V1049M561.34 1046.1V1115.7M564.23 1112.8V1159.2M567.11 1066.4V1115.7M569.99 1069.3V1083.8M572.88 1057.7V1089.6M575.76 1078V1118.6M578.65 1037.4V1080.9M581.53 1057.7V1083.8M584.41 1066.4V1089.6M587.3 1031.6V1069.3M590.18 1020V1040.3M593.07 1037.4V1054.8M595.95 1046.1V1051.9M598.83 1031.6V1049M601.72 1017.1V1054.8M604.6 1051.9V1086.7M607.49 1051.9V1072.2M610.37 1054.8V1086.7M613.25 1022.9V1057.7M616.14 1025.8V1083.8M619.02 967.8V1037.4M621.91 1034.5V1104.1M624.79 1075.1V1098.3M627.67 1060.6V1080.9M630.56 1078V1098.3M633.44 1063.5V1089.6M636.33 1075.1V1112.8M639.21 1037.4V1078M642.09 1034.5V1069.3M644.98 1066.4V1101.2M647.86 1089.6V1115.7M650.75 1086.7V1136M653.63 1037.4V1089.6M656.51 1072.2V1112.8M659.4 1025.8V1075.1M662.28 1017.1V1054.8M665.17 1051.9V1086.7M668.05 1080.9V1098.3M670.93 1075.1V1112.8M673.82 1037.4V1078M676.7 1046.1V1057.7M679.59 1054.8V1060.6M682.47 1057.7V1072.2M685.35 1069.3V1089.6M688.24 1072.2V1092.5M691.12 1054.8V1075.1M694.01 1063.5V1075.1M696.89 1043.2V1075.1M699.77 1014.2V1054.8M702.66 1051.9V1089.6M705.54 1014.2V1066.4M708.43 988.1V1017.1M711.31 999.7V1040.3M714.19 1037.4V1086.7M717.08 1083.8V1109.9M719.96 1072.2V1095.4M722.85 1057.7V1075.1M725.73 1046.1V1060.6M728.61 1037.4V1063.5M731.5 1011.3V1083.8M734.38 1078V1153.4M737.27 1002.6V1080.9M740.15 1031.6V1078M743.03 1075.1V1109.9M745.92 1069.3V1127.3M748.8 999.7V1072.2M751.69 982.3V1028.7M754.57 1025.8V1069.3M757.45 1011.3V1043.2M760.34 1031.6V1051.9M763.22 1031.6V1060.6M766.11 1057.7V1086.7M768.99 1014.2V1063.5M771.87 993.9V1040.3M774.76 1037.4V1080.9M777.64 1069.3V1080.9M780.53 1057.7V1072.2M783.41 1054.8V1078M786.29 1057.7V1098.3M789.18 1020V1063.5M792.06 1060.6V1104.1M794.95 1022.9V1066.4M797.83 1054.8V1092.5M800.71 1017.1V1057.7M803.6 1054.8V1095.4M806.48 1049V1092.5M809.37 1011.3V1051.9M812.25 1028.7V1051.9M815.13 1043.2V1054.8M818.02 1031.6V1063.5M820.9 1060.6V1101.2M823.79 1098.3V1109.9M826.67 1060.6V1104.1M829.55 1028.7V1063.5M832.44 1060.6V1092.5M835.32 1072.2V1083.8M838.21 1072.2V1075.1M841.09 1069.3V1075.1M843.97 1051.9V1072.2M846.86 1034.5V1066.4M849.74 1063.5V1095.4M852.63 1072.2V1086.7M855.51 1072.2V1098.3M858.39 1046.1V1101.2M861.28 1098.3V1150.5M864.16 1040.3V1109.9M867.05 1011.3V1057.7M869.93 1054.8V1101.2M872.81 1060.6V1083.8M875.7 1057.7V1104.1M878.58 1101.2V1147.6M881.47 1109.9V1130.2M884.35 1078V1112.8M887.23 1046.1V1080.9M890.12 1069.3V1112.8M893 1028.7V1080.9M895.89 1078V1127.3M898.77 1054.8V1092.5M901.65 1075.1V1109.9M904.54 1031.6V1078M907.42 1022.9V1046.1M910.31 1043.2V1086.7M913.19 1075.1V1107M916.07 1043.2V1078M918.96 1049V1057.7M921.84 1051.9V1060.6M924.73 1043.2V1057.7M927.61 1054.8V1101.2M930.49 1098.3V1130.2M933.38 1075.1V1118.6M936.26 1043.2V1078M939.15 1051.9V1063.5M942.03 1043.2V1057.7M944.91 1054.8V1092.5M947.8 1089.6V1112.8M950.68 1083.8V1115.7M953.57 1078V1144.7M956.45 1014.2V1080.9M959.33 1051.9V1124.4M962.22 1092.5V1153.4M965.1 1031.6V1095.4M967.99 1028.7V1063.5M970.87 1060.6V1095.4M973.75 1057.7V1089.6M976.64 1034.5V1060.6M979.52 1037.4V1051.9M982.41 1022.9V1040.3M985.29 1025.8V1043.2M988.17 1031.6V1051.9M991.06 1011.3V1043.2M993.94 1040.3V1069.3M996.83 1066.4V1089.6M999.71 1066.4V1107M1002.59 1025.8V1069.3M1005.48 1034.5V1069.3M1008.36 1066.4V1092.5M1011.25 1057.7V1078M1014.13 1060.6V1063.5M1017.01 1057.7V1069.3M1019.9 1066.4V1078M1022.78 1057.7V1080.9M1025.67 1037.4V1063.5M1028.55 1060.6V1092.5M1031.43 1072.2V1101.2M1034.32 1043.2V1075.1M1037.2 1072.2V1115.7M1040.09 1086.7V1127.3M1042.97 1046.1V1089.6M1045.85 1063.5V1083.8M1048.74 1046.1V1066.4M1051.62 1063.5V1083.8M1054.51 1046.1V1072.2M1057.39 1037.4V1072.2M1060.27 1069.3V1101.2M1063.16 1043.2V1083.8M1066.04 1025.8V1046.1M1068.93 1037.4V1072.2M1071.81 1069.3V1101.2M1074.69 1069.3V1104.1M1077.58 1034.5V1072.2M1080.46 1063.5V1095.4M1083.35 1043.2V1078M1086.23 1075.1V1109.9M1089.11 1037.4V1080.9M1092 1028.7V1069.3M1094.88 1063.5V1104.1M1097.77 1025.8V1066.4M1100.65 1017.1V1034.5M1103.53 1002.6V1057.7M1106.42 1054.8V1109.9M1109.3 1107V1121.5M1112.19 1069.3V1130.2M1115.07 1011.3V1072.2M1117.95 1022.9V1069.3M1120.84 1046.1V1101.2M1123.72 991V1049M1126.61 1025.8V1063.5M1129.49 1020V1043.2M1132.37 1011.3V1022.9M1135.26 999.7V1043.2M1138.14 1040.3V1089.6M1141.03 1078V1095.4M1143.91 1040.3V1080.9M1146.79 1014.2V1043.2M1149.68 1025.8V1057.7M1152.56 1054.8V1078M1155.45 1063.5V1083.8M1158.33 1043.2V1066.4M1161.21 1025.8V1046.1M1164.1 1011.3V1069.3M1166.98 1066.4V1124.4M1169.87 1046.1V1092.5M1172.75 1086.7V1133.1M1175.63 1043.2V1089.6M1178.52 1066.4V1112.8M1181.4 1020V1069.3M1184.29 1063.5V1107M1187.17 1020V1069.3M1190.05 1063.5V1112.8M1192.94 1017.1V1078M1195.82 1063.5V1133.1M1198.71 993.9V1066.4M1201.59 999.7V1014.2M1204.47 1011.3V1069.3M1207.36 1066.4V1112.8M1210.24 1095.4V1107M1213.13 1092.5V1098.3M1216.01 1066.4V1095.4M1218.89 1046.1V1069.3M1221.78 1025.8V1078M1224.66 976.5V1046.1M1227.55 1043.2V1109.9M1230.43 1011.3V1063.5M1233.31 1037.4V1063.5M1236.2 985.2V1040.3M1239.08 956.2V1011.3M1241.97 1008.4V1060.6M1244.85 999.7V1037.4M1247.73 988.1V1002.6M1250.62 999.7V1066.4M1253.5 1063.5V1118.6M1256.39 1022.9V1072.2M1259.27 1043.2V1066.4M1262.15 1034.5V1066.4M1265.04 1063.5V1092.5M1267.92 1037.4V1078M1270.81 1075.1V1112.8M1273.69 1037.4V1078M1276.57 1040.3V1051.9M1279.46 1049V1066.4M1282.34 1051.9V1075.1M1285.23 1028.7V1054.8M1288.11 1034.5V1072.2M1290.99 1069.3V1104.1M1293.88 1051.9V1104.1M1296.76 1101.2V1153.4M1299.65 1083.8V1130.2M1302.53 1025.8V1086.7M1305.41 988.1V1028.7M1308.3 1005.5V1054.8M1311.18 1031.6V1080.9M1314.07 982.3V1049M1316.95 1046.1V1112.8M1319.83 1028.7V1095.4M1322.72 982.3V1034.5M1325.6 1031.6V1083.8M1328.49 1080.9V1083.8M1331.37 1049V1083.8M1334.25 1017.1V1066.4M1337.14 1063.5V1112.8M1340.02 1025.8V1095.4M1342.91 1092.5V1162.1M1345.79 1095.4V1141.8M1348.67 1072.2V1098.3M1351.56 1080.9V1098.3M1354.44 1080.9V1101.2M1357.33 1060.6V1083.8M1360.21 1075.1V1089.6M1363.09 1060.6V1080.9M1365.98 1078V1109.9M1368.86 1107V1121.5M1371.75 1072.2V1118.6M1374.63 1031.6V1080.9M1377.51 1078V1127.3M1380.4 1043.2V1086.7M1383.28 1066.4V1092.5M1386.17 1043.2V1069.3M1389.05 1057.7V1078M1391.93 1054.8V1083.8M1394.82 1028.7V1057.7M1397.7 1034.5V1054.8M1400.59 1051.9V1075.1M1403.47 1069.3V1086.7M1406.35 1051.9V1072.2M1409.24 1066.4V1083.8M1412.12 1057.7V1075.1M1415.01 1037.4V1060.6M1417.89 1025.8V1040.3M1420.77 1031.6V1075.1M1423.66 1072.2V1112.8M1426.54 1040.3V1078M1429.43 1046.1V1075.1M1432.31 1020V1083.8M1435.19 1078V1141.8M1438.08 1014.2V1080.9M1440.96 1040.3V1069.3M1443.85 1066.4V1092.5M1446.73 1063.5V1112.8M1449.61 1014.2V1066.4M1452.5 996.8V1017.1M1455.38 982.3V1051.9M1458.27 1049V1115.7M1461.15 1005.5V1063.5M1464.03 1020V1037.4M1466.92 1031.6V1057.7M1469.8 1054.8V1083.8M1472.69 1060.6V1086.7M1475.57 1037.4V1063.5M1478.45 1046.1V1063.5M1481.34 1060.6V1069.3M1484.22 1054.8V1063.5M1487.11 1057.7V1066.4M1489.99 1034.5V1060.6M1492.87 1017.1V1037.4M1495.76 1025.8V1080.9M1498.64 1051.9V1124.4M1501.53 982.3V1054.8M1504.41 988.1V1028.7M1507.29 1025.8V1063.5M1510.18 1022.9V1066.4M1513.06 1063.5V1107M1515.95 1025.8V1069.3M1518.83 1034.5V1083.8M1521.71 1080.9V1121.5M1524.6 1054.8V1109.9M1527.48 1014.2V1057.7M1530.37 1046.1V1098.3M1533.25 1069.3V1112.8M1536.13 1025.8V1083.8M1539.02 1080.9V1138.9M1541.9 1025.8V1098.3M1544.79 1095.4V1165M1547.67 1049V1127.3M1550.55 1014.2V1054.8M1553.44 1051.9V1104.1M1556.32 1101.2V1115.7M1559.21 1104.1V1118.6M1562.09 1063.5V1107M1564.97 1037.4V1098.3M1567.86 1095.4V1153.4M1570.74 1083.8V1130.2M1573.63 1060.6V1086.7M1576.51 1043.2V1095.4M1579.39 991V1051.9M1582.28 1049V1109.9M1585.16 1092.5V1104.1M1588.05 1089.6V1098.3M1590.93 1092.5V1101.2M1593.81 1054.8V1095.4M1596.7 1005.5V1057.7M1599.58 985.2V1008.4M1602.47 999.7V1054.8M1605.35 1051.9V1092.5M1608.23 1037.4V1072.2M1611.12 1066.4V1104.1M1614 1031.6V1069.3M1616.89 1054.8V1092.5M1619.77 1089.6V1107M1622.65 1078V1109.9M1625.54 1046.1V1080.9M1628.42 1078V1109.9M1631.31 1078V1109.9M1634.19 1051.9V1098.3M1637.07 1092.5V1141.8M1639.96 1043.2V1095.4M1642.84 1060.6V1089.6M1645.73 1086.7V1095.4M1648.61 1057.7V1095.4M1651.49 1020V1060.6M1654.38 1017.1V1057.7M1657.26 1025.8V1092.5M1660.15 962V1031.6M1663.03 1028.7V1095.4M1665.91 1028.7V1066.4M1668.8 1063.5V1109.9M1671.68 1080.9V1115.7M1674.57 1049V1083.8M1677.45 1075.1V1101.2M1680.33 1057.7V1095.4M1683.22 1025.8V1063.5M1686.1 1060.6V1098.3M1688.99 1051.9V1078M1691.87 1066.4V1095.4M1694.75 1075.1V1107M1697.64 1046.1V1078M1700.52 1057.7V1086.7M1703.41 1083.8V1104.1M1706.29 1057.7V1089.6M1709.17 1046.1V1086.7M1712.06 1080.9V1124.4M1714.94 1037.4V1083.8M1717.83 1040.3V1072.2M1720.71 1069.3V1107M1723.59 1086.7V1112.8M1726.48 1051.9V1089.6M1729.36 1040.3V1060.6M1732.25 1057.7V1075.1M1735.13 1040.3V1072.2M1738.01 1063.5V1098.3M1740.9 1028.7V1066.4M1743.78 1051.9V1083.8M1746.67 1014.2V1054.8M1749.55 1002.6V1051.9M1752.43 1040.3V1095.4M1755.32 985.2V1043.2M1758.2 1011.3V1049M1761.09 1046.1V1083.8M1763.97 1080.9V1112.8M1766.85 1060.6V1101.2M1769.74 1034.5V1086.7M1772.62 1083.8V1136M1775.51 1089.6V1127.3M1778.39 1028.7V1092.5M1781.27 988.1V1031.6M1784.16 993.9V1034.5M1787.04 1031.6V1069.3M1789.93 1054.8V1069.3M1792.81 1034.5V1057.7M1795.69 1022.9V1060.6M1798.58 1057.7V1095.4M1801.46 1034.5V1072.2M1804.35 1025.8V1060.6M1807.23 1057.7V1092.5M1810.11 1040.3V1069.3M1813 1063.5V1092.5M1815.88 1034.5V1069.3M1818.77 1066.4V1101.2M1821.65 1051.9V1086.7M1824.53 1037.4V1054.8M1827.42 1051.9V1080.9M1830.3 1078V1109.9M1833.19 1075.1V1130.2M1836.07 1011.3V1078M1838.95 1002.6V1028.7M1841.84 1020V1049M1844.72 991V1028.7M1847.61 1025.8V1060.6M1850.49 1011.3V1037.4M1853.37 1008.4V1043.2M1856.26 1040.3V1078M1859.14 1072.2V1080.9M1862.03 1020V1075.1M1864.91 976.5V1022.9M1867.79 982.3V1022.9M1870.68 1020V1054.8M1873.56 1002.6V1031.6M1876.45 1028.7V1054.8M1879.33 1014.2V1049M1882.21 1046.1V1078M1885.1 1043.2V1066.4M1887.98 1063.5V1104.1M1890.87 1069.3V1124.4M1893.75 1014.2V1072.2M1896.63 1043.2V1086.7M1899.52 1002.6V1046.1M1902.4 1014.2V1066.4M1905.29 1060.6V1107M1908.17 1002.6V1063.5M1911.05 991V1054.8M1913.94 1051.9V1115.7M1916.82 1005.5V1063.5M1919.71 1054.8V1107M1922.59 1014.2V1066.4M1925.47 1008.4V1020M1928.36 1017.1V1060.6M1931.24 1057.7V1089.6M1934.13 1049V1078M1937.01 1031.6V1051.9M1939.89 1017.1V1034.5M1942.78 1005.5V1020M1945.66 999.7V1043.2M1948.55 1040.3V1104.1M1951.43 1063.5V1127.3M1954.31 1002.6V1066.4M1957.2 1043.2V1086.7M1960.08 1017.1V1054.8M1962.97 1051.9V1086.7M1965.85 1011.3V1054.8M1968.73 1005.5V1060.6M1971.62 1057.7V1112.8M1974.5 1037.4V1086.7M1977.39 999.7V1040.3M1980.27 982.3V1011.3M1983.15 1008.4V1034.5M1986.04 1002.6V1034.5M1988.92 1031.6V1101.2M1991.81 1069.3V1138.9M1994.69 1002.6V1072.2M1997.57 1002.6V1011.3M2000.46 996.8V1043.2M2003.34 1040.3V1083.8M2006.23 1037.4V1069.3M2009.11 1014.2V1040.3M2011.99 1002.6V1034.5M2014.88 1031.6V1075.1M2017.76 1049V1083.8M2020.65 1014.2V1051.9M2023.53 1040.3V1078M2026.41 1002.6V1069.3M2029.3 1057.7V1130.2M2032.18 988.1V1060.6M2035.07 1043.2V1101.2M2037.95 1002.6V1054.8M2040.83 1051.9V1101.2M2043.72 1054.8V1098.3M2046.6 1014.2V1063.5M2049.49 1043.2V1109.9M2052.37 976.5V1046.1M2055.25 1028.7V1080.9M2058.14 996.8V1046.1M2061.02 985.2V1005.5M2063.91 1002.6V1020M2066.79 999.7V1011.3M2069.67 1008.4V1034.5M2072.56 1031.6V1083.8M2075.44 1080.9V1118.6M2078.33 1089.6V1115.7M2081.21 1066.4V1092.5M2084.09 1034.5V1069.3M2086.98 1005.5V1037.4M2089.86 1014.2V1040.3M2092.75 1037.4V1078M2095.63 1075.1V1098.3M2098.51 1025.8V1089.6M2101.4 973.6V1028.7M2104.28 976.5V1040.3M2107.17 1037.4V1109.9M2110.05 1060.6V1121.5M2112.93 1002.6V1063.5M2115.82 1011.3V1051.9M2118.7 1049V1101.2M2121.59 1083.8V1121.5M2124.47 1046.1V1086.7M2127.35 1049V1072.2M2130.24 1054.8V1086.7M2133.12 1022.9V1057.7M2136.01 1017.1V1025.8M2138.89 1008.4V1020M2141.77 1011.3V1060.6M2144.66 1057.7V1101.2M2147.54 1022.9V1066.4M2150.43 999.7V1025.8M2153.31 976.5V1014.2M2156.19 1011.3V1051.9M2159.08 1049V1080.9M2161.96 1060.6V1104.1M2164.85 1014.2V1063.5M2167.73 1008.4V1051.9M2170.61 1049V1089.6M2173.5 1025.8V1066.4M2176.38 1011.3V1049M2179.27 1031.6V1080.9M2182.15 985.2V1034.5M2185.03 1025.8V1092.5M2187.92 1069.3V1112.8M2190.8 1028.7V1072.2M2193.69 1069.3V1109.9M2196.57 1025.8V1078M2199.45 996.8V1028.7M2202.34 985.2V1040.3M2205.22 1037.4V1092.5M2208.11 1022.9V1060.6M2210.99 1040.3V1057.7M2213.87 1037.4V1054.8M2216.76 1022.9V1057.7M2219.64 1046.1V1089.6M2222.53 1002.6V1054.8M2225.41 1051.9V1104.1M2228.29 1014.2V1060.6M2231.18 1005.5V1017.1M2234.06 999.7V1025.8M2236.95 1022.9V1046.1M2239.83 1005.5V1060.6M2242.71 1057.7V1112.8M2245.6 1008.4V1063.5M2248.48 1025.8V1092.5M2251.37 1080.9V1138.9M2254.25 1025.8V1083.8M2257.13 1066.4V1109.9M2260.02 1057.7V1089.6M2262.9 1046.1V1060.6M2265.79 1031.6V1054.8M2268.67 1008.4V1043.2M2271.55 1040.3V1078M2274.44 1072.2V1080.9M2277.32 1057.7V1075.1M2280.21 1046.1V1060.6M2283.09 1040.3V1078M2285.97 1075.1V1130.2M2288.86 1092.5V1147.6M2291.74 1037.4V1095.4M2294.63 1046.1V1078M2297.51 1054.8V1095.4M2300.39 1014.2V1057.7M2303.28 1025.8V1075.1M2306.16 976.5V1028.7M2309.05 1008.4V1046.1M2311.93 1034.5V1051.9M2314.81 1020V1037.4M2317.7 1028.7V1046.1M2320.58 1011.3V1031.6M2323.47 1008.4V1020M2326.35 1017.1V1034.5M2329.23 1031.6V1063.5M2332.12 1060.6V1086.7M2335 1037.4V1092.5M2337.89 985.2V1040.3M2340.77 1020V1054.8M2343.65 1020V1046.1M2346.54 1002.6V1022.9M2349.42 993.9V1014.2M2352.31 1011.3V1051.9M2355.19 1049V1069.3M2358.07 1028.7V1054.8M2360.96 1017.1V1031.6M2363.84 1008.4V1020M2366.73 1002.6V1014.2M2369.61 1011.3V1040.3M2372.49 1037.4V1060.6M2375.38 1043.2V1057.7M2378.26 1037.4V1057.7M2381.15 1054.8V1080.9M2384.03 1049V1089.6M2386.91 1008.4V1051.9"/>
<path class="v" d="M131.63 1078V1104.1M134.51 1054.8V1080.9M137.39 1063.5V1075.1M140.28 1072.2V1080.9M143.16 1078V1086.7M146.05 1057.7V1080.9M148.93 1043.2V1066.4M151.81 1063.5V1086.7M154.7 1054.8V1080.9M157.58 1078V1104.1M160.47 1057.7V1098.3M163.35 1005.5V1060.6M166.23 985.2V1043.2M169.12 1040.3V1104.1M172 1101.2V1118.6M174.89 1089.6V1121.5M177.77 1060.6V1092.5M180.65 1043.2V1069.3M183.54 1017.1V1066.4M186.42 1063.5V1112.8M189.31 1037.4V1092.5M192.19 1005.5V1040.3M195.07 1014.2V1040.3M197.96 1037.4V1057.7M200.84 1049V1069.3M203.73 1066.4V1086.7M206.61 1083.8V1101.2M209.49 1078V1109.9M212.38 1049V1089.6M215.26 1075.1V1127.3M218.15 1025.8V1078M221.03 1057.7V1104.1M223.91 1011.3V1060.6M226.8 1014.2V1040.3M229.68 988.1V1017.1M232.57 999.7V1051.9M235.45 1049V1089.6M238.33 1060.6V1089.6M241.22 1031.6V1078M244.1 1075.1V1121.5M246.99 1011.3V1089.6M249.87 964.9V1014.2M252.75 1011.3V1078M255.64 1075.1V1095.4M258.52 1028.7V1078M261.41 999.7V1046.1M264.29 1043.2V1086.7M267.17 1011.3V1051.9M270.06 1043.2V1078M272.94 1060.6V1083.8M275.83 1069.3V1101.2M278.71 1037.4V1072.2M281.59 1040.3V1046.1M284.48 1025.8V1046.1M287.36 1005.5V1028.7M290.25 1014.2V1057.7M293.13 1054.8V1089.6M296.01 1022.9V1069.3M298.9 1066.4V1109.9M301.78 1069.3V1095.4M304.67 1092.5V1115.7M307.55 1066.4V1109.9M310.43 1031.6V1069.3M313.32 1025.8V1051.9M316.2 1049V1092.5M319.09 1069.3V1109.9M321.97 1031.6V1098.3M324.85 1095.4V1159.2M327.74 1051.9V1107M330.62 1051.9V1086.7M333.51 1083.8V1118.6M336.39 1049V1107M339.27 1005.5V1051.9M342.16 1031.6V1086.7M345.04 1083.8V1109.9M347.93 1092.5V1104.1M350.81 1066.4V1107M353.69 1028.7V1080.9M356.58 1078V1127.3M359.46 1057.7V1098.3M362.35 1051.9V1069.3M365.23 1049V1080.9M368.11 1011.3V1051.9M371 1002.6V1025.8M373.88 1022.9V1054.8M376.77 1051.9V1075.1M379.65 1072.2V1086.7M382.53 1080.9V1095.4M385.42 1043.2V1104.1M388.3 982.3V1049M391.19 1046.1V1121.5M394.07 1118.6V1130.2M396.95 1080.9V1121.5M399.84 1051.9V1083.8M402.72 1049V1089.6M405.61 1086.7V1127.3M408.49 1031.6V1098.3M411.37 993.9V1034.5M414.26 1017.1V1043.2M417.14 1040.3V1043.2M420.03 1037.4V1051.9M422.91 1049V1080.9M425.79 1078V1098.3M428.68 1063.5V1089.6M431.56 1049V1066.4M434.45 1054.8V1078M437.33 1008.4V1057.7M440.21 982.3V1022.9M443.1 1020V1060.6M445.98 1011.3V1066.4M448.87 1063.5V1115.7M451.75 1040.3V1080.9M454.63 1066.4V1095.4M457.52 1043.2V1072.2M460.4 1049V1083.8M463.29 1017.1V1054.8M466.17 1051.9V1086.7M469.05 1020V1060.6M471.94 1008.4V1022.9M474.82 1020V1043.2M477.71 1040.3V1049M480.59 1043.2V1092.5M483.47 1089.6V1136M486.36 1089.6V1118.6M489.24 1060.6V1092.5M492.13 1040.3V1078M495.01 1075.1V1109.9M497.89 1060.6V1101.2M500.78 1034.5V1092.5M503.66 1089.6V1144.7M506.55 1034.5V1092.5M509.43 1089.6V1144.7M512.31 1069.3V1138.9M515.2 1008.4V1072.2M518.08 1051.9V1098.3M520.97 1083.8V1092.5M523.85 1051.9V1089.6M526.73 1014.2V1054.8M529.62 1046.1V1078M532.5 1051.9V1078M535.39 1025.8V1060.6M538.27 1057.7V1089.6M541.15 1028.7V1060.6M544.04 1051.9V1075.1M546.92 1037.4V1060.6M549.81 1028.7V1057.7M552.69 1040.3V1083.8M555.57 999.7V1043.2M558.46 1014.2V1034.5M561.34 1031.6V1043.2M564.23 1040.3V1054.8M567.11 1051.9V1057.7M569.99 1051.9V1057.7M572.88 1017.1V1054.8M575.76 988.1V1040.3M578.65 1037.4V1089.6M581.53 1017.1V1054.8M584.41 1022.9V1034.5M587.3 1005.5V1025.8M590.18 999.7V1054.8M593.07 1051.9V1107M595.95 1022.9V1075.1M598.83 1072.2V1121.5M601.72 1031.6V1078M604.6 1069.3V1107M607.49 1046.1V1083.8M610.37 1034.5V1057.7M613.25 1054.8V1080.9M616.14 1078V1098.3M619.02 1072.2V1115.7M621.91 1028.7V1086.7M624.79 1075.1V1141.8M627.67 1008.4V1078M630.56 1014.2V1069.3M633.44 1066.4V1115.7M636.33 1075.1V1098.3M639.21 1028.7V1078M642.09 988.1V1031.6M644.98 999.7V1014.2M647.86 1011.3V1054.8M650.75 1051.9V1092.5M653.63 1057.7V1078M656.51 1049V1078M659.4 1022.9V1063.5M662.28 1060.6V1098.3M665.17 1031.6V1066.4M668.05 1051.9V1095.4M670.93 1008.4V1063.5M673.82 1060.6V1115.7M676.7 1072.2V1095.4M679.59 1054.8V1080.9M682.47 1031.6V1057.7M685.35 1028.7V1046.1M688.24 993.9V1060.6M691.12 930.1V1031.6M694.01 1028.7V1127.3M696.89 1002.6V1066.4M699.77 1051.9V1104.1M702.66 1060.6V1107M705.54 1014.2V1063.5M708.43 1060.6V1107M711.31 1075.1V1107M714.19 1098.3V1133.1M717.08 1040.3V1101.2M719.96 1014.2V1066.4M722.85 1057.7V1112.8M725.73 1002.6V1078M728.61 1075.1V1150.5M731.5 1017.1V1086.7M734.38 1060.6V1104.1M737.27 1060.6V1086.7M740.15 1083.8V1107M743.03 1072.2V1092.5M745.92 1046.1V1075.1M748.8 1014.2V1049M751.69 1002.6V1043.2M754.57 1040.3V1080.9M757.45 1063.5V1086.7M760.34 1066.4V1104.1M763.22 1031.6V1069.3M766.11 1051.9V1080.9M768.99 1025.8V1060.6M771.87 1054.8V1089.6M774.76 1011.3V1057.7M777.64 999.7V1046.1M780.53 1043.2V1086.7M783.41 1034.5V1072.2M786.29 1014.2V1051.9M789.18 1049V1083.8M792.06 1031.6V1072.2M794.95 1069.3V1109.9M797.83 1072.2V1095.4M800.71 1046.1V1075.1M803.6 1025.8V1063.5M806.48 1060.6V1095.4M809.37 1017.1V1083.8M812.25 967.8V1040.3M815.13 1037.4V1107M818.02 1049V1089.6M820.9 1069.3V1127.3M823.79 1014.2V1072.2M826.67 1057.7V1104.1M829.55 1083.8V1104.1M832.44 1063.5V1086.7M835.32 1057.7V1066.4M838.21 1040.3V1060.6M841.09 1022.9V1054.8M843.97 1049V1080.9M846.86 1011.3V1051.9M849.74 999.7V1037.4M852.63 1028.7V1072.2M855.51 988.1V1034.5M858.39 1031.6V1075.1M861.28 1037.4V1057.7M864.16 1043.2V1049M867.05 1037.4V1060.6M869.93 1057.7V1080.9M872.81 1069.3V1078M875.7 1072.2V1086.7M878.58 1083.8V1098.3M881.47 1066.4V1092.5M884.35 1046.1V1075.1M887.23 1072.2V1101.2M890.12 1054.8V1089.6M893 1034.5V1066.4M895.89 1063.5V1092.5M898.77 1051.9V1080.9M901.65 1034.5V1054.8M904.54 1049V1063.5M907.42 1046.1V1080.9M910.31 1078V1109.9M913.19 1066.4V1089.6M916.07 1072.2V1107M918.96 1037.4V1089.6M921.84 1086.7V1136M924.73 1066.4V1118.6M927.61 1037.4V1069.3M930.49 1060.6V1098.3M933.38 1083.8V1109.9M936.26 1008.4V1086.7M939.15 956.2V1020M942.03 1017.1V1080.9M944.91 1031.6V1069.3M947.8 1066.4V1104.1M950.68 1040.3V1080.9M953.57 1022.9V1049M956.45 1046.1V1069.3M959.33 1031.6V1057.7M962.22 1054.8V1080.9M965.1 1031.6V1057.7M967.99 1054.8V1078M970.87 1022.9V1057.7M973.75 991V1025.8M976.64 970.7V1034.5M979.52 1031.6V1104.1M982.41 1083.8V1112.8M985.29 1057.7V1089.6M988.17 1063.5V1118.6M991.06 1011.3V1069.3M993.94 1066.4V1124.4M996.83 1043.2V1086.7M999.71 1037.4V1057.7M1002.59 1043.2V1075.1M1005.48 1014.2V1054.8M1008.36 1051.9V1089.6M1011.25 1028.7V1060.6M1014.13 1025.8V1040.3M1017.01 1011.3V1051.9M1019.9 1049V1086.7M1022.78 1054.8V1072.2M1025.67 1046.1V1057.7M1028.55 1034.5V1051.9M1031.43 1046.1V1063.5M1034.32 1022.9V1049M1037.2 1017.1V1046.1M1040.09 1043.2V1080.9M1042.97 1057.7V1092.5M1045.85 1022.9V1060.6M1048.74 1025.8V1046.1M1051.62 1014.2V1060.6M1054.51 970.7V1017.1M1057.39 991V1022.9M1060.27 1020V1060.6M1063.16 1057.7V1089.6M1066.04 1051.9V1072.2M1068.93 1054.8V1069.3M1071.81 1066.4V1080.9M1074.69 1051.9V1069.3M1077.58 1046.1V1080.9M1080.46 991V1049M1083.35 967.8V1005.5M1086.23 1002.6V1040.3M1089.11 1020V1060.6M1092 1057.7V1098.3M1094.88 1054.8V1098.3M1097.77 1011.3V1078M1100.65 1075.1V1141.8M1103.53 1057.7V1144.7M1106.42 970.7V1060.6M1109.3 1008.4V1078M1112.19 1060.6V1107M1115.07 1017.1V1063.5M1117.95 1040.3V1092.5M1120.84 1089.6V1118.6M1123.72 1072.2V1112.8M1126.61 1043.2V1075.1M1129.49 1072.2V1101.2M1132.37 1080.9V1092.5M1135.26 1063.5V1095.4M1138.14 1034.5V1072.2M1141.03 1069.3V1104.1M1143.91 1043.2V1083.8M1146.79 1025.8V1083.8M1149.68 1072.2V1138.9M1152.56 1005.5V1075.1M1155.45 1057.7V1112.8M1158.33 1060.6V1104.1M1161.21 1101.2V1144.7M1164.1 1072.2V1109.9M1166.98 1034.5V1075.1M1169.87 999.7V1057.7M1172.75 1054.8V1112.8M1175.63 1040.3V1092.5M1178.52 1089.6V1138.9M1181.4 1043.2V1092.5M1184.29 1078V1112.8M1187.17 1049V1083.8M1190.05 1063.5V1080.9M1192.94 1051.9V1080.9M1195.82 1078V1107M1198.71 1078V1098.3M1201.59 1054.8V1080.9M1204.47 1040.3V1057.7M1207.36 1043.2V1072.2M1210.24 1017.1V1046.1M1213.13 1028.7V1043.2M1216.01 1034.5V1040.3M1218.89 1037.4V1063.5M1221.78 1060.6V1092.5M1224.66 1072.2V1098.3M1227.55 1049V1075.1M1230.43 1040.3V1069.3M1233.31 1014.2V1051.9M1236.2 1049V1086.7M1239.08 1040.3V1078M1241.97 1014.2V1060.6M1244.85 1057.7V1101.2M1247.73 1040.3V1072.2M1250.62 1060.6V1089.6M1253.5 1075.1V1095.4M1256.39 1054.8V1078M1259.27 1051.9V1066.4M1262.15 1057.7V1078M1265.04 1037.4V1063.5M1267.92 1051.9V1086.7M1270.81 1008.4V1054.8M1273.69 993.9V1040.3M1276.57 1037.4V1080.9M1279.46 1017.1V1051.9M1282.34 1020V1057.7M1285.23 1054.8V1086.7M1288.11 1022.9V1057.7M1290.99 1054.8V1089.6M1293.88 1069.3V1089.6M1296.76 1051.9V1107M1299.65 999.7V1054.8M1302.53 1043.2V1089.6M1305.41 1008.4V1054.8M1308.3 1002.6V1025.8M1311.18 1022.9V1072.2M1314.07 1054.8V1095.4M1316.95 1014.2V1072.2M1319.83 1069.3V1124.4M1322.72 1017.1V1072.2M1325.6 1054.8V1098.3M1328.49 1008.4V1057.7M1331.37 1002.6V1046.1M1334.25 1043.2V1083.8M1337.14 1022.9V1054.8M1340.02 1037.4V1069.3M1342.91 1066.4V1083.8M1345.79 1051.9V1072.2M1348.67 1046.1V1072.2M1351.56 1063.5V1095.4M1354.44 1034.5V1066.4M1357.33 1057.7V1092.5M1360.21 1089.6V1104.1M1363.09 1080.9V1098.3M1365.98 1066.4V1083.8M1368.86 1051.9V1069.3M1371.75 1049V1060.6M1374.63 1031.6V1066.4M1377.51 999.7V1040.3M1380.4 1037.4V1107M1383.28 1072.2V1136M1386.17 1011.3V1075.1M1389.05 1051.9V1107M1391.93 999.7V1054.8M1394.82 1051.9V1104.1M1397.7 1046.1V1101.2M1400.59 999.7V1049M1403.47 1008.4V1046.1M1406.35 1043.2V1086.7M1409.24 1083.8V1104.1M1412.12 1101.2V1115.7M1415.01 1098.3V1121.5M1417.89 1075.1V1101.2M1420.77 1075.1V1104.1M1423.66 1075.1V1130.2M1426.54 1020V1078M1429.43 1040.3V1098.3M1432.31 982.3V1043.2M1435.19 1037.4V1107M1438.08 1080.9V1121.5M1440.96 1043.2V1083.8M1443.85 1040.3V1080.9M1446.73 1054.8V1115.7M1449.61 993.9V1057.7M1452.5 1040.3V1089.6M1455.38 1014.2V1066.4M1458.27 988.1V1020M1461.15 1017.1V1069.3M1464.03 1049V1089.6M1466.92 1008.4V1069.3M1469.8 1066.4V1124.4M1472.69 1020V1075.1M1475.57 1060.6V1101.2M1478.45 1037.4V1072.2M1481.34 1020V1040.3M1484.22 1008.4V1054.8M1487.11 1051.9V1098.3M1489.99 1054.8V1080.9M1492.87 1046.1V1057.7M1495.76 1054.8V1063.5M1498.64 1049V1060.6M1501.53 1046.1V1069.3M1504.41 1066.4V1089.6M1507.29 1049V1083.8M1510.18 1022.9V1063.5M1513.06 1060.6V1115.7M1515.95 1063.5V1130.2M1518.83 999.7V1066.4M1521.71 1005.5V1049M1524.6 1046.1V1095.4M1527.48 1089.6V1107M1530.37 1054.8V1092.5M1533.25 1008.4V1057.7M1536.13 979.4V1011.3M1539.02 1002.6V1049M1541.9 1046.1V1069.3M1544.79 1043.2V1089.6M1547.67 1086.7V1130.2M1550.55 1063.5V1115.7M1553.44 1025.8V1080.9M1556.32 1078V1133.1M1559.21 1025.8V1080.9M1562.09 1063.5V1118.6M1564.97 1069.3V1130.2M1567.86 993.9V1072.2M1570.74 973.6V1022.9M1573.63 1020V1066.4M1576.51 1060.6V1083.8M1579.39 1080.9V1101.2M1582.28 1049V1095.4M1585.16 1008.4V1051.9M1588.05 1040.3V1075.1M1590.93 1072.2V1078M1593.81 1063.5V1075.1M1596.7 1049V1066.4M1599.58 1034.5V1069.3M1602.47 1066.4V1098.3M1605.35 1046.1V1080.9M1608.23 1034.5V1057.7M1611.12 1034.5V1075.1M1614 993.9V1040.3M1616.89 1037.4V1080.9M1619.77 1049V1066.4M1622.65 1046.1V1051.9M1625.54 1049V1089.6M1628.42 1086.7V1124.4M1631.31 1057.7V1112.8M1634.19 1014.2V1060.6M1637.07 1008.4V1054.8M1639.96 1051.9V1095.4M1642.84 1008.4V1057.7M1645.73 999.7V1054.8M1648.61 1051.9V1104.1M1651.49 1008.4V1060.6M1654.38 1002.6V1069.3M1657.26 1066.4V1130.2M1660.15 1051.9V1092.5M1663.03 1034.5V1054.8M1665.91 1017.1V1057.7M1668.8 1054.8V1095.4M1671.68 1037.4V1072.2M1674.57 1031.6V1107M1677.45 1104.1V1176.6M1680.33 1098.3V1150.5M1683.22 1057.7V1101.2M1686.1 1028.7V1060.6M1688.99 1022.9V1043.2M1691.87 1040.3V1066.4M1694.75 1063.5V1078M1697.64 1075.1V1080.9M1700.52 1060.6V1080.9M1703.41 1040.3V1066.4M1706.29 1063.5V1089.6M1709.17 1057.7V1080.9M1712.06 1040.3V1060.6M1714.94 1031.6V1066.4M1717.83 1063.5V1095.4M1720.71 1054.8V1080.9M1723.59 1028.7V1104.1M1726.48 956.2V1031.6M1729.36 976.5V1020M1732.25 1017.1V1057.7M1735.13 1054.8V1080.9M1738.01 1069.3V1086.7M1740.9 1054.8V1078M1743.78 1075.1V1098.3M1746.67 1063.5V1086.7M1749.55 1054.8V1066.4M1752.43 1057.7V1080.9M1755.32 1072.2V1101.2M1758.2 1037.4V1075.1M1761.09 1028.7V1078M1763.97 1075.1V1121.5M1766.85 1072.2V1112.8M1769.74 1043.2V1075.1M1772.62 1057.7V1072.2M1775.51 1069.3V1092.5M1778.39 1089.6V1109.9M1781.27 1075.1V1095.4M1784.16 1066.4V1092.5M1787.04 1040.3V1069.3M1789.93 1057.7V1083.8M1792.81 1080.9V1092.5M1795.69 1063.5V1095.4M1798.58 1034.5V1066.4M1801.46 1060.6V1086.7M1804.35 1066.4V1080.9M1807.23 1078V1098.3M1810.11 1051.9V1107M1813 999.7V1054.8M1815.88 1008.4V1022.9M1818.77 1020V1054.8M1821.65 1051.9V1089.6M1824.53 1057.7V1095.4M1827.42 1020V1060.6M1830.3 1049V1098.3M1833.19 1002.6V1051.9M1836.07 999.7V1014.2M1838.95 988.1V1002.6M1841.84 999.7V1017.1M1844.72 1014.2V1063.5M1847.61 1060.6V1101.2M1850.49 1022.9V1069.3M1853.37 1066.4V1112.8M1856.26 1020V1072.2M1859.14 1011.3V1022.9M1862.03 1020V1028.7M1864.91 1017.1V1072.2M1867.79 1069.3V1121.5M1870.68 1083.8V1104.1M1873.56 1092.5V1107M1876.45 1057.7V1109.9M1879.33 1002.6V1060.6M1882.21 996.8V1046.1M1885.1 1043.2V1089.6M1887.98 1025.8V1060.6M1890.87 1022.9V1028.7M1893.75 1017.1V1075.1M1896.63 1072.2V1130.2M1899.52 1022.9V1083.8M1902.4 1008.4V1089.6M1905.29 1086.7V1167.9M1908.17 1014.2V1092.5M1911.05 1054.8V1104.1M1913.94 1072.2V1112.8M1916.82 1011.3V1075.1M1919.71 985.2V1014.2M1922.59 999.7V1066.4M1925.47 1063.5V1112.8M1928.36 1054.8V1107M1931.24 1011.3V1072.2M1934.13 1069.3V1130.2M1937.01 1011.3V1072.2M1939.89 1040.3V1078M1942.78 1069.3V1086.7M1945.66 1054.8V1072.2M1948.55 1034.5V1060.6M1951.43 1002.6V1037.4M1954.31 991V1034.5M1957.2 1031.6V1072.2M1960.08 1008.4V1043.2M1962.97 1025.8V1060.6M1965.85 1057.7V1075.1M1968.73 1037.4V1063.5M1971.62 1028.7V1080.9M1974.5 1078V1127.3M1977.39 1054.8V1115.7M1980.27 1011.3V1057.7M1983.15 1054.8V1109.9M1986.04 1051.9V1118.6M1988.92 985.2V1054.8M1991.81 1014.2V1043.2M1994.69 999.7V1022.9M1997.57 1005.5V1049M2000.46 1037.4V1083.8M2003.34 993.9V1040.3M2006.23 1020V1069.3M2009.11 1066.4V1092.5M2011.99 1028.7V1078M2014.88 988.1V1031.6M2017.76 976.5V1037.4M2020.65 1034.5V1095.4M2023.53 1057.7V1083.8M2026.41 1049V1060.6M2029.3 1037.4V1066.4M2032.18 1008.4V1040.3M2035.07 1020V1031.6M2037.95 1011.3V1069.3M2040.83 1066.4V1124.4M2043.72 1011.3V1069.3M2046.6 1051.9V1112.8M2049.49 991V1054.8M2052.37 1040.3V1089.6M2055.25 1043.2V1069.3M2058.14 1034.5V1049M2061.02 1017.1V1037.4M2063.91 1011.3V1078M2066.79 1075.1V1141.8M2069.67 1054.8V1101.2M2072.56 1043.2V1112.8M2075.44 973.6V1046.1M2078.33 988.1V1011.3M2081.21 1008.4V1051.9M2084.09 1049V1080.9M2086.98 1017.1V1066.4M2089.86 985.2V1034.5M2092.75 1031.6V1080.9M2095.63 1031.6V1069.3M2098.51 1008.4V1034.5M2101.4 1028.7V1051.9M2104.28 1005.5V1031.6M2107.17 1011.3V1043.2M2110.05 1040.3V1078M2112.93 1072.2V1089.6M2115.82 1057.7V1080.9M2118.7 1078V1098.3M2121.59 1046.1V1092.5M2124.47 1002.6V1049M2127.35 991V1034.5M2130.24 1031.6V1072.2M2133.12 1020V1063.5M2136.01 1060.6V1104.1M2138.89 1066.4V1086.7M2141.77 1069.3V1075.1M2144.66 1037.4V1072.2M2147.54 1008.4V1072.2M2150.43 1069.3V1130.2M2153.31 1060.6V1121.5M2156.19 1011.3V1063.5M2159.08 1011.3V1017.1M2161.96 1014.2V1057.7M2164.85 1034.5V1092.5M2167.73 979.4V1037.4M2170.61 1002.6V1063.5M2173.5 1060.6V1098.3M2176.38 1054.8V1078M2179.27 1034.5V1057.7M2182.15 1011.3V1060.6M2185.03 1043.2V1104.1M2187.92 982.3V1054.8M2190.8 1051.9V1124.4M2193.69 1008.4V1069.3M2196.57 1017.1V1025.8M2199.45 1020V1057.7M2202.34 1054.8V1092.5M2205.22 1043.2V1078M2208.11 1025.8V1075.1M2210.99 1063.5V1121.5M2213.87 1008.4V1066.4M2216.76 1011.3V1069.3M2219.64 1066.4V1121.5M2222.53 1043.2V1112.8M2225.41 982.3V1046.1M2228.29 996.8V1025.8M2231.18 1022.9V1072.2M2234.06 1069.3V1101.2M2236.95 1034.5V1080.9M2239.83 996.8V1037.4M2242.71 979.4V999.7M2245.6 988.1V1005.5M2248.48 1002.6V1014.2M2251.37 1002.6V1011.3M2254.25 999.7V1017.1M2257.13 1014.2V1066.4M2260.02 1063.5V1104.1M2262.9 1043.2V1083.8M2265.79 1080.9V1124.4M2268.67 1095.4V1127.3M2271.55 1063.5V1107M2274.44 1101.2V1147.6M2277.32 1031.6V1104.1M2280.21 1002.6V1034.5M2283.09 1008.4V1028.7M2285.97 1025.8V1078M2288.86 1075.1V1141.8M2291.74 1089.6V1167.9M2294.63 1011.3V1092.5M2297.51 1008.4V1075.1M2300.39 1072.2V1138.9M2303.28 1092.5V1124.4M2306.16 1049V1095.4M2309.05 1017.1V1051.9M2311.93 1037.4V1080.9M2314.81 1063.5V1098.3M2317.7 1014.2V1066.4M2320.58 996.8V1025.8M2323.47 1022.9V1080.9M2326.35 1069.3V1112.8M2329.23 1017.1V1072.2M2332.12 1002.6V1022.9M2335 1020V1063.5M2337.89 1051.9V1089.6M2340.77 1017.1V1054.8M2343.65 1022.9V1049M2346.54 1037.4V1066.4M2349.42 1008.4V1072.2M2352.31 1069.3V1130.2M2355.19 1051.9V1098.3M2358.07 1034.5V1054.8M2360.96 1028.7V1069.3M2363.84 1066.4V1107M2366.73 1028.7V1069.3M2369.61 1043.2V1066.4M2372.49 1025.8V1069.3M2375.38 985.2V1043.2M2378.26 1040.3V1095.4M2381.15 1025.8V1063.5M2384.03 1054.8V1086.7M2386.91 1040.3V1066.4"/>
<path class="v" d="M131.63 1092.5v20.3M134.51 1046.1v20.3M137.39 1060.6v20.3M140.28 1063.5v20.3M143.16 1075.1v20.3M146.05 1063.5v20.3M148.93 1034.5v20.3M151.81 1075.1v20.3M154.7 1046.1v20.3M157.58 1092.5v20.3M160.47 1080.9v20.3M163.35 1014.2v20.3M166.23 976.5v20.3M169.12 1083.8v20.3M172 1101.2v20.3M174.89 1109.9v20.3M177.77 1051.9v20.3M180.65 1057.7v20.3M183.54 1008.4v20.3M186.42 1101.2v20.3M189.31 1060.6v20.3M192.19 996.8v20.3M195.07 1011.3v20.3M197.96 1046.1v20.3M200.84 1040.3v20.3M203.73 1072.2v20.3M206.61 1078v20.3M209.49 1098.3v20.3M212.38 1040.3v20.3M215.26 1115.7v20.3M218.15 1017.1v20.3M221.03 1092.5v20.3M223.91 1002.6v20.3M226.8 1028.7v20.3M229.68 979.4v20.3M232.57 1002.6v20.3M235.45 1075.1v20.3M238.33 1078v20.3M241.22 1022.9v20.3M244.1 1109.9v20.3M246.99 1046.1v20.3M249.87 956.2v20.3M252.75 1046.1v20.3M255.64 1083.8v20.3M258.52 1049v20.3M261.41 991v20.3M264.29 1075.1v20.3M267.17 1002.6v20.3M270.06 1066.4v20.3M272.94 1051.9v20.3M275.83 1089.6v20.3M278.71 1028.7v20.3M281.59 1034.5v20.3M284.48 1034.5v20.3M287.36 996.8v20.3M290.25 1011.3v20.3M293.13 1078v20.3M296.01 1014.2v20.3M298.9 1098.3v20.3M301.78 1060.6v20.3M304.67 1104.1v20.3M307.55 1089.6v20.3M310.43 1025.8v20.3M313.32 1017.1v20.3M316.2 1060.6v20.3M319.09 1098.3v20.3M321.97 1022.9v20.3M324.85 1147.6v20.3M327.74 1043.2v20.3M330.62 1043.2v20.3M333.51 1107v20.3M336.39 1083.8v20.3M339.27 996.8v20.3M342.16 1049v20.3M345.04 1098.3v20.3M347.93 1083.8v20.3M350.81 1095.4v20.3M353.69 1020v20.3M356.58 1115.7v20.3M359.46 1054.8v20.3M362.35 1043.2v20.3M365.23 1069.3v20.3M368.11 1008.4v20.3M371 993.9v20.3M373.88 1034.5v20.3M376.77 1049v20.3M379.65 1075.1v20.3M382.53 1072.2v20.3M385.42 1092.5v20.3M388.3 973.6v20.3M391.19 1098.3v20.3M394.07 1118.6v20.3M396.95 1098.3v20.3M399.84 1046.1v20.3M402.72 1040.3v20.3M405.61 1115.7v20.3M408.49 1057.7v20.3M411.37 985.2v20.3M414.26 1031.6v20.3M417.14 1031.6v20.3M420.03 1028.7v20.3M422.91 1049v20.3M425.79 1086.7v20.3M428.68 1066.4v20.3M431.56 1040.3v20.3M434.45 1066.4v20.3M437.33 1025.8v20.3M440.21 973.6v20.3M443.1 1049v20.3M445.98 1002.6v20.3M448.87 1104.1v20.3M451.75 1031.6v20.3M454.63 1083.8v20.3M457.52 1034.5v20.3M460.4 1072.2v20.3M463.29 1008.4v20.3M466.17 1075.1v20.3M469.05 1022.9v20.3M471.94 999.7v20.3M474.82 1022.9v20.3M477.71 1037.4v20.3M480.59 1034.5v20.3M483.47 1124.4v20.3M486.36 1089.6v20.3M489.24 1072.2v20.3M492.13 1031.6v20.3M495.01 1098.3v20.3M497.89 1078v20.3M500.78 1025.8v20.3M503.66 1133.1v20.3M506.55 1025.8v20.3M509.43 1133.1v20.3M512.31 1118.6v20.3M515.2 999.7v20.3M518.08 1086.7v20.3M520.97 1075.1v20.3M523.85 1078v20.3M526.73 1005.5v20.3M529.62 1066.4v20.3M532.5 1066.4v20.3M535.39 1017.1v20.3M538.27 1078v20.3M541.15 1020v20.3M544.04 1063.5v20.3M546.92 1034.5v20.3M549.81 1020v20.3M552.69 1072.2v20.3M555.57 991v20.3M558.46 1020v20.3M561.34 1025.8v20.3M564.23 1037.4v20.3M567.11 1046.1v20.3M569.99 1046.1v20.3M572.88 1037.4v20.3M575.76 979.4v20.3M578.65 1078v20.3M581.53 1008.4v20.3M584.41 1022.9v20.3M587.3 1002.6v20.3M590.18 991v20.3M593.07 1095.4v20.3M595.95 1014.2v20.3M598.83 1109.9v20.3M601.72 1022.9v20.3M604.6 1095.4v20.3M607.49 1046.1v20.3M610.37 1025.8v20.3M613.25 1066.4v20.3M616.14 1069.3v20.3M619.02 1104.1v20.3M621.91 1020v20.3M624.79 1130.2v20.3M627.67 999.7v20.3M630.56 1008.4v20.3M633.44 1104.1v20.3M636.33 1069.3v20.3M639.21 1060.6v20.3M642.09 979.4v20.3M644.98 1002.6v20.3M647.86 1002.6v20.3M650.75 1080.9v20.3M653.63 1049v20.3M656.51 1066.4v20.3M659.4 1014.2v20.3M662.28 1086.7v20.3M665.17 1022.9v20.3M668.05 1083.8v20.3M670.93 999.7v20.3M673.82 1104.1v20.3M676.7 1063.5v20.3M679.59 1069.3v20.3M682.47 1022.9v20.3M685.35 1020v20.3M688.24 1049v20.3M691.12 921.4v20.3M694.01 1115.7v20.3M696.89 993.9v20.3M699.77 1089.6v20.3M702.66 1095.4v20.3M705.54 1005.5v20.3M708.43 1095.4v20.3M711.31 1066.4v20.3M714.19 1121.5v20.3M717.08 1054.8v20.3M719.96 1005.5v20.3M722.85 1101.2v20.3M725.73 993.9v20.3M728.61 1138.9v20.3M731.5 1008.4v20.3M734.38 1092.5v20.3M737.27 1051.9v20.3M740.15 1095.4v20.3M743.03 1066.4v20.3M745.92 1057.7v20.3M748.8 1017.1v20.3M751.69 993.9v20.3M754.57 1069.3v20.3M757.45 1054.8v20.3M760.34 1092.5v20.3M763.22 1022.9v20.3M766.11 1069.3v20.3M768.99 1017.1v20.3M771.87 1078v20.3M774.76 1011.3v20.3M777.64 991v20.3M780.53 1075.1v20.3M783.41 1046.1v20.3M786.29 1005.5v20.3M789.18 1072.2v20.3M792.06 1022.9v20.3M794.95 1098.3v20.3M797.83 1066.4v20.3M800.71 1057.7v20.3M803.6 1017.1v20.3M806.48 1083.8v20.3M809.37 1057.7v20.3M812.25 959.1v20.3M815.13 1095.4v20.3M818.02 1040.3v20.3M820.9 1115.7v20.3M823.79 1005.5v20.3M826.67 1089.6v20.3M829.55 1092.5v20.3M832.44 1057.7v20.3M835.32 1049v20.3M838.21 1046.1v20.3M841.09 1014.2v20.3M843.97 1069.3v20.3M846.86 1011.3v20.3M849.74 991v20.3M852.63 1060.6v20.3M855.51 979.4v20.3M858.39 1063.5v20.3M861.28 1028.7v20.3M864.16 1037.4v20.3M867.05 1028.7v20.3M869.93 1069.3v20.3M872.81 1060.6v20.3M875.7 1063.5v20.3M878.58 1086.7v20.3M881.47 1075.1v20.3M884.35 1037.4v20.3M887.23 1089.6v20.3M890.12 1066.4v20.3M893 1025.8v20.3M895.89 1080.9v20.3M898.77 1057.7v20.3M901.65 1025.8v20.3M904.54 1051.9v20.3M907.42 1037.4v20.3M910.31 1098.3v20.3M913.19 1057.7v20.3M916.07 1095.4v20.3M918.96 1028.7v20.3M921.84 1124.4v20.3M924.73 1086.7v20.3M927.61 1028.7v20.3M930.49 1072.2v20.3M933.38 1098.3v20.3M936.26 1049v20.3M939.15 947.5v20.3M942.03 1069.3v20.3M944.91 1022.9v20.3M947.8 1092.5v20.3M950.68 1046.1v20.3M953.57 1014.2v20.3M956.45 1057.7v20.3M959.33 1022.9v20.3M962.22 1069.3v20.3M965.1 1022.9v20.3M967.99 1066.4v20.3M970.87 1025.8v20.3M973.75 999.7v20.3M976.64 962v20.3M979.52 1083.8v20.3M982.41 1101.2v20.3M985.29 1049v20.3M988.17 1107v20.3M991.06 1002.6v20.3M993.94 1112.8v20.3M996.83 1037.4v20.3M999.71 1028.7v20.3M1002.59 1063.5v20.3M1005.48 1005.5v20.3M1008.36 1078v20.3M1011.25 1020v20.3M1014.13 1028.7v20.3M1017.01 1002.6v20.3M1019.9 1075.1v20.3M1022.78 1046.1v20.3M1025.67 1046.1v20.3M1028.55 1025.8v20.3M1031.43 1051.9v20.3M1034.32 1020v20.3M1037.2 1008.4v20.3M1040.09 1057.7v20.3M1042.97 1080.9v20.3M1045.85 1014.2v20.3M1048.74 1017.1v20.3M1051.62 1049v20.3M1054.51 962v20.3M1057.39 1002.6v20.3M1060.27 1020v20.3M1063.16 1078v20.3M1066.04 1043.2v20.3M1068.93 1046.1v20.3M1071.81 1069.3v20.3M1074.69 1043.2v20.3M1077.58 1069.3v20.3M1080.46 1002.6v20.3M1083.35 959.1v20.3M1086.23 1028.7v20.3M1089.11 1011.3v20.3M1092 1086.7v20.3M1094.88 1086.7v20.3M1097.77 1002.6v20.3M1100.65 1127.3v20.3M1103.53 1133.1v20.3M1106.42 962v20.3M1109.3 1034.5v20.3M1112.19 1095.4v20.3M1115.07 1008.4v20.3M1117.95 1051.9v20.3M1120.84 1107v20.3M1123.72 1092.5v20.3M1126.61 1034.5v20.3M1129.49 1089.6v20.3M1132.37 1072.2v20.3M1135.26 1083.8v20.3M1138.14 1025.8v20.3M1141.03 1092.5v20.3M1143.91 1049v20.3M1146.79 1017.1v20.3M1149.68 1127.3v20.3M1152.56 996.8v20.3M1155.45 1101.2v20.3M1158.33 1051.9v20.3M1161.21 1133.1v20.3M1164.1 1063.5v20.3M1166.98 1060.6v20.3M1169.87 991v20.3M1172.75 1101.2v20.3M1175.63 1031.6v20.3M1178.52 1127.3v20.3M1181.4 1034.5v20.3M1184.29 1101.2v20.3M1187.17 1040.3v20.3M1190.05 1069.3v20.3M1192.94 1043.2v20.3M1195.82 1095.4v20.3M1198.71 1078v20.3M1201.59 1060.6v20.3M1204.47 1031.6v20.3M1207.36 1060.6v20.3M1210.24 1008.4v20.3M1213.13 1031.6v20.3M1216.01 1025.8v20.3M1218.89 1028.7v20.3M1221.78 1075.1v20.3M1224.66 1086.7v20.3M1227.55 1040.3v20.3M1230.43 1057.7v20.3M1233.31 1005.5v20.3M1236.2 1075.1v20.3M1239.08 1057.7v20.3M1241.97 1005.5v20.3M1244.85 1089.6v20.3M1247.73 1031.6v20.3M1250.62 1072.2v20.3M1253.5 1083.8v20.3M1256.39 1049v20.3M1259.27 1043.2v20.3M1262.15 1066.4v20.3M1265.04 1028.7v20.3M1267.92 1075.1v20.3M1270.81 1011.3v20.3M1273.69 985.2v20.3M1276.57 1069.3v20.3M1279.46 1008.4v20.3M1282.34 1014.2v20.3M1285.23 1075.1v20.3M1288.11 1014.2v20.3M1290.99 1078v20.3M1293.88 1060.6v20.3M1296.76 1095.4v20.3M1299.65 991v20.3M1302.53 1078v20.3M1305.41 1005.5v20.3M1308.3 993.9v20.3M1311.18 1034.5v20.3M1314.07 1083.8v20.3M1316.95 1005.5v20.3M1319.83 1112.8v20.3M1322.72 1008.4v20.3M1325.6 1086.7v20.3M1328.49 1005.5v20.3M1331.37 993.9v20.3M1334.25 1072.2v20.3M1337.14 1014.2v20.3M1340.02 1043.2v20.3M1342.91 1072.2v20.3M1345.79 1046.1v20.3M1348.67 1037.4v20.3M1351.56 1083.8v20.3M1354.44 1025.8v20.3M1357.33 1069.3v20.3M1360.21 1092.5v20.3M1363.09 1078v20.3M1365.98 1066.4v20.3M1368.86 1046.1v20.3M1371.75 1040.3v20.3M1374.63 1054.8v20.3M1377.51 991v20.3M1380.4 1066.4v20.3M1383.28 1124.4v20.3M1386.17 1002.6v20.3M1389.05 1095.4v20.3M1391.93 991v20.3M1394.82 1092.5v20.3M1397.7 1083.8v20.3M1400.59 991v20.3M1403.47 1005.5v20.3M1406.35 1060.6v20.3M1409.24 1086.7v20.3M1412.12 1095.4v20.3M1415.01 1109.9v20.3M1417.89 1066.4v20.3M1420.77 1066.4v20.3M1423.66 1118.6v20.3M1426.54 1011.3v20.3M1429.43 1086.7v20.3M1432.31 973.6v20.3M1435.19 1080.9v20.3M1438.08 1109.9v20.3M1440.96 1034.5v20.3M1443.85 1031.6v20.3M1446.73 1104.1v20.3M1449.61 985.2v20.3M1452.5 1078v20.3M1455.38 1031.6v20.3M1458.27 979.4v20.3M1461.15 1037.4v20.3M1464.03 1078v20.3M1466.92 999.7v20.3M1469.8 1112.8v20.3M1472.69 1011.3v20.3M1475.57 1089.6v20.3M1478.45 1031.6v20.3M1481.34 1022.9v20.3M1484.22 999.7v20.3M1487.11 1086.7v20.3M1489.99 1051.9v20.3M1492.87 1037.4v20.3M1495.76 1051.9v20.3M1498.64 1043.2v20.3M1501.53 1037.4v20.3M1504.41 1078v20.3M1507.29 1063.5v20.3M1510.18 1014.2v20.3M1513.06 1086.7v20.3M1515.95 1118.6v20.3M1518.83 991v20.3M1521.71 1002.6v20.3M1524.6 1069.3v20.3M1527.48 1095.4v20.3M1530.37 1063.5v20.3M1533.25 1025.8v20.3M1536.13 970.7v20.3M1539.02 1014.2v20.3M1541.9 1057.7v20.3M1544.79 1034.5v20.3M1547.67 1118.6v20.3M1550.55 1089.6v20.3M1553.44 1017.1v20.3M1556.32 1121.5v20.3M1559.21 1017.1v20.3M1562.09 1092.5v20.3M1564.97 1118.6v20.3M1567.86 1002.6v20.3M1570.74 964.9v20.3M1573.63 1054.8v20.3M1576.51 1051.9v20.3M1579.39 1089.6v20.3M1582.28 1078v20.3M1585.16 999.7v20.3M1588.05 1060.6v20.3M1590.93 1066.4v20.3M1593.81 1057.7v20.3M1596.7 1051.9v20.3M1599.58 1025.8v20.3M1602.47 1086.7v20.3M1605.35 1049v20.3M1608.23 1025.8v20.3M1611.12 1063.5v20.3M1614 985.2v20.3M1616.89 1069.3v20.3M1619.77 1040.3v20.3M1622.65 1037.4v20.3M1625.54 1040.3v20.3M1628.42 1112.8v20.3M1631.31 1086.7v20.3M1634.19 1011.3v20.3M1637.07 999.7v20.3M1639.96 1083.8v20.3M1642.84 1005.5v20.3M1645.73 991v20.3M1648.61 1092.5v20.3M1651.49 1005.5v20.3M1654.38 993.9v20.3M1657.26 1118.6v20.3M1660.15 1043.2v20.3M1663.03 1043.2v20.3M1665.91 1008.4v20.3M1668.8 1083.8v20.3M1671.68 1034.5v20.3M1674.57 1022.9v20.3M1677.45 1165v20.3M1680.33 1109.9v20.3M1683.22 1069.3v20.3M1686.1 1025.8v20.3M1688.99 1014.2v20.3M1691.87 1046.1v20.3M1694.75 1063.5v20.3M1697.64 1066.4v20.3M1700.52 1069.3v20.3M1703.41 1031.6v20.3M1706.29 1078v20.3M1709.17 1057.7v20.3M1712.06 1037.4v20.3M1714.94 1022.9v20.3M1717.83 1083.8v20.3M1720.71 1046.1v20.3M1723.59 1092.5v20.3M1726.48 947.5v20.3M1729.36 985.2v20.3M1732.25 1031.6v20.3M1735.13 1060.6v20.3M1738.01 1075.1v20.3M1740.9 1046.1v20.3M1743.78 1086.7v20.3M1746.67 1060.6v20.3M1749.55 1046.1v20.3M1752.43 1049v20.3M1755.32 1089.6v20.3M1758.2 1037.4v20.3M1761.09 1020v20.3M1763.97 1109.9v20.3M1766.85 1089.6v20.3M1769.74 1034.5v20.3M1772.62 1060.6v20.3M1775.51 1060.6v20.3M1778.39 1098.3v20.3M1781.27 1066.4v20.3M1784.16 1080.9v20.3M1787.04 1031.6v20.3M1789.93 1066.4v20.3M1792.81 1075.1v20.3M1795.69 1083.8v20.3M1798.58 1025.8v20.3M1801.46 1075.1v20.3M1804.35 1057.7v20.3M1807.23 1078v20.3M1810.11 1095.4v20.3M1813 991v20.3M1815.88 1005.5v20.3M1818.77 1017.1v20.3M1821.65 1069.3v20.3M1824.53 1083.8v20.3M1827.42 1011.3v20.3M1830.3 1086.7v20.3M1833.19 993.9v20.3M1836.07 1002.6v20.3M1838.95 979.4v20.3M1841.84 999.7v20.3M1844.72 1011.3v20.3M1847.61 1089.6v20.3M1850.49 1014.2v20.3M1853.37 1101.2v20.3M1856.26 1020v20.3M1859.14 1002.6v20.3M1862.03 1017.1v20.3M1864.91 1008.4v20.3M1867.79 1109.9v20.3M1870.68 1075.1v20.3M1873.56 1089.6v20.3M1876.45 1098.3v20.3M1879.33 999.7v20.3M1882.21 988.1v20.3M1885.1 1078v20.3M1887.98 1017.1v20.3M1890.87 1017.1v20.3M1893.75 1008.4v20.3M1896.63 1118.6v20.3M1899.52 1025.8v20.3M1902.4 999.7v20.3M1905.29 1156.3v20.3M1908.17 1005.5v20.3M1911.05 1083.8v20.3M1913.94 1101.2v20.3M1916.82 1025.8v20.3M1919.71 976.5v20.3M1922.59 1005.5v20.3M1925.47 1101.2v20.3M1928.36 1089.6v20.3M1931.24 1002.6v20.3M1934.13 1118.6v20.3M1937.01 1002.6v20.3M1939.89 1057.7v20.3M1942.78 1075.1v20.3M1945.66 1046.1v20.3M1948.55 1049v20.3M1951.43 1002.6v20.3M1954.31 982.3v20.3M1957.2 1060.6v20.3M1960.08 999.7v20.3M1962.97 1031.6v20.3M1965.85 1063.5v20.3M1968.73 1037.4v20.3M1971.62 1020v20.3M1974.5 1115.7v20.3M1977.39 1089.6v20.3M1980.27 1002.6v20.3M1983.15 1086.7v20.3M1986.04 1107v20.3M1988.92 976.5v20.3M1991.81 1031.6v20.3M1994.69 991v20.3M1997.57 1002.6v20.3M2000.46 1072.2v20.3M2003.34 985.2v20.3M2006.23 1034.5v20.3M2009.11 1080.9v20.3M2011.99 1051.9v20.3M2014.88 988.1v20.3M2017.76 967.8v20.3M2020.65 1083.8v20.3M2023.53 1057.7v20.3M2026.41 1040.3v20.3M2029.3 1054.8v20.3M2032.18 999.7v20.3M2035.07 1020v20.3M2037.95 1002.6v20.3M2040.83 1112.8v20.3M2043.72 1002.6v20.3M2046.6 1101.2v20.3M2049.49 982.3v20.3M2052.37 1078v20.3M2055.25 1034.5v20.3M2058.14 1037.4v20.3M2061.02 1011.3v20.3M2063.91 1002.6v20.3M2066.79 1130.2v20.3M2069.67 1046.1v20.3M2072.56 1101.2v20.3M2075.44 964.9v20.3M2078.33 991v20.3M2081.21 1008.4v20.3M2084.09 1069.3v20.3M2086.98 1040.3v20.3M2089.86 976.5v20.3M2092.75 1069.3v20.3M2095.63 1043.2v20.3M2098.51 999.7v20.3M2101.4 1040.3v20.3M2104.28 996.8v20.3M2107.17 1008.4v20.3M2110.05 1051.9v20.3M2112.93 1078v20.3M2115.82 1049v20.3M2118.7 1086.7v20.3M2121.59 1072.2v20.3M2124.47 1002.6v20.3M2127.35 982.3v20.3M2130.24 1060.6v20.3M2133.12 1011.3v20.3M2136.01 1092.5v20.3M2138.89 1057.7v20.3M2141.77 1063.5v20.3M2144.66 1054.8v20.3M2147.54 999.7v20.3M2150.43 1118.6v20.3M2153.31 1098.3v20.3M2156.19 1002.6v20.3M2159.08 1002.6v20.3M2161.96 1008.4v20.3M2164.85 1080.9v20.3M2167.73 970.7v20.3M2170.61 1014.2v20.3M2173.5 1086.7v20.3M2176.38 1046.1v20.3M2179.27 1046.1v20.3M2182.15 1002.6v20.3M2185.03 1092.5v20.3M2187.92 973.6v20.3M2190.8 1112.8v20.3M2193.69 999.7v20.3M2196.57 1014.2v20.3M2199.45 1011.3v20.3M2202.34 1080.9v20.3M2205.22 1049v20.3M2208.11 1017.1v20.3M2210.99 1109.9v20.3M2213.87 999.7v20.3M2216.76 1005.5v20.3M2219.64 1109.9v20.3M2222.53 1092.5v20.3M2225.41 973.6v20.3M2228.29 999.7v20.3M2231.18 1028.7v20.3M2234.06 1089.6v20.3M2236.95 1049v20.3M2239.83 1002.6v20.3M2242.71 970.7v20.3M2245.6 985.2v20.3M2248.48 1002.6v20.3M2251.37 993.9v20.3M2254.25 991v20.3M2257.13 1017.1v20.3M2260.02 1092.5v20.3M2262.9 1034.5v20.3M2265.79 1107v20.3M2268.67 1115.7v20.3M2271.55 1054.8v20.3M2274.44 1136v20.3M2277.32 1049v20.3M2280.21 993.9v20.3M2283.09 1005.5v20.3M2285.97 1028.7v20.3M2288.86 1101.2v20.3M2291.74 1156.3v20.3M2294.63 1005.5v20.3M2297.51 999.7v20.3M2300.39 1127.3v20.3M2303.28 1095.4v20.3M2306.16 1072.2v20.3M2309.05 1008.4v20.3M2311.93 1049v20.3M2314.81 1086.7v20.3M2317.7 1022.9v20.3M2320.58 988.1v20.3M2323.47 1037.4v20.3M2326.35 1101.2v20.3M2329.23 1020v20.3M2332.12 993.9v20.3M2335 1025.8v20.3M2337.89 1078v20.3M2340.77 1008.4v20.3M2343.65 1017.1v20.3M2346.54 1054.8v20.3M2349.42 999.7v20.3M2352.31 1118.6v20.3M2355.19 1051.9v20.3M2358.07 1031.6v20.3M2360.96 1020v20.3M2363.84 1095.4v20.3M2366.73 1020v20.3M2369.61 1049v20.3M2372.49 1057.7v20.3M2375.38 976.5v20.3M2378.26 1083.8v20.3M2381.15 1017.1v20.3M2384.03 1075.1v20.3M2386.91 1031.6v20.3"/>
<path class="h" d="M121.53 1102.65h20.19M124.42 1056.25h20.19M127.3 1070.75h20.19M130.18 1073.65h20.19M133.07 1085.25h20.19M135.95 1073.65h20.19M138.84 1044.65h20.19M141.72 1085.25h20.19M144.6 1056.25h20.19M147.49 1102.65h20.19M150.37 1091.05h20.19M153.26 1024.35h20.19M156.14 986.65h20.19M159.02 1093.95h20.19M161.91 1111.35h20.19M164.79 1120.05h20.19M167.68 1062.05h20.19M170.56 1067.85h20.19M173.44 1018.55h20.19M176.33 1111.35h20.19M179.21 1070.75h20.19M182.1 1006.95h20.19M184.98 1021.45h20.19M187.86 1056.25h20.19M190.75 1050.45h20.19M193.63 1082.35h20.19M196.52 1088.15h20.19M199.4 1108.45h20.19M202.28 1050.45h20.19M205.17 1125.85h20.19M208.05 1027.25h20.19M210.94 1102.65h20.19M213.82 1012.75h20.19M216.7 1038.85h20.19M219.59 989.55h20.19M222.47 1012.75h20.19M225.36 1085.25h20.19M228.24 1088.15h20.19M231.12 1033.05h20.19M234.01 1120.05h20.19M236.89 1056.25h20.19M239.78 966.35h20.19M242.66 1056.25h20.19M245.54 1093.95h20.19M248.43 1059.15h20.19M251.31 1001.15h20.19M254.2 1085.25h20.19M257.08 1012.75h20.19M259.96 1076.55h20.19M262.85 1062.05h20.19M265.73 1099.75h20.19M268.62 1038.85h20.19M271.5 1044.65h20.19M274.38 1044.65h20.19M277.27 1006.95h20.19M280.15 1021.45h20.19M283.04 1088.15h20.19M285.92 1024.35h20.19M288.8 1108.45h20.19M291.69 1070.75h20.19M294.57 1114.25h20.19M297.46 1099.75h20.19M300.34 1035.95h20.19M303.22 1027.25h20.19M306.11 1070.75h20.19M308.99 1108.45h20.19M311.88 1033.05h20.19M314.76 1157.75h20.19M317.64 1053.35h20.19M320.53 1053.35h20.19M323.41 1117.15h20.19M326.3 1093.95h20.19M329.18 1006.95h20.19M332.06 1059.15h20.19M334.95 1108.45h20.19M337.83 1093.95h20.19M340.72 1105.55h20.19M343.6 1030.15h20.19M346.48 1125.85h20.19M349.37 1064.95h20.19M352.25 1053.35h20.19M355.14 1079.45h20.19M358.02 1018.55h20.19M360.9 1004.05h20.19M363.79 1044.65h20.19M366.67 1059.15h20.19M369.56 1085.25h20.19M372.44 1082.35h20.19M375.32 1102.65h20.19M378.21 983.75h20.19M381.09 1108.45h20.19M383.98 1128.75h20.19M386.86 1108.45h20.19M389.74 1056.25h20.19M392.63 1050.45h20.19M395.51 1125.85h20.19M398.4 1067.85h20.19M401.28 995.35h20.19M404.16 1041.75h20.19M407.05 1041.75h20.19M409.93 1038.85h20.19M412.82 1059.15h20.19M415.7 1096.85h20.19M418.58 1076.55h20.19M421.47 1050.45h20.19M424.35 1076.55h20.19M427.24 1035.95h20.19M430.12 983.75h20.19M433 1059.15h20.19M435.89 1012.75h20.19M438.77 1114.25h20.19M441.66 1041.75h20.19M444.54 1093.95h20.19M447.42 1044.65h20.19M450.31 1082.35h20.19M453.19 1018.55h20.19M456.08 1085.25h20.19M458.96 1033.05h20.19M461.84 1009.85h20.19M464.73 1033.05h20.19M467.61 1047.55h20.19M470.5 1044.65h20.19M473.38 1134.55h20.19M476.26 1099.75h20.19M479.15 1082.35h20.19M482.03 1041.75h20.19M484.92 1108.45h20.19M487.8 1088.15h20.19M490.68 1035.95h20.19M493.57 1143.25h20.19M496.45 1035.95h20.19M499.34 1143.25h20.19M502.22 1128.75h20.19M505.1 1009.85h20.19M507.99 1096.85h20.19M510.87 1085.25h20.19M513.76 1088.15h20.19M516.64 1015.65h20.19M519.52 1076.55h20.19M522.41 1076.55h20.19M525.29 1027.25h20.19M528.18 1088.15h20.19M531.06 1030.15h20.19M533.94 1073.65h20.19M536.83 1044.65h20.19M539.71 1030.15h20.19M542.6 1082.35h20.19M545.48 1001.15h20.19M548.36 1030.15h20.19M551.25 1035.95h20.19M554.13 1047.55h20.19M557.02 1056.25h20.19M559.9 1056.25h20.19M562.78 1047.55h20.19M565.67 989.55h20.19M568.55 1088.15h20.19M571.44 1018.55h20.19M574.32 1033.05h20.19M577.2 1012.75h20.19M580.09 1001.15h20.19M582.97 1105.55h20.19M585.86 1024.35h20.19M588.74 1120.05h20.19M591.62 1033.05h20.19M594.51 1105.55h20.19M597.39 1056.25h20.19M600.28 1035.95h20.19M603.16 1076.55h20.19M606.04 1079.45h20.19M608.93 1114.25h20.19M611.81 1030.15h20.19M614.7 1140.35h20.19M617.58 1009.85h20.19M620.46 1018.55h20.19M623.35 1114.25h20.19M626.23 1079.45h20.19M629.12 1070.75h20.19M632 989.55h20.19M634.88 1012.75h20.19M637.77 1012.75h20.19M640.65 1091.05h20.19M643.54 1059.15h20.19M646.42 1076.55h20.19M649.3 1024.35h20.19M652.19 1096.85h20.19M655.07 1033.05h20.19M657.96 1093.95h20.19M660.84 1009.85h20.19M663.72 1114.25h20.19M666.61 1073.65h20.19M669.49 1079.45h20.19M672.38 1033.05h20.19M675.26 1030.15h20.19M678.14 1059.15h20.19M681.03 931.55h20.19M683.91 1125.85h20.19M686.8 1004.05h20.19M689.68 1099.75h20.19M692.56 1105.55h20.19M695.45 1015.65h20.19M698.33 1105.55h20.19M701.22 1076.55h20.19M704.1 1131.65h20.19M706.98 1064.95h20.19M709.87 1015.65h20.19M712.75 1111.35h20.19M715.64 1004.05h20.19M718.52 1149.05h20.19M721.4 1018.55h20.19M724.29 1102.65h20.19M727.17 1062.05h20.19M730.06 1105.55h20.19M732.94 1076.55h20.19M735.82 1067.85h20.19M738.71 1027.25h20.19M741.59 1004.05h20.19M744.48 1079.45h20.19M747.36 1064.95h20.19M750.24 1102.65h20.19M753.13 1033.05h20.19M756.01 1079.45h20.19M758.9 1027.25h20.19M761.78 1088.15h20.19M764.66 1021.45h20.19M767.55 1001.15h20.19M770.43 1085.25h20.19M773.32 1056.25h20.19M776.2 1015.65h20.19M779.08 1082.35h20.19M781.97 1033.05h20.19M784.85 1108.45h20.19M787.74 1076.55h20.19M790.62 1067.85h20.19M793.5 1027.25h20.19M796.39 1093.95h20.19M799.27 1067.85h20.19M802.16 969.25h20.19M805.04 1105.55h20.19M807.92 1050.45h20.19M810.81 1125.85h20.19M813.69 1015.65h20.19M816.58 1099.75h20.19M819.46 1102.65h20.19M822.34 1067.85h20.19M825.23 1059.15h20.19M828.11 1056.25h20.19M831 1024.35h20.19M833.88 1079.45h20.19M836.76 1021.45h20.19M839.65 1001.15h20.19M842.53 1070.75h20.19M845.42 989.55h20.19M848.3 1073.65h20.19M851.18 1038.85h20.19M854.07 1047.55h20.19M856.95 1038.85h20.19M859.84 1079.45h20.19M862.72 1070.75h20.19M865.6 1073.65h20.19M868.49 1096.85h20.19M871.37 1085.25h20.19M874.26 1047.55h20.19M877.14 1099.75h20.19M880.02 1076.55h20.19M882.91 1035.95h20.19M885.79 1091.05h20.19M888.68 1067.85h20.19M891.56 1035.95h20.19M894.44 1062.05h20.19M897.33 1047.55h20.19M900.21 1108.45h20.19M903.1 1067.85h20.19M905.98 1105.55h20.19M908.86 1038.85h20.19M911.75 1134.55h20.19M914.63 1096.85h20.19M917.52 1038.85h20.19M920.4 1082.35h20.19M923.28 1108.45h20.19M926.17 1059.15h20.19M929.05 957.65h20.19M931.94 1079.45h20.19M934.82 1033.05h20.19M937.7 1102.65h20.19M940.59 1056.25h20.19M943.47 1024.35h20.19M946.36 1067.85h20.19M949.24 1033.05h20.19M952.12 1079.45h20.19M955.01 1033.05h20.19M957.89 1076.55h20.19M960.78 1035.95h20.19M963.66 1009.85h20.19M966.54 972.15h20.19M969.43 1093.95h20.19M972.31 1111.35h20.19M975.2 1059.15h20.19M978.08 1117.15h20.19M980.96 1012.75h20.19M983.85 1122.95h20.19M986.73 1047.55h20.19M989.62 1038.85h20.19M992.5 1073.65h20.19M995.38 1015.65h20.19M998.27 1088.15h20.19M1001.15 1030.15h20.19M1004.04 1038.85h20.19M1006.92 1012.75h20.19M1009.8 1085.25h20.19M1012.69 1056.25h20.19M1015.57 1056.25h20.19M1018.46 1035.95h20.19M1021.34 1062.05h20.19M1024.22 1030.15h20.19M1027.11 1018.55h20.19M1029.99 1067.85h20.19M1032.88 1091.05h20.19M1035.76 1024.35h20.19M1038.64 1027.25h20.19M1041.53 1059.15h20.19M1044.41 972.15h20.19M1047.3 1012.75h20.19M1050.18 1030.15h20.19M1053.06 1088.15h20.19M1055.95 1053.35h20.19M1058.83 1056.25h20.19M1061.72 1079.45h20.19M1064.6 1053.35h20.19M1067.48 1079.45h20.19M1070.37 1012.75h20.19M1073.25 969.25h20.19M1076.14 1038.85h20.19M1079.02 1021.45h20.19M1081.9 1096.85h20.19M1084.79 1096.85h20.19M1087.67 1012.75h20.19M1090.56 1137.45h20.19M1093.44 1143.25h20.19M1096.32 972.15h20.19M1099.21 1044.65h20.19M1102.09 1105.55h20.19M1104.98 1018.55h20.19M1107.86 1062.05h20.19M1110.74 1117.15h20.19M1113.63 1102.65h20.19M1116.51 1044.65h20.19M1119.4 1099.75h20.19M1122.28 1082.35h20.19M1125.16 1093.95h20.19M1128.05 1035.95h20.19M1130.93 1102.65h20.19M1133.82 1059.15h20.19M1136.7 1027.25h20.19M1139.58 1137.45h20.19M1142.47 1006.95h20.19M1145.35 1111.35h20.19M1148.24 1062.05h20.19M1151.12 1143.25h20.19M1154 1073.65h20.19M1156.89 1070.75h20.19M1159.77 1001.15h20.19M1162.66 1111.35h20.19M1165.54 1041.75h20.19M1168.42 1137.45h20.19M1171.31 1044.65h20.19M1174.19 1111.35h20.19M1177.08 1050.45h20.19M1179.96 1079.45h20.19M1182.84 1053.35h20.19M1185.73 1105.55h20.19M1188.61 1088.15h20.19M1191.5 1070.75h20.19M1194.38 1041.75h20.19M1197.26 1070.75h20.19M1200.15 1018.55h20.19M1203.03 1041.75h20.19M1205.92 1035.95h20.19M1208.8 1038.85h20.19M1211.68 1085.25h20.19M1214.57 1096.85h20.19M1217.45 1050.45h20.19M1220.34 1067.85h20.19M1223.22 1015.65h20.19M1226.1 1085.25h20.19M1228.99 1067.85h20.19M1231.87 1015.65h20.19M1234.76 1099.75h20.19M1237.64 1041.75h20.19M1240.52 1082.35h20.19M1243.41 1093.95h20.19M1246.29 1059.15h20.19M1249.18 1053.35h20.19M1252.06 1076.55h20.19M1254.94 1038.85h20.19M1257.83 1085.25h20.19M1260.71 1021.45h20.19M1263.6 995.35h20.19M1266.48 1079.45h20.19M1269.36 1018.55h20.19M1272.25 1024.35h20.19M1275.13 1085.25h20.19M1278.02 1024.35h20.19M1280.9 1088.15h20.19M1283.78 1070.75h20.19M1286.67 1105.55h20.19M1289.55 1001.15h20.19M1292.44 1088.15h20.19M1295.32 1015.65h20.19M1298.2 1004.05h20.19M1301.09 1044.65h20.19M1303.97 1093.95h20.19M1306.86 1015.65h20.19M1309.74 1122.95h20.19M1312.62 1018.55h20.19M1315.51 1096.85h20.19M1318.39 1015.65h20.19M1321.28 1004.05h20.19M1324.16 1082.35h20.19M1327.04 1024.35h20.19M1329.93 1053.35h20.19M1332.81 1082.35h20.19M1335.7 1056.25h20.19M1338.58 1047.55h20.19M1341.46 1093.95h20.19M1344.35 1035.95h20.19M1347.23 1079.45h20.19M1350.12 1102.65h20.19M1353 1088.15h20.19M1355.88 1076.55h20.19M1358.77 1056.25h20.19M1361.65 1050.45h20.19M1364.54 1064.95h20.19M1367.42 1001.15h20.19M1370.3 1076.55h20.19M1373.19 1134.55h20.19M1376.07 1012.75h20.19M1378.96 1105.55h20.19M1381.84 1001.15h20.19M1384.72 1102.65h20.19M1387.61 1093.95h20.19M1390.49 1001.15h20.19M1393.38 1015.65h20.19M1396.26 1070.75h20.19M1399.14 1096.85h20.19M1402.03 1105.55h20.19M1404.91 1120.05h20.19M1407.8 1076.55h20.19M1410.68 1076.55h20.19M1413.56 1128.75h20.19M1416.45 1021.45h20.19M1419.33 1096.85h20.19M1422.22 983.75h20.19M1425.1 1091.05h20.19M1427.98 1120.05h20.19M1430.87 1044.65h20.19M1433.75 1041.75h20.19M1436.64 1114.25h20.19M1439.52 995.35h20.19M1442.4 1088.15h20.19M1445.29 1041.75h20.19M1448.17 989.55h20.19M1451.06 1047.55h20.19M1453.94 1088.15h20.19M1456.82 1009.85h20.19M1459.71 1122.95h20.19M1462.59 1021.45h20.19M1465.48 1099.75h20.19M1468.36 1041.75h20.19M1471.24 1033.05h20.19M1474.13 1009.85h20.19M1477.01 1096.85h20.19M1479.9 1062.05h20.19M1482.78 1047.55h20.19M1485.66 1062.05h20.19M1488.55 1053.35h20.19M1491.43 1047.55h20.19M1494.32 1088.15h20.19M1497.2 1073.65h20.19M1500.08 1024.35h20.19M1502.97 1096.85h20.19M1505.85 1128.75h20.19M1508.74 1001.15h20.19M1511.62 1012.75h20.19M1514.5 1079.45h20.19M1517.39 1105.55h20.19M1520.27 1073.65h20.19M1523.16 1035.95h20.19M1526.04 980.85h20.19M1528.92 1024.35h20.19M1531.81 1067.85h20.19M1534.69 1044.65h20.19M1537.58 1128.75h20.19M1540.46 1099.75h20.19M1543.34 1027.25h20.19M1546.23 1131.65h20.19M1549.11 1027.25h20.19M1552 1102.65h20.19M1554.88 1128.75h20.19M1557.76 1012.75h20.19M1560.65 975.05h20.19M1563.53 1064.95h20.19M1566.42 1062.05h20.19M1569.3 1099.75h20.19M1572.18 1088.15h20.19M1575.07 1009.85h20.19M1577.95 1070.75h20.19M1580.84 1076.55h20.19M1583.72 1067.85h20.19M1586.6 1062.05h20.19M1589.49 1035.95h20.19M1592.37 1096.85h20.19M1595.26 1059.15h20.19M1598.14 1035.95h20.19M1601.02 1073.65h20.19M1603.91 995.35h20.19M1606.79 1079.45h20.19M1609.68 1050.45h20.19M1612.56 1047.55h20.19M1615.44 1050.45h20.19M1618.33 1122.95h20.19M1621.21 1096.85h20.19M1624.1 1021.45h20.19M1626.98 1009.85h20.19M1629.86 1093.95h20.19M1632.75 1015.65h20.19M1635.63 1001.15h20.19M1638.52 1102.65h20.19M1641.4 1015.65h20.19M1644.28 1004.05h20.19M1647.17 1128.75h20.19M1650.05 1053.35h20.19M1652.94 1053.35h20.19M1655.82 1018.55h20.19M1658.7 1093.95h20.19M1661.59 1044.65h20.19M1664.47 1033.05h20.19M1667.36 1175.15h20.19M1670.24 1120.05h20.19M1673.12 1079.45h20.19M1676.01 1035.95h20.19M1678.89 1024.35h20.19M1681.78 1056.25h20.19M1684.66 1073.65h20.19M1687.54 1076.55h20.19M1690.43 1079.45h20.19M1693.31 1041.75h20.19M1696.2 1088.15h20.19M1699.08 1067.85h20.19M1701.96 1047.55h20.19M1704.85 1033.05h20.19M1707.73 1093.95h20.19M1710.62 1056.25h20.19M1713.5 1102.65h20.19M1716.38 957.65h20.19M1719.27 995.35h20.19M1722.15 1041.75h20.19M1725.04 1070.75h20.19M1727.92 1085.25h20.19M1730.8 1056.25h20.19M1733.69 1096.85h20.19M1736.57 1070.75h20.19M1739.46 1056.25h20.19M1742.34 1059.15h20.19M1745.22 1099.75h20.19M1748.11 1047.55h20.19M1750.99 1030.15h20.19M1753.88 1120.05h20.19M1756.76 1099.75h20.19M1759.64 1044.65h20.19M1762.53 1070.75h20.19M1765.41 1070.75h20.19M1768.3 1108.45h20.19M1771.18 1076.55h20.19M1774.06 1091.05h20.19M1776.95 1041.75h20.19M1779.83 1076.55h20.19M1782.72 1085.25h20.19M1785.6 1093.95h20.19M1788.48 1035.95h20.19M1791.37 1085.25h20.19M1794.25 1067.85h20.19M1797.14 1088.15h20.19M1800.02 1105.55h20.19M1802.9 1001.15h20.19M1805.79 1015.65h20.19M1808.67 1027.25h20.19M1811.56 1079.45h20.19M1814.44 1093.95h20.19M1817.32 1021.45h20.19M1820.21 1096.85h20.19M1823.09 1004.05h20.19M1825.98 1012.75h20.19M1828.86 989.55h20.19M1831.74 1009.85h20.19M1834.63 1021.45h20.19M1837.51 1099.75h20.19M1840.4 1024.35h20.19M1843.28 1111.35h20.19M1846.16 1030.15h20.19M1849.05 1012.75h20.19M1851.93 1027.25h20.19M1854.82 1018.55h20.19M1857.7 1120.05h20.19M1860.58 1085.25h20.19M1863.47 1099.75h20.19M1866.35 1108.45h20.19M1869.24 1009.85h20.19M1872.12 998.25h20.19M1875 1088.15h20.19M1877.89 1027.25h20.19M1880.77 1027.25h20.19M1883.66 1018.55h20.19M1886.54 1128.75h20.19M1889.42 1035.95h20.19M1892.31 1009.85h20.19M1895.19 1166.45h20.19M1898.08 1015.65h20.19M1900.96 1093.95h20.19M1903.84 1111.35h20.19M1906.73 1035.95h20.19M1909.61 986.65h20.19M1912.5 1015.65h20.19M1915.38 1111.35h20.19M1918.26 1099.75h20.19M1921.15 1012.75h20.19M1924.03 1128.75h20.19M1926.92 1012.75h20.19M1929.8 1067.85h20.19M1932.68 1085.25h20.19M1935.57 1056.25h20.19M1938.45 1059.15h20.19M1941.34 1012.75h20.19M1944.22 992.45h20.19M1947.1 1070.75h20.19M1949.99 1009.85h20.19M1952.87 1041.75h20.19M1955.76 1073.65h20.19M1958.64 1047.55h20.19M1961.52 1030.15h20.19M1964.41 1125.85h20.19M1967.29 1099.75h20.19M1970.18 1012.75h20.19M1973.06 1096.85h20.19M1975.94 1117.15h20.19M1978.83 986.65h20.19M1981.71 1041.75h20.19M1984.6 1001.15h20.19M1987.48 1012.75h20.19M1990.36 1082.35h20.19M1993.25 995.35h20.19M1996.13 1044.65h20.19M1999.02 1091.05h20.19M2001.9 1062.05h20.19M2004.78 998.25h20.19M2007.67 977.95h20.19M2010.55 1093.95h20.19M2013.44 1067.85h20.19M2016.32 1050.45h20.19M2019.2 1064.95h20.19M2022.09 1009.85h20.19M2024.97 1030.15h20.19M2027.86 1012.75h20.19M2030.74 1122.95h20.19M2033.62 1012.75h20.19M2036.51 1111.35h20.19M2039.39 992.45h20.19M2042.28 1088.15h20.19M2045.16 1044.65h20.19M2048.04 1047.55h20.19M2050.93 1021.45h20.19M2053.81 1012.75h20.19M2056.7 1140.35h20.19M2059.58 1056.25h20.19M2062.46 1111.35h20.19M2065.35 975.05h20.19M2068.23 1001.15h20.19M2071.12 1018.55h20.19M2074 1079.45h20.19M2076.88 1050.45h20.19M2079.77 986.65h20.19M2082.65 1079.45h20.19M2085.54 1053.35h20.19M2088.42 1009.85h20.19M2091.3 1050.45h20.19M2094.19 1006.95h20.19M2097.07 1018.55h20.19M2099.96 1062.05h20.19M2102.84 1088.15h20.19M2105.72 1059.15h20.19M2108.61 1096.85h20.19M2111.49 1082.35h20.19M2114.38 1012.75h20.19M2117.26 992.45h20.19M2120.14 1070.75h20.19M2123.03 1021.45h20.19M2125.91 1102.65h20.19M2128.8 1067.85h20.19M2131.68 1073.65h20.19M2134.56 1064.95h20.19M2137.45 1009.85h20.19M2140.33 1128.75h20.19M2143.22 1108.45h20.19M2146.1 1012.75h20.19M2148.98 1012.75h20.19M2151.87 1018.55h20.19M2154.75 1091.05h20.19M2157.64 980.85h20.19M2160.52 1024.35h20.19M2163.4 1096.85h20.19M2166.29 1056.25h20.19M2169.17 1056.25h20.19M2172.06 1012.75h20.19M2174.94 1102.65h20.19M2177.82 983.75h20.19M2180.71 1122.95h20.19M2183.59 1009.85h20.19M2186.48 1024.35h20.19M2189.36 1021.45h20.19M2192.24 1091.05h20.19M2195.13 1059.15h20.19M2198.01 1027.25h20.19M2200.9 1120.05h20.19M2203.78 1009.85h20.19M2206.66 1015.65h20.19M2209.55 1120.05h20.19M2212.43 1102.65h20.19M2215.32 983.75h20.19M2218.2 1009.85h20.19M2221.08 1038.85h20.19M2223.97 1099.75h20.19M2226.85 1059.15h20.19M2229.74 1012.75h20.19M2232.62 980.85h20.19M2235.5 995.35h20.19M2238.39 1012.75h20.19M2241.27 1004.05h20.19M2244.16 1001.15h20.19M2247.04 1027.25h20.19M2249.92 1102.65h20.19M2252.81 1044.65h20.19M2255.69 1117.15h20.19M2258.58 1125.85h20.19M2261.46 1064.95h20.19M2264.34 1146.15h20.19M2267.23 1059.15h20.19M2270.11 1004.05h20.19M2273 1015.65h20.19M2275.88 1038.85h20.19M2278.76 1111.35h20.19M2281.65 1166.45h20.19M2284.53 1015.65h20.19M2287.42 1009.85h20.19M2290.3 1137.45h20.19M2293.18 1105.55h20.19M2296.07 1082.35h20.19M2298.95 1018.55h20.19M2301.84 1059.15h20.19M2304.72 1096.85h20.19M2307.6 1033.05h20.19M2310.49 998.25h20.19M2313.37 1047.55h20.19M2316.26 1111.35h20.19M2319.14 1030.15h20.19M2322.02 1004.05h20.19M2324.91 1035.95h20.19M2327.79 1088.15h20.19M2330.68 1018.55h20.19M2333.56 1027.25h20.19M2336.44 1064.95h20.19M2339.33 1009.85h20.19M2342.21 1128.75h20.19M2345.1 1062.05h20.19M2347.98 1041.75h20.19M2350.86 1030.15h20.19M2353.75 1105.55h20.19M2356.63 1030.15h20.19M2359.52 1059.15h20.19M2362.4 1067.85h20.19M2365.28 986.65h20.19M2368.17 1093.95h20.19M2371.05 1027.25h20.19M2373.94 1085.25h20.19M2376.82 1041.75h20.19"/>
</g>
<path class="h" d="M127.3 914.15H2440.27M127.3 1215.75H2440.27"/>
<path class="v" d="M128.74 912.7V1217.2M2438.83 912.7V1217.2"/>
<text x="78.4" y="1225.75" textLength="42" lengthAdjust="spacingAndGlyphs">-20</text>
<text x="79" y="1150.35" textLength="41.4" lengthAdjust="spacingAndGlyphs">-10</text>
<text x="103" y="1074.95" textLength="19.8" lengthAdjust="spacingAndGlyphs">0</text>
<text x="90.5" y="999.55" textLength="30.1" lengthAdjust="spacingAndGlyphs">10</text>
<text x="88" y="924.15" textLength="32.4" lengthAdjust="spacingAndGlyphs">20</text>
<text x="120.24" y="1249.15" textLength="18.8" lengthAdjust="spacingAndGlyphs">0</text>
<text x="393.64" y="1249.15" textLength="47.6" lengthAdjust="spacingAndGlyphs">100</text>
<text x="682.04" y="1249.15" textLength="47.6" lengthAdjust="spacingAndGlyphs">200</text>
<text x="970.44" y="1249.15" textLength="47.6" lengthAdjust="spacingAndGlyphs">300</text>
<text x="1258.84" y="1249.15" textLength="47.6" lengthAdjust="spacingAndGlyphs">400</text>
<text x="1547.24" y="1249.15" textLength="47.6" lengthAdjust="spacingAndGlyphs">500</text>
<text x="1835.64" y="1249.15" textLength="47.6" lengthAdjust="spacingAndGlyphs">600</text>
<text x="2124.04" y="1249.15" textLength="47.6" lengthAdjust="spacingAndGlyphs">700</text>
<text x="2412.44" y="1249.15" textLength="47.6" lengthAdjust="spacingAndGlyphs">800</text>
<text x="1221.4" y="1286.95" textLength="116" lengthAdjust="spacingAndGlyphs">Epoch(s)</text>
<text transform="translate(42.4 1063.45) rotate(-90)" text-anchor="middle">Z<tspan font-size="22.5" dx="-3.5" dy="15.5">err</tspan><tspan dx="3" dy="-15.5">(m)</tspan></text>
<rect class="lg" x="1822.9" y="927.3" width="602.9" height="92.9"/>
<path class="h" d="M1822.9 928.75H2425.8M1822.9 1018.75H2425.8"/>
<path class="v" d="M1824.34 927.3V1020.2M2424.36 927.3V1020.2"/>
<path class="rh" d="M1839.9 951.75H1927.6"/>
<path class="h" d="M1843.3 992.65H1927.6"/>
<path class="v" d="M1885.4 985.05v17.8"/>
<text x="1935.4" y="964.65" textLength="161.6" lengthAdjust="spacingAndGlyphs">Suppressing</text>
<text x="2103" y="964.65" textLength="108.7" lengthAdjust="spacingAndGlyphs">Spoofing</text>
<text x="2220.9" y="964.65" textLength="82.9" lengthAdjust="spacingAndGlyphs">Based</text>
<text x="2307.9" y="964.65" textLength="32.7" lengthAdjust="spacingAndGlyphs">on</text>
<text x="2349.2" y="964.65" textLength="64.2" lengthAdjust="spacingAndGlyphs">DOA</text>
<text x="1935.4" y="1005.05" textLength="124.2" lengthAdjust="spacingAndGlyphs">Algorithm</text>
<text x="2064.3" y="1005.05" textLength="25.6" lengthAdjust="spacingAndGlyphs">in</text>
<text x="2097.9" y="1005.05" textLength="40.3" lengthAdjust="spacingAndGlyphs">this</text>
<text x="2150.6" y="1005.05" textLength="73.3" lengthAdjust="spacingAndGlyphs">paper</text>
</g>
</svg>
</body>
</html>
